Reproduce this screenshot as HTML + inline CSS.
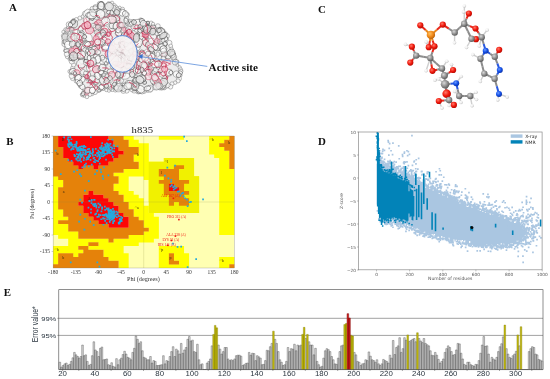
<!DOCTYPE html>
<html lang="en"><head><meta charset="utf-8"><title>Figure</title>
<style>html,body{margin:0;padding:0;background:#fff}svg{display:block}</style></head><body>
<svg width="550" height="379" viewBox="0 0 550 379">
<defs><radialGradient id="gO" cx="0.38" cy="0.35" r="0.7"><stop offset="0" stop-color="#ff7a6a"/><stop offset="0.55" stop-color="#f0180c"/><stop offset="1" stop-color="#b00800"/></radialGradient><radialGradient id="gP" cx="0.38" cy="0.35" r="0.7"><stop offset="0" stop-color="#ffc060"/><stop offset="0.55" stop-color="#f08818"/><stop offset="1" stop-color="#b05c08"/></radialGradient><radialGradient id="gC" cx="0.38" cy="0.35" r="0.7"><stop offset="0" stop-color="#d8d8d8"/><stop offset="0.55" stop-color="#8e8e8e"/><stop offset="1" stop-color="#555"/></radialGradient><radialGradient id="gN" cx="0.38" cy="0.35" r="0.7"><stop offset="0" stop-color="#6a9aff"/><stop offset="0.55" stop-color="#1450e8"/><stop offset="1" stop-color="#0a2ea0"/></radialGradient><radialGradient id="gH" cx="0.38" cy="0.35" r="0.7"><stop offset="0" stop-color="#ffffff"/><stop offset="0.55" stop-color="#ececec"/><stop offset="1" stop-color="#b8b8b8"/></radialGradient></defs>
<rect width="550" height="379" fill="#fff"/>
<g id="panelA">
<polygon points="95.3,6.7 99.1,3.6 105.5,4.7 111.9,3.7 117.0,6.9 122.1,9.5 126.4,14.7 127.8,21.3 133.4,22.0 141.1,20.3 147.5,22.2 153.9,24.7 160.4,28.5 165.6,33.5 166.8,39.9 170.7,46.3 173.4,52.7 174.7,59.1 179.7,66.8 180.8,74.6 177.2,81.0 169.7,86.1 161.9,87.3 154.1,87.2 147.6,91.0 138.6,91.4 131.0,89.4 123.3,90.7 118.3,88.0 111.9,90.7 103.1,89.5 95.3,92.2 87.5,96.2 82.4,95.0 83.8,88.5 78.7,83.4 73.2,78.3 70.2,70.6 73.9,64.2 67.9,56.5 65.3,47.6 63.9,38.6 63.6,32.2 67.5,27.1 70.9,21.9 76.0,19.4 82.5,16.9 86.3,11.8" fill="#ededed" stroke="#8a8a8a" stroke-width="0.7" stroke-linejoin="round"/>
<circle cx="95.5" cy="7.1" r="2.5" fill="#f7f7f7" stroke="#7a7a7a" stroke-width="0.5"/>
<circle cx="99.8" cy="4.0" r="2.6" fill="#f7f7f7" stroke="#7a7a7a" stroke-width="0.5"/>
<circle cx="101.6" cy="4.1" r="2.6" fill="#f7f7f7" stroke="#7a7a7a" stroke-width="0.5"/>
<circle cx="105.8" cy="5.3" r="1.6" fill="#f7f7f7" stroke="#7a7a7a" stroke-width="0.5"/>
<circle cx="108.7" cy="3.8" r="2.2" fill="#f7f7f7" stroke="#7a7a7a" stroke-width="0.5"/>
<circle cx="112.0" cy="2.9" r="1.8" fill="#f7f7f7" stroke="#7a7a7a" stroke-width="0.5"/>
<circle cx="114.1" cy="5.9" r="2.4" fill="#f7f7f7" stroke="#7a7a7a" stroke-width="0.5"/>
<circle cx="116.5" cy="7.3" r="1.7" fill="#f7f7f7" stroke="#7a7a7a" stroke-width="0.5"/>
<circle cx="119.7" cy="7.6" r="1.5" fill="#f7f7f7" stroke="#7a7a7a" stroke-width="0.5"/>
<circle cx="122.7" cy="9.0" r="1.8" fill="#f7f7f7" stroke="#7a7a7a" stroke-width="0.5"/>
<circle cx="125.0" cy="12.7" r="1.8" fill="#f7f7f7" stroke="#7a7a7a" stroke-width="0.5"/>
<circle cx="127.1" cy="14.8" r="2.3" fill="#f7f7f7" stroke="#7a7a7a" stroke-width="0.5"/>
<circle cx="126.6" cy="18.7" r="2.3" fill="#f7f7f7" stroke="#7a7a7a" stroke-width="0.5"/>
<circle cx="128.6" cy="21.9" r="1.9" fill="#f7f7f7" stroke="#7a7a7a" stroke-width="0.5"/>
<circle cx="130.4" cy="21.1" r="1.7" fill="#f7f7f7" stroke="#7a7a7a" stroke-width="0.5"/>
<circle cx="132.7" cy="21.7" r="2.2" fill="#f7f7f7" stroke="#7a7a7a" stroke-width="0.5"/>
<circle cx="135.1" cy="21.7" r="1.9" fill="#f7f7f7" stroke="#7a7a7a" stroke-width="0.5"/>
<circle cx="138.2" cy="21.4" r="2.1" fill="#f7f7f7" stroke="#7a7a7a" stroke-width="0.5"/>
<circle cx="140.8" cy="20.2" r="2.3" fill="#f7f7f7" stroke="#7a7a7a" stroke-width="0.5"/>
<circle cx="143.6" cy="22.0" r="1.5" fill="#f7f7f7" stroke="#7a7a7a" stroke-width="0.5"/>
<circle cx="147.9" cy="22.8" r="1.5" fill="#f7f7f7" stroke="#7a7a7a" stroke-width="0.5"/>
<circle cx="151.1" cy="23.2" r="2.2" fill="#f7f7f7" stroke="#7a7a7a" stroke-width="0.5"/>
<circle cx="153.1" cy="24.0" r="1.7" fill="#f7f7f7" stroke="#7a7a7a" stroke-width="0.5"/>
<circle cx="157.9" cy="26.1" r="2.4" fill="#f7f7f7" stroke="#7a7a7a" stroke-width="0.5"/>
<circle cx="161.1" cy="29.2" r="1.9" fill="#f7f7f7" stroke="#7a7a7a" stroke-width="0.5"/>
<circle cx="162.7" cy="31.0" r="2.4" fill="#f7f7f7" stroke="#7a7a7a" stroke-width="0.5"/>
<circle cx="164.9" cy="33.9" r="2.5" fill="#f7f7f7" stroke="#7a7a7a" stroke-width="0.5"/>
<circle cx="166.8" cy="36.0" r="2.6" fill="#f7f7f7" stroke="#7a7a7a" stroke-width="0.5"/>
<circle cx="166.2" cy="39.7" r="2.2" fill="#f7f7f7" stroke="#7a7a7a" stroke-width="0.5"/>
<circle cx="169.4" cy="42.9" r="2.6" fill="#f7f7f7" stroke="#7a7a7a" stroke-width="0.5"/>
<circle cx="170.8" cy="46.0" r="1.9" fill="#f7f7f7" stroke="#7a7a7a" stroke-width="0.5"/>
<circle cx="171.5" cy="48.8" r="1.7" fill="#f7f7f7" stroke="#7a7a7a" stroke-width="0.5"/>
<circle cx="173.7" cy="53.5" r="1.7" fill="#f7f7f7" stroke="#7a7a7a" stroke-width="0.5"/>
<circle cx="173.3" cy="56.7" r="2.1" fill="#f7f7f7" stroke="#7a7a7a" stroke-width="0.5"/>
<circle cx="174.5" cy="58.7" r="2.2" fill="#f7f7f7" stroke="#7a7a7a" stroke-width="0.5"/>
<circle cx="176.9" cy="61.6" r="2.0" fill="#f7f7f7" stroke="#7a7a7a" stroke-width="0.5"/>
<circle cx="177.3" cy="64.9" r="1.5" fill="#f7f7f7" stroke="#7a7a7a" stroke-width="0.5"/>
<circle cx="179.7" cy="67.4" r="1.7" fill="#f7f7f7" stroke="#7a7a7a" stroke-width="0.5"/>
<circle cx="180.5" cy="70.1" r="2.3" fill="#f7f7f7" stroke="#7a7a7a" stroke-width="0.5"/>
<circle cx="180.9" cy="71.4" r="2.0" fill="#f7f7f7" stroke="#7a7a7a" stroke-width="0.5"/>
<circle cx="180.3" cy="75.1" r="1.9" fill="#f7f7f7" stroke="#7a7a7a" stroke-width="0.5"/>
<circle cx="179.0" cy="78.6" r="2.5" fill="#f7f7f7" stroke="#7a7a7a" stroke-width="0.5"/>
<circle cx="178.0" cy="80.9" r="2.1" fill="#f7f7f7" stroke="#7a7a7a" stroke-width="0.5"/>
<circle cx="175.1" cy="82.7" r="1.8" fill="#f7f7f7" stroke="#7a7a7a" stroke-width="0.5"/>
<circle cx="172.0" cy="83.8" r="2.0" fill="#f7f7f7" stroke="#7a7a7a" stroke-width="0.5"/>
<circle cx="170.5" cy="86.8" r="2.3" fill="#f7f7f7" stroke="#7a7a7a" stroke-width="0.5"/>
<circle cx="167.1" cy="86.2" r="1.6" fill="#f7f7f7" stroke="#7a7a7a" stroke-width="0.5"/>
<circle cx="164.1" cy="87.4" r="2.5" fill="#f7f7f7" stroke="#7a7a7a" stroke-width="0.5"/>
<circle cx="161.6" cy="87.8" r="2.4" fill="#f7f7f7" stroke="#7a7a7a" stroke-width="0.5"/>
<circle cx="159.6" cy="87.5" r="2.4" fill="#f7f7f7" stroke="#7a7a7a" stroke-width="0.5"/>
<circle cx="156.4" cy="87.6" r="1.8" fill="#f7f7f7" stroke="#7a7a7a" stroke-width="0.5"/>
<circle cx="154.0" cy="87.6" r="2.3" fill="#f7f7f7" stroke="#7a7a7a" stroke-width="0.5"/>
<circle cx="150.5" cy="89.8" r="2.3" fill="#f7f7f7" stroke="#7a7a7a" stroke-width="0.5"/>
<circle cx="147.8" cy="90.2" r="2.2" fill="#f7f7f7" stroke="#7a7a7a" stroke-width="0.5"/>
<circle cx="144.2" cy="91.4" r="2.1" fill="#f7f7f7" stroke="#7a7a7a" stroke-width="0.5"/>
<circle cx="142.1" cy="91.5" r="2.5" fill="#f7f7f7" stroke="#7a7a7a" stroke-width="0.5"/>
<circle cx="138.4" cy="91.6" r="2.4" fill="#f7f7f7" stroke="#7a7a7a" stroke-width="0.5"/>
<circle cx="136.6" cy="90.5" r="2.5" fill="#f7f7f7" stroke="#7a7a7a" stroke-width="0.5"/>
<circle cx="134.1" cy="90.4" r="2.7" fill="#f7f7f7" stroke="#7a7a7a" stroke-width="0.5"/>
<circle cx="131.7" cy="89.5" r="2.1" fill="#f7f7f7" stroke="#7a7a7a" stroke-width="0.5"/>
<circle cx="126.6" cy="90.6" r="2.6" fill="#f7f7f7" stroke="#7a7a7a" stroke-width="0.5"/>
<circle cx="123.3" cy="91.0" r="2.4" fill="#f7f7f7" stroke="#7a7a7a" stroke-width="0.5"/>
<circle cx="121.2" cy="88.8" r="2.4" fill="#f7f7f7" stroke="#7a7a7a" stroke-width="0.5"/>
<circle cx="118.4" cy="88.3" r="2.0" fill="#f7f7f7" stroke="#7a7a7a" stroke-width="0.5"/>
<circle cx="115.3" cy="89.8" r="2.3" fill="#f7f7f7" stroke="#7a7a7a" stroke-width="0.5"/>
<circle cx="112.3" cy="89.9" r="1.7" fill="#f7f7f7" stroke="#7a7a7a" stroke-width="0.5"/>
<circle cx="108.9" cy="90.5" r="1.8" fill="#f7f7f7" stroke="#7a7a7a" stroke-width="0.5"/>
<circle cx="106.3" cy="90.1" r="1.6" fill="#f7f7f7" stroke="#7a7a7a" stroke-width="0.5"/>
<circle cx="103.0" cy="89.0" r="1.6" fill="#f7f7f7" stroke="#7a7a7a" stroke-width="0.5"/>
<circle cx="99.9" cy="90.1" r="1.7" fill="#f7f7f7" stroke="#7a7a7a" stroke-width="0.5"/>
<circle cx="97.4" cy="90.5" r="2.1" fill="#f7f7f7" stroke="#7a7a7a" stroke-width="0.5"/>
<circle cx="95.1" cy="92.4" r="2.2" fill="#f7f7f7" stroke="#7a7a7a" stroke-width="0.5"/>
<circle cx="92.3" cy="94.2" r="1.5" fill="#f7f7f7" stroke="#7a7a7a" stroke-width="0.5"/>
<circle cx="90.0" cy="94.5" r="2.0" fill="#f7f7f7" stroke="#7a7a7a" stroke-width="0.5"/>
<circle cx="86.9" cy="96.8" r="1.9" fill="#f7f7f7" stroke="#7a7a7a" stroke-width="0.5"/>
<circle cx="84.2" cy="95.8" r="1.6" fill="#f7f7f7" stroke="#7a7a7a" stroke-width="0.5"/>
<circle cx="82.5" cy="94.7" r="2.2" fill="#f7f7f7" stroke="#7a7a7a" stroke-width="0.5"/>
<circle cx="83.8" cy="92.2" r="2.0" fill="#f7f7f7" stroke="#7a7a7a" stroke-width="0.5"/>
<circle cx="84.3" cy="88.7" r="1.9" fill="#f7f7f7" stroke="#7a7a7a" stroke-width="0.5"/>
<circle cx="80.6" cy="86.1" r="2.2" fill="#f7f7f7" stroke="#7a7a7a" stroke-width="0.5"/>
<circle cx="79.4" cy="84.1" r="2.2" fill="#f7f7f7" stroke="#7a7a7a" stroke-width="0.5"/>
<circle cx="75.7" cy="81.4" r="1.5" fill="#f7f7f7" stroke="#7a7a7a" stroke-width="0.5"/>
<circle cx="72.6" cy="78.4" r="2.2" fill="#f7f7f7" stroke="#7a7a7a" stroke-width="0.5"/>
<circle cx="71.7" cy="75.9" r="2.6" fill="#f7f7f7" stroke="#7a7a7a" stroke-width="0.5"/>
<circle cx="71.0" cy="73.0" r="1.8" fill="#f7f7f7" stroke="#7a7a7a" stroke-width="0.5"/>
<circle cx="69.9" cy="71.4" r="2.0" fill="#f7f7f7" stroke="#7a7a7a" stroke-width="0.5"/>
<circle cx="72.8" cy="68.0" r="2.2" fill="#f7f7f7" stroke="#7a7a7a" stroke-width="0.5"/>
<circle cx="73.6" cy="64.9" r="2.1" fill="#f7f7f7" stroke="#7a7a7a" stroke-width="0.5"/>
<circle cx="71.8" cy="61.3" r="2.7" fill="#f7f7f7" stroke="#7a7a7a" stroke-width="0.5"/>
<circle cx="69.9" cy="58.7" r="2.1" fill="#f7f7f7" stroke="#7a7a7a" stroke-width="0.5"/>
<circle cx="67.3" cy="56.7" r="2.0" fill="#f7f7f7" stroke="#7a7a7a" stroke-width="0.5"/>
<circle cx="66.7" cy="54.0" r="2.5" fill="#f7f7f7" stroke="#7a7a7a" stroke-width="0.5"/>
<circle cx="65.4" cy="50.6" r="1.8" fill="#f7f7f7" stroke="#7a7a7a" stroke-width="0.5"/>
<circle cx="66.0" cy="48.0" r="1.8" fill="#f7f7f7" stroke="#7a7a7a" stroke-width="0.5"/>
<circle cx="64.5" cy="44.0" r="2.7" fill="#f7f7f7" stroke="#7a7a7a" stroke-width="0.5"/>
<circle cx="64.1" cy="41.8" r="2.1" fill="#f7f7f7" stroke="#7a7a7a" stroke-width="0.5"/>
<circle cx="64.2" cy="38.8" r="2.4" fill="#f7f7f7" stroke="#7a7a7a" stroke-width="0.5"/>
<circle cx="63.2" cy="35.8" r="1.9" fill="#f7f7f7" stroke="#7a7a7a" stroke-width="0.5"/>
<circle cx="63.7" cy="31.9" r="1.9" fill="#f7f7f7" stroke="#7a7a7a" stroke-width="0.5"/>
<circle cx="65.6" cy="29.6" r="1.9" fill="#f7f7f7" stroke="#7a7a7a" stroke-width="0.5"/>
<circle cx="67.9" cy="27.2" r="1.5" fill="#f7f7f7" stroke="#7a7a7a" stroke-width="0.5"/>
<circle cx="68.8" cy="24.4" r="2.6" fill="#f7f7f7" stroke="#7a7a7a" stroke-width="0.5"/>
<circle cx="71.5" cy="22.0" r="1.5" fill="#f7f7f7" stroke="#7a7a7a" stroke-width="0.5"/>
<circle cx="73.9" cy="20.6" r="2.2" fill="#f7f7f7" stroke="#7a7a7a" stroke-width="0.5"/>
<circle cx="76.4" cy="19.6" r="2.1" fill="#f7f7f7" stroke="#7a7a7a" stroke-width="0.5"/>
<circle cx="79.9" cy="18.0" r="2.0" fill="#f7f7f7" stroke="#7a7a7a" stroke-width="0.5"/>
<circle cx="83.1" cy="16.4" r="1.9" fill="#f7f7f7" stroke="#7a7a7a" stroke-width="0.5"/>
<circle cx="84.9" cy="13.7" r="2.5" fill="#f7f7f7" stroke="#7a7a7a" stroke-width="0.5"/>
<circle cx="86.6" cy="11.7" r="1.8" fill="#f7f7f7" stroke="#7a7a7a" stroke-width="0.5"/>
<circle cx="89.8" cy="10.8" r="1.7" fill="#f7f7f7" stroke="#7a7a7a" stroke-width="0.5"/>
<circle cx="92.3" cy="8.5" r="2.1" fill="#f7f7f7" stroke="#7a7a7a" stroke-width="0.5"/>
<ellipse cx="99.7" cy="16.7" rx="3.5" ry="2.4" transform="rotate(41 99.7 16.7)" fill="#ffffff" fill-opacity="0.6" stroke="#444" stroke-width="0.55" stroke-opacity="1.0"/>
<ellipse cx="100.0" cy="43.2" rx="1.8" ry="1.8" transform="rotate(22 100.0 43.2)" fill="#f7f0f0" fill-opacity="0.85" stroke="#d0506c" stroke-width="0.5" stroke-opacity="0.85"/>
<ellipse cx="146.9" cy="44.0" rx="1.8" ry="2.4" transform="rotate(12 146.9 44.0)" fill="#f7f0f0" fill-opacity="0.7" stroke="#c23a5a" stroke-width="0.9" stroke-opacity="0.85"/>
<ellipse cx="151.9" cy="28.9" rx="2.5" ry="2.9" transform="rotate(112 151.9 28.9)" fill="#f6c3cf" fill-opacity="0.85" stroke="#b83050" stroke-width="0.9" stroke-opacity="0.85"/>
<ellipse cx="119.7" cy="35.9" rx="3.8" ry="2.6" transform="rotate(53 119.7 35.9)" fill="#e0e0e0" fill-opacity="0.9" stroke="#444" stroke-width="0.55" stroke-opacity="0.8"/>
<ellipse cx="127.3" cy="23.2" rx="1.6" ry="2.1" transform="rotate(51 127.3 23.2)" fill="#f4f4f4" fill-opacity="0.75" stroke="#444" stroke-width="0.55" stroke-opacity="0.8"/>
<ellipse cx="147.9" cy="64.9" rx="2.0" ry="1.5" transform="rotate(22 147.9 64.9)" fill="#f4f4f4" fill-opacity="0.75" stroke="#444" stroke-width="0.55" stroke-opacity="0.8"/>
<ellipse cx="118.5" cy="33.0" rx="2.7" ry="3.9" transform="rotate(10 118.5 33.0)" fill="#f1a5b7" fill-opacity="0.85" stroke="#d0506c" stroke-width="0.5" stroke-opacity="0.85"/>
<ellipse cx="141.8" cy="80.8" rx="2.1" ry="1.9" transform="rotate(42 141.8 80.8)" fill="#e0e0e0" fill-opacity="0.75" stroke="#444" stroke-width="0.55" stroke-opacity="1.0"/>
<ellipse cx="158.3" cy="38.3" rx="3.1" ry="3.0" transform="rotate(114 158.3 38.3)" fill="#fafafa" fill-opacity="0.6" stroke="#444" stroke-width="0.55" stroke-opacity="1.0"/>
<ellipse cx="132.7" cy="57.0" rx="3.2" ry="2.7" transform="rotate(6 132.7 57.0)" fill="#f6c3cf" fill-opacity="0.85" stroke="#b83050" stroke-width="0.7" stroke-opacity="0.85"/>
<ellipse cx="117.2" cy="87.4" rx="3.0" ry="3.1" transform="rotate(18 117.2 87.4)" fill="#f4f4f4" fill-opacity="0.75" stroke="#444" stroke-width="0.55" stroke-opacity="0.6"/>
<ellipse cx="167.5" cy="85.4" rx="2.8" ry="2.3" transform="rotate(147 167.5 85.4)" fill="#f4f4f4" fill-opacity="0.75" stroke="#444" stroke-width="0.55" stroke-opacity="0.6"/>
<ellipse cx="152.8" cy="32.3" rx="1.4" ry="1.8" transform="rotate(153 152.8 32.3)" fill="#fafafa" fill-opacity="0.75" stroke="#444" stroke-width="0.55" stroke-opacity="0.8"/>
<ellipse cx="143.0" cy="72.0" rx="1.8" ry="1.6" transform="rotate(41 143.0 72.0)" fill="#f1a5b7" fill-opacity="0.85" stroke="#d0506c" stroke-width="0.7" stroke-opacity="0.85"/>
<ellipse cx="97.3" cy="46.9" rx="2.6" ry="2.6" transform="rotate(29 97.3 46.9)" fill="#f4b4c3" fill-opacity="0.85" stroke="#c23a5a" stroke-width="0.9" stroke-opacity="0.85"/>
<ellipse cx="156.2" cy="41.4" rx="1.8" ry="2.2" transform="rotate(93 156.2 41.4)" fill="#ffffff" fill-opacity="0.6" stroke="#444" stroke-width="0.55" stroke-opacity="1.0"/>
<ellipse cx="87.9" cy="79.1" rx="1.9" ry="2.1" transform="rotate(116 87.9 79.1)" fill="#ffffff" fill-opacity="0.75" stroke="#444" stroke-width="0.55" stroke-opacity="0.6"/>
<ellipse cx="163.0" cy="44.8" rx="3.7" ry="3.8" transform="rotate(35 163.0 44.8)" fill="#e9e9e9" fill-opacity="0.9" stroke="#444" stroke-width="0.55" stroke-opacity="0.6"/>
<ellipse cx="87.4" cy="91.0" rx="2.8" ry="4.3" transform="rotate(29 87.4 91.0)" fill="#f4b4c3" fill-opacity="0.7" stroke="#d0506c" stroke-width="0.5" stroke-opacity="0.85"/>
<ellipse cx="126.0" cy="48.7" rx="2.8" ry="3.2" transform="rotate(131 126.0 48.7)" fill="#fafafa" fill-opacity="0.75" stroke="#444" stroke-width="0.55" stroke-opacity="1.0"/>
<ellipse cx="118.9" cy="76.9" rx="2.2" ry="1.9" transform="rotate(97 118.9 76.9)" fill="#ffffff" fill-opacity="0.9" stroke="#444" stroke-width="0.55" stroke-opacity="0.8"/>
<ellipse cx="142.0" cy="28.5" rx="2.5" ry="3.1" transform="rotate(143 142.0 28.5)" fill="#ffffff" fill-opacity="0.75" stroke="#444" stroke-width="0.55" stroke-opacity="0.6"/>
<ellipse cx="155.0" cy="38.5" rx="2.6" ry="3.1" transform="rotate(169 155.0 38.5)" fill="#f6c3cf" fill-opacity="0.85" stroke="#b83050" stroke-width="0.5" stroke-opacity="0.85"/>
<ellipse cx="149.7" cy="69.3" rx="2.6" ry="2.2" transform="rotate(23 149.7 69.3)" fill="#f4b4c3" fill-opacity="0.7" stroke="#c23a5a" stroke-width="0.7" stroke-opacity="0.85"/>
<ellipse cx="143.2" cy="29.4" rx="2.1" ry="1.9" transform="rotate(5 143.2 29.4)" fill="#f4b4c3" fill-opacity="0.7" stroke="#b83050" stroke-width="0.7" stroke-opacity="0.85"/>
<ellipse cx="87.1" cy="43.2" rx="2.3" ry="1.9" transform="rotate(105 87.1 43.2)" fill="#ffffff" fill-opacity="0.9" stroke="#444" stroke-width="0.55" stroke-opacity="0.8"/>
<ellipse cx="134.3" cy="62.5" rx="2.3" ry="1.9" transform="rotate(77 134.3 62.5)" fill="#e9e9e9" fill-opacity="0.75" stroke="#444" stroke-width="0.55" stroke-opacity="0.6"/>
<ellipse cx="78.2" cy="47.4" rx="2.1" ry="2.3" transform="rotate(153 78.2 47.4)" fill="#f4f4f4" fill-opacity="0.6" stroke="#444" stroke-width="0.55" stroke-opacity="0.6"/>
<ellipse cx="146.8" cy="36.0" rx="2.4" ry="3.2" transform="rotate(55 146.8 36.0)" fill="#f4f4f4" fill-opacity="0.75" stroke="#444" stroke-width="0.55" stroke-opacity="0.8"/>
<ellipse cx="159.9" cy="80.2" rx="3.8" ry="2.5" transform="rotate(89 159.9 80.2)" fill="#f4f4f4" fill-opacity="0.75" stroke="#444" stroke-width="0.55" stroke-opacity="0.6"/>
<ellipse cx="106.1" cy="11.0" rx="2.9" ry="2.3" transform="rotate(166 106.1 11.0)" fill="#fafafa" fill-opacity="0.9" stroke="#444" stroke-width="0.55" stroke-opacity="0.8"/>
<ellipse cx="117.2" cy="53.2" rx="1.6" ry="2.1" transform="rotate(19 117.2 53.2)" fill="#e0e0e0" fill-opacity="0.75" stroke="#444" stroke-width="0.55" stroke-opacity="0.6"/>
<ellipse cx="134.9" cy="51.3" rx="2.9" ry="3.1" transform="rotate(81 134.9 51.3)" fill="#e0e0e0" fill-opacity="0.9" stroke="#444" stroke-width="0.55" stroke-opacity="1.0"/>
<ellipse cx="142.4" cy="53.5" rx="3.3" ry="3.7" transform="rotate(122 142.4 53.5)" fill="#fafafa" fill-opacity="0.6" stroke="#444" stroke-width="0.55" stroke-opacity="0.8"/>
<ellipse cx="134.9" cy="84.8" rx="3.7" ry="4.7" transform="rotate(3 134.9 84.8)" fill="#f4f4f4" fill-opacity="0.6" stroke="#444" stroke-width="0.55" stroke-opacity="0.6"/>
<ellipse cx="152.9" cy="66.3" rx="4.6" ry="4.2" transform="rotate(151 152.9 66.3)" fill="#e0e0e0" fill-opacity="0.6" stroke="#444" stroke-width="0.55" stroke-opacity="1.0"/>
<ellipse cx="118.9" cy="10.8" rx="1.8" ry="2.2" transform="rotate(76 118.9 10.8)" fill="#e9e9e9" fill-opacity="0.6" stroke="#444" stroke-width="0.55" stroke-opacity="0.8"/>
<ellipse cx="152.6" cy="52.7" rx="2.3" ry="2.0" transform="rotate(58 152.6 52.7)" fill="#e0e0e0" fill-opacity="0.9" stroke="#444" stroke-width="0.55" stroke-opacity="1.0"/>
<ellipse cx="70.6" cy="30.2" rx="4.0" ry="2.8" transform="rotate(171 70.6 30.2)" fill="#f1a5b7" fill-opacity="0.85" stroke="#c23a5a" stroke-width="0.5" stroke-opacity="0.85"/>
<ellipse cx="162.6" cy="86.3" rx="3.2" ry="3.2" transform="rotate(95 162.6 86.3)" fill="#fafafa" fill-opacity="0.75" stroke="#444" stroke-width="0.55" stroke-opacity="0.8"/>
<ellipse cx="99.7" cy="42.5" rx="1.8" ry="2.1" transform="rotate(101 99.7 42.5)" fill="#fafafa" fill-opacity="0.6" stroke="#444" stroke-width="0.55" stroke-opacity="1.0"/>
<ellipse cx="139.4" cy="68.3" rx="2.7" ry="3.3" transform="rotate(150 139.4 68.3)" fill="#fafafa" fill-opacity="0.75" stroke="#444" stroke-width="0.55" stroke-opacity="0.6"/>
<ellipse cx="139.3" cy="91.0" rx="2.4" ry="2.6" transform="rotate(86 139.3 91.0)" fill="#f4f4f4" fill-opacity="0.6" stroke="#444" stroke-width="0.55" stroke-opacity="1.0"/>
<ellipse cx="72.1" cy="34.2" rx="2.8" ry="2.6" transform="rotate(79 72.1 34.2)" fill="#f4f4f4" fill-opacity="0.9" stroke="#444" stroke-width="0.55" stroke-opacity="1.0"/>
<ellipse cx="84.0" cy="37.9" rx="3.0" ry="3.1" transform="rotate(15 84.0 37.9)" fill="#e0e0e0" fill-opacity="0.75" stroke="#444" stroke-width="0.55" stroke-opacity="0.8"/>
<ellipse cx="101.2" cy="73.3" rx="3.4" ry="3.1" transform="rotate(3 101.2 73.3)" fill="#fafafa" fill-opacity="0.6" stroke="#444" stroke-width="0.55" stroke-opacity="1.0"/>
<ellipse cx="94.6" cy="49.9" rx="3.7" ry="3.4" transform="rotate(53 94.6 49.9)" fill="#ffffff" fill-opacity="0.75" stroke="#444" stroke-width="0.55" stroke-opacity="1.0"/>
<ellipse cx="88.0" cy="66.0" rx="1.6" ry="1.5" transform="rotate(86 88.0 66.0)" fill="#e0e0e0" fill-opacity="0.6" stroke="#444" stroke-width="0.55" stroke-opacity="0.8"/>
<ellipse cx="69.6" cy="36.2" rx="2.7" ry="4.0" transform="rotate(65 69.6 36.2)" fill="#fbe3e8" fill-opacity="0.7" stroke="#d0506c" stroke-width="0.7" stroke-opacity="0.85"/>
<ellipse cx="133.4" cy="82.6" rx="2.1" ry="2.3" transform="rotate(139 133.4 82.6)" fill="#e0e0e0" fill-opacity="0.9" stroke="#444" stroke-width="0.55" stroke-opacity="1.0"/>
<ellipse cx="135.9" cy="58.4" rx="2.1" ry="2.4" transform="rotate(146 135.9 58.4)" fill="#e9e9e9" fill-opacity="0.6" stroke="#444" stroke-width="0.55" stroke-opacity="0.8"/>
<ellipse cx="156.4" cy="42.5" rx="4.8" ry="3.4" transform="rotate(76 156.4 42.5)" fill="#e9e9e9" fill-opacity="0.75" stroke="#444" stroke-width="0.55" stroke-opacity="0.8"/>
<ellipse cx="154.9" cy="74.8" rx="2.0" ry="1.4" transform="rotate(74 154.9 74.8)" fill="#f6c3cf" fill-opacity="0.7" stroke="#d0506c" stroke-width="0.7" stroke-opacity="0.85"/>
<ellipse cx="87.8" cy="90.3" rx="3.0" ry="3.3" transform="rotate(77 87.8 90.3)" fill="#fafafa" fill-opacity="0.6" stroke="#444" stroke-width="0.55" stroke-opacity="0.8"/>
<ellipse cx="77.1" cy="51.8" rx="4.3" ry="3.2" transform="rotate(20 77.1 51.8)" fill="#fafafa" fill-opacity="0.75" stroke="#444" stroke-width="0.55" stroke-opacity="0.8"/>
<ellipse cx="172.2" cy="54.6" rx="3.2" ry="3.3" transform="rotate(25 172.2 54.6)" fill="#ffffff" fill-opacity="0.75" stroke="#444" stroke-width="0.55" stroke-opacity="1.0"/>
<ellipse cx="74.8" cy="48.2" rx="2.5" ry="3.7" transform="rotate(75 74.8 48.2)" fill="#e0e0e0" fill-opacity="0.75" stroke="#444" stroke-width="0.55" stroke-opacity="0.6"/>
<ellipse cx="101.6" cy="4.1" rx="2.3" ry="2.5" transform="rotate(166 101.6 4.1)" fill="#e0e0e0" fill-opacity="0.9" stroke="#444" stroke-width="0.55" stroke-opacity="0.8"/>
<ellipse cx="131.5" cy="59.0" rx="2.4" ry="3.0" transform="rotate(106 131.5 59.0)" fill="#e9e9e9" fill-opacity="0.9" stroke="#444" stroke-width="0.55" stroke-opacity="0.6"/>
<ellipse cx="84.7" cy="61.4" rx="1.9" ry="2.2" transform="rotate(67 84.7 61.4)" fill="#e9e9e9" fill-opacity="0.6" stroke="#444" stroke-width="0.55" stroke-opacity="0.8"/>
<ellipse cx="120.3" cy="56.3" rx="2.1" ry="1.7" transform="rotate(16 120.3 56.3)" fill="#f4f4f4" fill-opacity="0.75" stroke="#444" stroke-width="0.55" stroke-opacity="0.8"/>
<ellipse cx="91.2" cy="28.5" rx="3.9" ry="3.1" transform="rotate(149 91.2 28.5)" fill="#e9e9e9" fill-opacity="0.9" stroke="#444" stroke-width="0.55" stroke-opacity="0.6"/>
<ellipse cx="157.4" cy="69.4" rx="3.6" ry="3.7" transform="rotate(151 157.4 69.4)" fill="#e0e0e0" fill-opacity="0.9" stroke="#444" stroke-width="0.55" stroke-opacity="0.6"/>
<ellipse cx="102.7" cy="13.9" rx="3.0" ry="2.9" transform="rotate(121 102.7 13.9)" fill="#ffffff" fill-opacity="0.75" stroke="#444" stroke-width="0.55" stroke-opacity="1.0"/>
<ellipse cx="72.8" cy="71.2" rx="3.3" ry="2.7" transform="rotate(171 72.8 71.2)" fill="#ffffff" fill-opacity="0.9" stroke="#444" stroke-width="0.55" stroke-opacity="1.0"/>
<ellipse cx="148.2" cy="31.2" rx="2.9" ry="3.4" transform="rotate(172 148.2 31.2)" fill="#fafafa" fill-opacity="0.75" stroke="#444" stroke-width="0.55" stroke-opacity="0.6"/>
<ellipse cx="153.1" cy="26.8" rx="1.8" ry="2.7" transform="rotate(93 153.1 26.8)" fill="#e9e9e9" fill-opacity="0.6" stroke="#444" stroke-width="0.55" stroke-opacity="0.8"/>
<ellipse cx="97.6" cy="60.7" rx="2.3" ry="3.4" transform="rotate(115 97.6 60.7)" fill="#e0e0e0" fill-opacity="0.75" stroke="#444" stroke-width="0.55" stroke-opacity="1.0"/>
<ellipse cx="119.9" cy="68.0" rx="2.8" ry="3.2" transform="rotate(26 119.9 68.0)" fill="#f1a5b7" fill-opacity="0.55" stroke="#d0506c" stroke-width="0.9" stroke-opacity="0.85"/>
<ellipse cx="128.0" cy="65.6" rx="3.0" ry="3.1" transform="rotate(53 128.0 65.6)" fill="#fbe3e8" fill-opacity="0.85" stroke="#b83050" stroke-width="0.7" stroke-opacity="0.85"/>
<ellipse cx="91.3" cy="62.4" rx="3.8" ry="2.6" transform="rotate(139 91.3 62.4)" fill="#ffffff" fill-opacity="0.75" stroke="#444" stroke-width="0.55" stroke-opacity="1.0"/>
<ellipse cx="164.4" cy="57.9" rx="2.2" ry="1.7" transform="rotate(115 164.4 57.9)" fill="#fafafa" fill-opacity="0.75" stroke="#444" stroke-width="0.55" stroke-opacity="0.6"/>
<ellipse cx="97.3" cy="30.1" rx="3.0" ry="2.4" transform="rotate(12 97.3 30.1)" fill="#f6c3cf" fill-opacity="0.85" stroke="#c23a5a" stroke-width="0.9" stroke-opacity="0.85"/>
<ellipse cx="109.2" cy="46.3" rx="1.8" ry="2.2" transform="rotate(97 109.2 46.3)" fill="#e0e0e0" fill-opacity="0.75" stroke="#444" stroke-width="0.55" stroke-opacity="0.8"/>
<ellipse cx="72.5" cy="53.6" rx="2.3" ry="1.9" transform="rotate(79 72.5 53.6)" fill="#e0e0e0" fill-opacity="0.75" stroke="#444" stroke-width="0.55" stroke-opacity="0.8"/>
<ellipse cx="82.2" cy="86.6" rx="2.6" ry="3.0" transform="rotate(154 82.2 86.6)" fill="#fafafa" fill-opacity="0.9" stroke="#444" stroke-width="0.55" stroke-opacity="0.8"/>
<ellipse cx="173.6" cy="57.1" rx="2.5" ry="3.2" transform="rotate(46 173.6 57.1)" fill="#e0e0e0" fill-opacity="0.6" stroke="#444" stroke-width="0.55" stroke-opacity="0.6"/>
<ellipse cx="133.1" cy="45.9" rx="4.4" ry="3.8" transform="rotate(42 133.1 45.9)" fill="#f6c3cf" fill-opacity="0.7" stroke="#d0506c" stroke-width="0.7" stroke-opacity="0.85"/>
<ellipse cx="136.1" cy="84.3" rx="2.3" ry="1.7" transform="rotate(104 136.1 84.3)" fill="#fafafa" fill-opacity="0.6" stroke="#444" stroke-width="0.55" stroke-opacity="1.0"/>
<ellipse cx="126.4" cy="55.3" rx="1.7" ry="2.2" transform="rotate(87 126.4 55.3)" fill="#e0e0e0" fill-opacity="0.75" stroke="#444" stroke-width="0.55" stroke-opacity="1.0"/>
<ellipse cx="94.4" cy="52.3" rx="2.2" ry="2.7" transform="rotate(52 94.4 52.3)" fill="#f6c3cf" fill-opacity="0.55" stroke="#c23a5a" stroke-width="0.7" stroke-opacity="0.85"/>
<ellipse cx="97.4" cy="83.9" rx="3.1" ry="3.7" transform="rotate(122 97.4 83.9)" fill="#e0e0e0" fill-opacity="0.75" stroke="#444" stroke-width="0.55" stroke-opacity="1.0"/>
<ellipse cx="147.7" cy="61.0" rx="2.9" ry="3.5" transform="rotate(0 147.7 61.0)" fill="#e9e9e9" fill-opacity="0.6" stroke="#444" stroke-width="0.55" stroke-opacity="0.8"/>
<ellipse cx="180.4" cy="72.7" rx="1.7" ry="2.1" transform="rotate(120 180.4 72.7)" fill="#ffffff" fill-opacity="0.75" stroke="#444" stroke-width="0.55" stroke-opacity="0.8"/>
<ellipse cx="139.2" cy="24.0" rx="1.8" ry="2.5" transform="rotate(105 139.2 24.0)" fill="#e0e0e0" fill-opacity="0.75" stroke="#444" stroke-width="0.55" stroke-opacity="0.8"/>
<ellipse cx="131.4" cy="23.4" rx="1.9" ry="1.9" transform="rotate(145 131.4 23.4)" fill="#ffffff" fill-opacity="0.9" stroke="#444" stroke-width="0.55" stroke-opacity="0.8"/>
<ellipse cx="115.7" cy="44.1" rx="3.5" ry="3.6" transform="rotate(4 115.7 44.1)" fill="#e0e0e0" fill-opacity="0.75" stroke="#444" stroke-width="0.55" stroke-opacity="1.0"/>
<ellipse cx="163.2" cy="61.0" rx="3.9" ry="3.5" transform="rotate(4 163.2 61.0)" fill="#e0e0e0" fill-opacity="0.6" stroke="#444" stroke-width="0.55" stroke-opacity="0.6"/>
<ellipse cx="125.3" cy="87.2" rx="2.0" ry="1.6" transform="rotate(10 125.3 87.2)" fill="#e9e9e9" fill-opacity="0.6" stroke="#444" stroke-width="0.55" stroke-opacity="0.8"/>
<ellipse cx="106.4" cy="20.0" rx="2.4" ry="1.7" transform="rotate(173 106.4 20.0)" fill="#e0e0e0" fill-opacity="0.9" stroke="#444" stroke-width="0.55" stroke-opacity="0.6"/>
<ellipse cx="144.6" cy="82.5" rx="1.9" ry="2.0" transform="rotate(76 144.6 82.5)" fill="#e0e0e0" fill-opacity="0.9" stroke="#444" stroke-width="0.55" stroke-opacity="1.0"/>
<ellipse cx="113.9" cy="20.3" rx="2.1" ry="2.6" transform="rotate(138 113.9 20.3)" fill="#f7f0f0" fill-opacity="0.85" stroke="#c23a5a" stroke-width="0.7" stroke-opacity="0.85"/>
<ellipse cx="103.7" cy="15.8" rx="1.8" ry="2.0" transform="rotate(77 103.7 15.8)" fill="#f6c3cf" fill-opacity="0.7" stroke="#d0506c" stroke-width="0.9" stroke-opacity="0.85"/>
<ellipse cx="99.1" cy="90.7" rx="1.6" ry="1.4" transform="rotate(11 99.1 90.7)" fill="#e9e9e9" fill-opacity="0.9" stroke="#444" stroke-width="0.55" stroke-opacity="0.8"/>
<ellipse cx="134.6" cy="53.5" rx="2.0" ry="2.0" transform="rotate(148 134.6 53.5)" fill="#fbe3e8" fill-opacity="0.55" stroke="#c23a5a" stroke-width="0.9" stroke-opacity="0.85"/>
<ellipse cx="155.8" cy="48.5" rx="2.0" ry="1.7" transform="rotate(15 155.8 48.5)" fill="#f4f4f4" fill-opacity="0.75" stroke="#444" stroke-width="0.55" stroke-opacity="0.8"/>
<ellipse cx="165.9" cy="76.8" rx="2.6" ry="2.0" transform="rotate(93 165.9 76.8)" fill="#f6c3cf" fill-opacity="0.85" stroke="#c23a5a" stroke-width="0.7" stroke-opacity="0.85"/>
<ellipse cx="96.3" cy="42.7" rx="3.2" ry="3.8" transform="rotate(93 96.3 42.7)" fill="#ffffff" fill-opacity="0.75" stroke="#444" stroke-width="0.55" stroke-opacity="1.0"/>
<ellipse cx="67.2" cy="38.1" rx="2.2" ry="2.8" transform="rotate(76 67.2 38.1)" fill="#f4f4f4" fill-opacity="0.9" stroke="#444" stroke-width="0.55" stroke-opacity="0.8"/>
<ellipse cx="71.1" cy="33.2" rx="3.6" ry="2.8" transform="rotate(174 71.1 33.2)" fill="#ffffff" fill-opacity="0.6" stroke="#444" stroke-width="0.55" stroke-opacity="1.0"/>
<ellipse cx="116.0" cy="87.4" rx="2.9" ry="2.3" transform="rotate(92 116.0 87.4)" fill="#e9e9e9" fill-opacity="0.6" stroke="#444" stroke-width="0.55" stroke-opacity="1.0"/>
<ellipse cx="135.5" cy="40.9" rx="2.2" ry="2.6" transform="rotate(158 135.5 40.9)" fill="#fafafa" fill-opacity="0.9" stroke="#444" stroke-width="0.55" stroke-opacity="0.8"/>
<ellipse cx="96.5" cy="56.5" rx="3.3" ry="2.4" transform="rotate(166 96.5 56.5)" fill="#fafafa" fill-opacity="0.75" stroke="#444" stroke-width="0.55" stroke-opacity="0.8"/>
<ellipse cx="115.5" cy="17.5" rx="2.7" ry="2.5" transform="rotate(154 115.5 17.5)" fill="#e0e0e0" fill-opacity="0.6" stroke="#444" stroke-width="0.55" stroke-opacity="0.8"/>
<ellipse cx="80.4" cy="47.6" rx="2.6" ry="2.0" transform="rotate(159 80.4 47.6)" fill="#fafafa" fill-opacity="0.6" stroke="#444" stroke-width="0.55" stroke-opacity="1.0"/>
<ellipse cx="107.2" cy="84.3" rx="3.3" ry="4.5" transform="rotate(131 107.2 84.3)" fill="#fafafa" fill-opacity="0.6" stroke="#444" stroke-width="0.55" stroke-opacity="0.6"/>
<ellipse cx="144.1" cy="32.3" rx="1.8" ry="2.5" transform="rotate(93 144.1 32.3)" fill="#f1a5b7" fill-opacity="0.55" stroke="#c23a5a" stroke-width="0.5" stroke-opacity="0.85"/>
<ellipse cx="141.0" cy="25.4" rx="2.9" ry="2.8" transform="rotate(162 141.0 25.4)" fill="#fafafa" fill-opacity="0.75" stroke="#444" stroke-width="0.55" stroke-opacity="0.6"/>
<ellipse cx="100.4" cy="35.4" rx="2.8" ry="3.1" transform="rotate(6 100.4 35.4)" fill="#f4f4f4" fill-opacity="0.6" stroke="#444" stroke-width="0.55" stroke-opacity="0.6"/>
<ellipse cx="97.6" cy="37.3" rx="1.9" ry="1.9" transform="rotate(20 97.6 37.3)" fill="#ffffff" fill-opacity="0.6" stroke="#444" stroke-width="0.55" stroke-opacity="0.6"/>
<ellipse cx="137.9" cy="76.1" rx="3.9" ry="4.5" transform="rotate(63 137.9 76.1)" fill="#e9e9e9" fill-opacity="0.75" stroke="#444" stroke-width="0.55" stroke-opacity="0.6"/>
<ellipse cx="96.6" cy="39.6" rx="2.7" ry="2.6" transform="rotate(138 96.6 39.6)" fill="#f4f4f4" fill-opacity="0.9" stroke="#444" stroke-width="0.55" stroke-opacity="0.6"/>
<ellipse cx="152.1" cy="74.6" rx="3.3" ry="4.2" transform="rotate(17 152.1 74.6)" fill="#fafafa" fill-opacity="0.75" stroke="#444" stroke-width="0.55" stroke-opacity="0.6"/>
<ellipse cx="76.6" cy="73.2" rx="3.5" ry="3.3" transform="rotate(111 76.6 73.2)" fill="#f6c3cf" fill-opacity="0.85" stroke="#d0506c" stroke-width="0.7" stroke-opacity="0.85"/>
<ellipse cx="107.5" cy="32.4" rx="3.7" ry="3.6" transform="rotate(53 107.5 32.4)" fill="#f6c3cf" fill-opacity="0.55" stroke="#d0506c" stroke-width="0.9" stroke-opacity="0.85"/>
<ellipse cx="96.1" cy="23.9" rx="2.3" ry="2.2" transform="rotate(51 96.1 23.9)" fill="#f4f4f4" fill-opacity="0.6" stroke="#444" stroke-width="0.55" stroke-opacity="0.6"/>
<ellipse cx="134.4" cy="61.0" rx="3.8" ry="3.1" transform="rotate(79 134.4 61.0)" fill="#fafafa" fill-opacity="0.9" stroke="#444" stroke-width="0.55" stroke-opacity="0.6"/>
<ellipse cx="81.5" cy="46.7" rx="2.4" ry="3.3" transform="rotate(62 81.5 46.7)" fill="#e0e0e0" fill-opacity="0.75" stroke="#444" stroke-width="0.55" stroke-opacity="0.6"/>
<ellipse cx="78.1" cy="77.5" rx="3.0" ry="3.0" transform="rotate(109 78.1 77.5)" fill="#f4f4f4" fill-opacity="0.9" stroke="#444" stroke-width="0.55" stroke-opacity="0.8"/>
<ellipse cx="92.0" cy="17.5" rx="3.1" ry="2.1" transform="rotate(63 92.0 17.5)" fill="#e0e0e0" fill-opacity="0.6" stroke="#444" stroke-width="0.55" stroke-opacity="0.6"/>
<ellipse cx="159.6" cy="38.4" rx="2.8" ry="3.4" transform="rotate(176 159.6 38.4)" fill="#e9e9e9" fill-opacity="0.6" stroke="#444" stroke-width="0.55" stroke-opacity="1.0"/>
<ellipse cx="121.6" cy="65.6" rx="2.7" ry="2.3" transform="rotate(111 121.6 65.6)" fill="#f4f4f4" fill-opacity="0.9" stroke="#444" stroke-width="0.55" stroke-opacity="0.8"/>
<ellipse cx="162.1" cy="84.2" rx="3.9" ry="4.3" transform="rotate(119 162.1 84.2)" fill="#f4f4f4" fill-opacity="0.75" stroke="#444" stroke-width="0.55" stroke-opacity="0.8"/>
<ellipse cx="118.4" cy="83.6" rx="2.4" ry="2.1" transform="rotate(88 118.4 83.6)" fill="#f4f4f4" fill-opacity="0.75" stroke="#444" stroke-width="0.55" stroke-opacity="0.6"/>
<ellipse cx="147.5" cy="23.2" rx="1.7" ry="2.0" transform="rotate(84 147.5 23.2)" fill="#ffffff" fill-opacity="0.6" stroke="#444" stroke-width="0.55" stroke-opacity="1.0"/>
<ellipse cx="153.9" cy="82.8" rx="2.3" ry="2.2" transform="rotate(4 153.9 82.8)" fill="#e9e9e9" fill-opacity="0.9" stroke="#444" stroke-width="0.55" stroke-opacity="1.0"/>
<ellipse cx="123.5" cy="74.6" rx="2.1" ry="2.1" transform="rotate(92 123.5 74.6)" fill="#e0e0e0" fill-opacity="0.6" stroke="#444" stroke-width="0.55" stroke-opacity="0.8"/>
<ellipse cx="155.0" cy="58.4" rx="2.1" ry="1.5" transform="rotate(99 155.0 58.4)" fill="#fbe3e8" fill-opacity="0.55" stroke="#c23a5a" stroke-width="0.9" stroke-opacity="0.85"/>
<ellipse cx="113.9" cy="8.4" rx="3.4" ry="2.5" transform="rotate(75 113.9 8.4)" fill="#e9e9e9" fill-opacity="0.75" stroke="#444" stroke-width="0.55" stroke-opacity="0.6"/>
<ellipse cx="97.6" cy="75.8" rx="3.6" ry="3.4" transform="rotate(53 97.6 75.8)" fill="#e9e9e9" fill-opacity="0.6" stroke="#444" stroke-width="0.55" stroke-opacity="0.8"/>
<ellipse cx="125.0" cy="62.5" rx="1.9" ry="2.1" transform="rotate(18 125.0 62.5)" fill="#f4f4f4" fill-opacity="0.6" stroke="#444" stroke-width="0.55" stroke-opacity="1.0"/>
<ellipse cx="148.3" cy="72.8" rx="2.7" ry="3.2" transform="rotate(84 148.3 72.8)" fill="#f4f4f4" fill-opacity="0.9" stroke="#444" stroke-width="0.55" stroke-opacity="0.8"/>
<ellipse cx="70.4" cy="52.0" rx="2.3" ry="1.5" transform="rotate(105 70.4 52.0)" fill="#e0e0e0" fill-opacity="0.75" stroke="#444" stroke-width="0.55" stroke-opacity="1.0"/>
<ellipse cx="124.0" cy="66.6" rx="3.3" ry="3.0" transform="rotate(27 124.0 66.6)" fill="#f6c3cf" fill-opacity="0.7" stroke="#d0506c" stroke-width="0.7" stroke-opacity="0.85"/>
<ellipse cx="100.5" cy="24.4" rx="2.4" ry="2.1" transform="rotate(153 100.5 24.4)" fill="#ffffff" fill-opacity="0.6" stroke="#444" stroke-width="0.55" stroke-opacity="0.8"/>
<ellipse cx="112.5" cy="66.5" rx="2.2" ry="2.3" transform="rotate(42 112.5 66.5)" fill="#e0e0e0" fill-opacity="0.6" stroke="#444" stroke-width="0.55" stroke-opacity="0.6"/>
<ellipse cx="102.3" cy="67.9" rx="3.4" ry="3.0" transform="rotate(170 102.3 67.9)" fill="#e9e9e9" fill-opacity="0.6" stroke="#444" stroke-width="0.55" stroke-opacity="1.0"/>
<ellipse cx="114.0" cy="17.6" rx="2.1" ry="2.5" transform="rotate(13 114.0 17.6)" fill="#fafafa" fill-opacity="0.9" stroke="#444" stroke-width="0.55" stroke-opacity="1.0"/>
<ellipse cx="88.8" cy="51.5" rx="3.0" ry="2.9" transform="rotate(93 88.8 51.5)" fill="#fafafa" fill-opacity="0.6" stroke="#444" stroke-width="0.55" stroke-opacity="0.8"/>
<ellipse cx="165.1" cy="38.6" rx="2.8" ry="2.5" transform="rotate(151 165.1 38.6)" fill="#f4f4f4" fill-opacity="0.6" stroke="#444" stroke-width="0.55" stroke-opacity="1.0"/>
<ellipse cx="101.1" cy="6.3" rx="4.2" ry="3.4" transform="rotate(95 101.1 6.3)" fill="#ffffff" fill-opacity="0.6" stroke="#444" stroke-width="0.55" stroke-opacity="0.8"/>
<ellipse cx="104.6" cy="39.9" rx="2.8" ry="2.7" transform="rotate(41 104.6 39.9)" fill="#fbe3e8" fill-opacity="0.7" stroke="#b83050" stroke-width="0.7" stroke-opacity="0.85"/>
<ellipse cx="99.3" cy="24.1" rx="4.4" ry="4.2" transform="rotate(59 99.3 24.1)" fill="#f1a5b7" fill-opacity="0.55" stroke="#b83050" stroke-width="0.7" stroke-opacity="0.85"/>
<ellipse cx="96.1" cy="60.3" rx="2.8" ry="3.1" transform="rotate(85 96.1 60.3)" fill="#e9e9e9" fill-opacity="0.9" stroke="#444" stroke-width="0.55" stroke-opacity="0.8"/>
<ellipse cx="136.3" cy="58.6" rx="3.9" ry="3.0" transform="rotate(75 136.3 58.6)" fill="#f6c3cf" fill-opacity="0.85" stroke="#d0506c" stroke-width="0.9" stroke-opacity="0.85"/>
<ellipse cx="99.4" cy="26.5" rx="1.3" ry="1.9" transform="rotate(64 99.4 26.5)" fill="#ffffff" fill-opacity="0.9" stroke="#444" stroke-width="0.55" stroke-opacity="1.0"/>
<ellipse cx="81.1" cy="57.8" rx="2.8" ry="3.8" transform="rotate(110 81.1 57.8)" fill="#f4f4f4" fill-opacity="0.75" stroke="#444" stroke-width="0.55" stroke-opacity="1.0"/>
<ellipse cx="94.2" cy="61.3" rx="3.1" ry="3.0" transform="rotate(59 94.2 61.3)" fill="#e9e9e9" fill-opacity="0.9" stroke="#444" stroke-width="0.55" stroke-opacity="0.8"/>
<ellipse cx="128.8" cy="64.9" rx="1.8" ry="1.9" transform="rotate(105 128.8 64.9)" fill="#e0e0e0" fill-opacity="0.75" stroke="#444" stroke-width="0.55" stroke-opacity="0.6"/>
<ellipse cx="111.1" cy="47.2" rx="2.9" ry="2.6" transform="rotate(22 111.1 47.2)" fill="#e0e0e0" fill-opacity="0.9" stroke="#444" stroke-width="0.55" stroke-opacity="1.0"/>
<ellipse cx="127.0" cy="58.5" rx="2.5" ry="2.5" transform="rotate(132 127.0 58.5)" fill="#f4f4f4" fill-opacity="0.9" stroke="#444" stroke-width="0.55" stroke-opacity="1.0"/>
<ellipse cx="152.2" cy="75.3" rx="2.1" ry="2.9" transform="rotate(39 152.2 75.3)" fill="#ffffff" fill-opacity="0.9" stroke="#444" stroke-width="0.55" stroke-opacity="0.8"/>
<ellipse cx="157.6" cy="58.5" rx="3.4" ry="4.4" transform="rotate(78 157.6 58.5)" fill="#fafafa" fill-opacity="0.6" stroke="#444" stroke-width="0.55" stroke-opacity="0.6"/>
<ellipse cx="75.6" cy="48.5" rx="2.7" ry="2.9" transform="rotate(3 75.6 48.5)" fill="#f1a5b7" fill-opacity="0.55" stroke="#d0506c" stroke-width="0.7" stroke-opacity="0.85"/>
<ellipse cx="144.0" cy="39.1" rx="1.5" ry="1.6" transform="rotate(124 144.0 39.1)" fill="#e9e9e9" fill-opacity="0.6" stroke="#444" stroke-width="0.55" stroke-opacity="0.8"/>
<ellipse cx="99.1" cy="35.7" rx="3.7" ry="3.3" transform="rotate(160 99.1 35.7)" fill="#f7f0f0" fill-opacity="0.55" stroke="#d0506c" stroke-width="0.9" stroke-opacity="0.85"/>
<ellipse cx="82.3" cy="79.5" rx="3.5" ry="2.7" transform="rotate(120 82.3 79.5)" fill="#ffffff" fill-opacity="0.75" stroke="#444" stroke-width="0.55" stroke-opacity="0.8"/>
<ellipse cx="107.1" cy="14.0" rx="2.6" ry="3.8" transform="rotate(26 107.1 14.0)" fill="#f1a5b7" fill-opacity="0.7" stroke="#b83050" stroke-width="0.7" stroke-opacity="0.85"/>
<ellipse cx="88.6" cy="37.4" rx="3.4" ry="4.7" transform="rotate(159 88.6 37.4)" fill="#fafafa" fill-opacity="0.9" stroke="#444" stroke-width="0.55" stroke-opacity="0.6"/>
<ellipse cx="110.1" cy="79.5" rx="3.0" ry="2.4" transform="rotate(23 110.1 79.5)" fill="#ffffff" fill-opacity="0.75" stroke="#444" stroke-width="0.55" stroke-opacity="0.6"/>
<ellipse cx="90.4" cy="49.4" rx="1.9" ry="2.0" transform="rotate(57 90.4 49.4)" fill="#e0e0e0" fill-opacity="0.9" stroke="#444" stroke-width="0.55" stroke-opacity="0.6"/>
<ellipse cx="161.8" cy="47.5" rx="4.4" ry="3.8" transform="rotate(43 161.8 47.5)" fill="#ffffff" fill-opacity="0.6" stroke="#444" stroke-width="0.55" stroke-opacity="1.0"/>
<ellipse cx="105.4" cy="12.9" rx="3.8" ry="3.4" transform="rotate(49 105.4 12.9)" fill="#e0e0e0" fill-opacity="0.9" stroke="#444" stroke-width="0.55" stroke-opacity="0.8"/>
<ellipse cx="82.8" cy="72.1" rx="2.5" ry="2.8" transform="rotate(49 82.8 72.1)" fill="#f4f4f4" fill-opacity="0.6" stroke="#444" stroke-width="0.55" stroke-opacity="0.6"/>
<ellipse cx="106.4" cy="85.9" rx="2.1" ry="2.3" transform="rotate(47 106.4 85.9)" fill="#e0e0e0" fill-opacity="0.9" stroke="#444" stroke-width="0.55" stroke-opacity="1.0"/>
<ellipse cx="104.9" cy="75.2" rx="3.3" ry="3.8" transform="rotate(10 104.9 75.2)" fill="#e0e0e0" fill-opacity="0.75" stroke="#444" stroke-width="0.55" stroke-opacity="1.0"/>
<ellipse cx="73.8" cy="72.9" rx="2.0" ry="2.4" transform="rotate(153 73.8 72.9)" fill="#e9e9e9" fill-opacity="0.75" stroke="#444" stroke-width="0.55" stroke-opacity="0.6"/>
<ellipse cx="163.9" cy="65.7" rx="2.7" ry="3.4" transform="rotate(170 163.9 65.7)" fill="#fbe3e8" fill-opacity="0.7" stroke="#b83050" stroke-width="0.5" stroke-opacity="0.85"/>
<ellipse cx="147.8" cy="72.4" rx="2.8" ry="3.0" transform="rotate(156 147.8 72.4)" fill="#fbe3e8" fill-opacity="0.7" stroke="#b83050" stroke-width="0.9" stroke-opacity="0.85"/>
<ellipse cx="106.9" cy="75.9" rx="2.1" ry="2.2" transform="rotate(105 106.9 75.9)" fill="#f4f4f4" fill-opacity="0.75" stroke="#444" stroke-width="0.55" stroke-opacity="0.8"/>
<ellipse cx="67.2" cy="34.6" rx="3.7" ry="3.2" transform="rotate(18 67.2 34.6)" fill="#f4f4f4" fill-opacity="0.6" stroke="#444" stroke-width="0.55" stroke-opacity="0.8"/>
<ellipse cx="68.0" cy="37.6" rx="2.2" ry="1.9" transform="rotate(109 68.0 37.6)" fill="#e0e0e0" fill-opacity="0.75" stroke="#444" stroke-width="0.55" stroke-opacity="1.0"/>
<ellipse cx="113.8" cy="25.5" rx="4.7" ry="3.2" transform="rotate(175 113.8 25.5)" fill="#f4f4f4" fill-opacity="0.6" stroke="#444" stroke-width="0.55" stroke-opacity="1.0"/>
<ellipse cx="91.5" cy="17.6" rx="2.9" ry="2.4" transform="rotate(24 91.5 17.6)" fill="#ffffff" fill-opacity="0.75" stroke="#444" stroke-width="0.55" stroke-opacity="1.0"/>
<ellipse cx="78.2" cy="39.6" rx="2.0" ry="2.1" transform="rotate(162 78.2 39.6)" fill="#e9e9e9" fill-opacity="0.9" stroke="#444" stroke-width="0.55" stroke-opacity="0.6"/>
<ellipse cx="99.8" cy="17.0" rx="3.7" ry="2.9" transform="rotate(28 99.8 17.0)" fill="#fbe3e8" fill-opacity="0.85" stroke="#d0506c" stroke-width="0.7" stroke-opacity="0.85"/>
<ellipse cx="90.6" cy="62.3" rx="2.5" ry="2.3" transform="rotate(32 90.6 62.3)" fill="#e9e9e9" fill-opacity="0.6" stroke="#444" stroke-width="0.55" stroke-opacity="1.0"/>
<ellipse cx="124.4" cy="85.2" rx="2.4" ry="2.2" transform="rotate(0 124.4 85.2)" fill="#f4f4f4" fill-opacity="0.75" stroke="#444" stroke-width="0.55" stroke-opacity="1.0"/>
<ellipse cx="135.6" cy="76.3" rx="1.8" ry="1.5" transform="rotate(152 135.6 76.3)" fill="#e9e9e9" fill-opacity="0.9" stroke="#444" stroke-width="0.55" stroke-opacity="0.8"/>
<ellipse cx="78.0" cy="53.9" rx="3.0" ry="4.1" transform="rotate(167 78.0 53.9)" fill="#fbe3e8" fill-opacity="0.55" stroke="#b83050" stroke-width="0.7" stroke-opacity="0.85"/>
<ellipse cx="131.8" cy="71.5" rx="1.8" ry="2.6" transform="rotate(16 131.8 71.5)" fill="#fbe3e8" fill-opacity="0.55" stroke="#b83050" stroke-width="0.7" stroke-opacity="0.85"/>
<ellipse cx="87.3" cy="75.3" rx="3.9" ry="3.4" transform="rotate(88 87.3 75.3)" fill="#e9e9e9" fill-opacity="0.75" stroke="#444" stroke-width="0.55" stroke-opacity="0.8"/>
<ellipse cx="92.4" cy="90.3" rx="3.2" ry="3.0" transform="rotate(99 92.4 90.3)" fill="#ffffff" fill-opacity="0.9" stroke="#444" stroke-width="0.55" stroke-opacity="1.0"/>
<ellipse cx="166.3" cy="62.6" rx="3.3" ry="4.3" transform="rotate(71 166.3 62.6)" fill="#fbe3e8" fill-opacity="0.55" stroke="#d0506c" stroke-width="0.5" stroke-opacity="0.85"/>
<ellipse cx="119.9" cy="66.7" rx="3.6" ry="4.0" transform="rotate(98 119.9 66.7)" fill="#e0e0e0" fill-opacity="0.9" stroke="#444" stroke-width="0.55" stroke-opacity="0.8"/>
<ellipse cx="145.9" cy="27.5" rx="3.4" ry="3.1" transform="rotate(121 145.9 27.5)" fill="#e9e9e9" fill-opacity="0.75" stroke="#444" stroke-width="0.55" stroke-opacity="1.0"/>
<ellipse cx="97.4" cy="15.4" rx="3.6" ry="4.4" transform="rotate(61 97.4 15.4)" fill="#f4f4f4" fill-opacity="0.9" stroke="#444" stroke-width="0.55" stroke-opacity="0.6"/>
<ellipse cx="96.5" cy="49.8" rx="1.7" ry="1.9" transform="rotate(22 96.5 49.8)" fill="#f7f0f0" fill-opacity="0.7" stroke="#d0506c" stroke-width="0.7" stroke-opacity="0.85"/>
<ellipse cx="142.4" cy="28.4" rx="3.2" ry="4.0" transform="rotate(76 142.4 28.4)" fill="#ffffff" fill-opacity="0.75" stroke="#444" stroke-width="0.55" stroke-opacity="1.0"/>
<ellipse cx="152.8" cy="34.9" rx="1.9" ry="2.5" transform="rotate(7 152.8 34.9)" fill="#fafafa" fill-opacity="0.6" stroke="#444" stroke-width="0.55" stroke-opacity="0.8"/>
<ellipse cx="100.8" cy="71.7" rx="2.9" ry="2.7" transform="rotate(65 100.8 71.7)" fill="#ffffff" fill-opacity="0.9" stroke="#444" stroke-width="0.55" stroke-opacity="0.8"/>
<ellipse cx="106.0" cy="79.2" rx="1.9" ry="2.1" transform="rotate(102 106.0 79.2)" fill="#fbe3e8" fill-opacity="0.85" stroke="#c23a5a" stroke-width="0.9" stroke-opacity="0.85"/>
<ellipse cx="96.1" cy="39.0" rx="3.0" ry="3.3" transform="rotate(179 96.1 39.0)" fill="#f4b4c3" fill-opacity="0.85" stroke="#b83050" stroke-width="0.5" stroke-opacity="0.85"/>
<ellipse cx="83.0" cy="44.0" rx="2.5" ry="2.1" transform="rotate(152 83.0 44.0)" fill="#e9e9e9" fill-opacity="0.9" stroke="#444" stroke-width="0.55" stroke-opacity="1.0"/>
<ellipse cx="73.8" cy="23.7" rx="3.8" ry="4.1" transform="rotate(179 73.8 23.7)" fill="#e0e0e0" fill-opacity="0.9" stroke="#444" stroke-width="0.55" stroke-opacity="0.8"/>
<ellipse cx="121.3" cy="88.1" rx="2.8" ry="2.5" transform="rotate(159 121.3 88.1)" fill="#e0e0e0" fill-opacity="0.75" stroke="#444" stroke-width="0.55" stroke-opacity="1.0"/>
<ellipse cx="120.0" cy="45.8" rx="3.3" ry="3.1" transform="rotate(163 120.0 45.8)" fill="#ffffff" fill-opacity="0.6" stroke="#444" stroke-width="0.55" stroke-opacity="1.0"/>
<ellipse cx="119.8" cy="27.6" rx="2.6" ry="1.9" transform="rotate(147 119.8 27.6)" fill="#e9e9e9" fill-opacity="0.6" stroke="#444" stroke-width="0.55" stroke-opacity="0.8"/>
<ellipse cx="102.1" cy="13.7" rx="2.2" ry="2.3" transform="rotate(71 102.1 13.7)" fill="#f4f4f4" fill-opacity="0.9" stroke="#444" stroke-width="0.55" stroke-opacity="1.0"/>
<ellipse cx="115.9" cy="25.9" rx="3.7" ry="2.8" transform="rotate(108 115.9 25.9)" fill="#f4f4f4" fill-opacity="0.6" stroke="#444" stroke-width="0.55" stroke-opacity="1.0"/>
<ellipse cx="138.0" cy="43.0" rx="3.2" ry="3.1" transform="rotate(27 138.0 43.0)" fill="#e0e0e0" fill-opacity="0.6" stroke="#444" stroke-width="0.55" stroke-opacity="0.8"/>
<ellipse cx="145.5" cy="28.4" rx="3.5" ry="3.5" transform="rotate(10 145.5 28.4)" fill="#e0e0e0" fill-opacity="0.75" stroke="#444" stroke-width="0.55" stroke-opacity="0.8"/>
<ellipse cx="99.4" cy="11.0" rx="2.5" ry="2.5" transform="rotate(166 99.4 11.0)" fill="#ffffff" fill-opacity="0.6" stroke="#444" stroke-width="0.55" stroke-opacity="0.8"/>
<ellipse cx="87.9" cy="18.8" rx="2.0" ry="1.9" transform="rotate(175 87.9 18.8)" fill="#fbe3e8" fill-opacity="0.55" stroke="#b83050" stroke-width="0.7" stroke-opacity="0.85"/>
<ellipse cx="101.2" cy="61.7" rx="2.5" ry="3.0" transform="rotate(149 101.2 61.7)" fill="#e9e9e9" fill-opacity="0.9" stroke="#444" stroke-width="0.55" stroke-opacity="0.8"/>
<ellipse cx="97.7" cy="13.3" rx="2.6" ry="2.1" transform="rotate(120 97.7 13.3)" fill="#e0e0e0" fill-opacity="0.9" stroke="#444" stroke-width="0.55" stroke-opacity="0.6"/>
<ellipse cx="118.6" cy="33.2" rx="2.9" ry="3.4" transform="rotate(124 118.6 33.2)" fill="#fafafa" fill-opacity="0.9" stroke="#444" stroke-width="0.55" stroke-opacity="1.0"/>
<ellipse cx="82.3" cy="66.3" rx="2.0" ry="2.2" transform="rotate(87 82.3 66.3)" fill="#fbe3e8" fill-opacity="0.7" stroke="#d0506c" stroke-width="0.9" stroke-opacity="0.85"/>
<ellipse cx="104.4" cy="45.9" rx="3.3" ry="3.1" transform="rotate(105 104.4 45.9)" fill="#e0e0e0" fill-opacity="0.9" stroke="#444" stroke-width="0.55" stroke-opacity="0.8"/>
<ellipse cx="146.9" cy="35.4" rx="2.7" ry="3.1" transform="rotate(89 146.9 35.4)" fill="#f4b4c3" fill-opacity="0.85" stroke="#b83050" stroke-width="0.7" stroke-opacity="0.85"/>
<ellipse cx="154.4" cy="79.9" rx="4.2" ry="4.4" transform="rotate(35 154.4 79.9)" fill="#f4f4f4" fill-opacity="0.9" stroke="#444" stroke-width="0.55" stroke-opacity="0.8"/>
<ellipse cx="81.9" cy="32.4" rx="2.4" ry="1.7" transform="rotate(42 81.9 32.4)" fill="#ffffff" fill-opacity="0.9" stroke="#444" stroke-width="0.55" stroke-opacity="1.0"/>
<ellipse cx="125.5" cy="69.3" rx="3.1" ry="3.2" transform="rotate(153 125.5 69.3)" fill="#ffffff" fill-opacity="0.9" stroke="#444" stroke-width="0.55" stroke-opacity="0.6"/>
<ellipse cx="138.1" cy="70.7" rx="2.8" ry="2.9" transform="rotate(147 138.1 70.7)" fill="#ffffff" fill-opacity="0.75" stroke="#444" stroke-width="0.55" stroke-opacity="1.0"/>
<ellipse cx="124.4" cy="65.5" rx="2.5" ry="3.8" transform="rotate(142 124.4 65.5)" fill="#e0e0e0" fill-opacity="0.75" stroke="#444" stroke-width="0.55" stroke-opacity="0.6"/>
<ellipse cx="117.2" cy="9.7" rx="2.5" ry="2.4" transform="rotate(140 117.2 9.7)" fill="#f4f4f4" fill-opacity="0.6" stroke="#444" stroke-width="0.55" stroke-opacity="0.6"/>
<ellipse cx="105.9" cy="61.2" rx="3.3" ry="2.9" transform="rotate(69 105.9 61.2)" fill="#ffffff" fill-opacity="0.75" stroke="#444" stroke-width="0.55" stroke-opacity="1.0"/>
<ellipse cx="143.9" cy="61.2" rx="1.7" ry="1.5" transform="rotate(90 143.9 61.2)" fill="#e9e9e9" fill-opacity="0.9" stroke="#444" stroke-width="0.55" stroke-opacity="0.8"/>
<ellipse cx="89.6" cy="67.9" rx="3.8" ry="3.3" transform="rotate(87 89.6 67.9)" fill="#f4f4f4" fill-opacity="0.9" stroke="#444" stroke-width="0.55" stroke-opacity="0.6"/>
<ellipse cx="126.6" cy="59.1" rx="2.0" ry="2.1" transform="rotate(112 126.6 59.1)" fill="#f6c3cf" fill-opacity="0.55" stroke="#d0506c" stroke-width="0.7" stroke-opacity="0.85"/>
<ellipse cx="91.2" cy="27.3" rx="1.5" ry="1.6" transform="rotate(81 91.2 27.3)" fill="#e9e9e9" fill-opacity="0.6" stroke="#444" stroke-width="0.55" stroke-opacity="0.6"/>
<ellipse cx="127.7" cy="29.3" rx="3.4" ry="3.8" transform="rotate(5 127.7 29.3)" fill="#e9e9e9" fill-opacity="0.75" stroke="#444" stroke-width="0.55" stroke-opacity="0.6"/>
<ellipse cx="80.8" cy="28.7" rx="2.6" ry="2.6" transform="rotate(98 80.8 28.7)" fill="#f4f4f4" fill-opacity="0.6" stroke="#444" stroke-width="0.55" stroke-opacity="0.8"/>
<ellipse cx="116.7" cy="18.1" rx="3.2" ry="3.1" transform="rotate(139 116.7 18.1)" fill="#ffffff" fill-opacity="0.6" stroke="#444" stroke-width="0.55" stroke-opacity="1.0"/>
<ellipse cx="101.5" cy="87.1" rx="2.7" ry="2.4" transform="rotate(52 101.5 87.1)" fill="#ffffff" fill-opacity="0.9" stroke="#444" stroke-width="0.55" stroke-opacity="1.0"/>
<ellipse cx="66.7" cy="34.7" rx="2.0" ry="2.0" transform="rotate(164 66.7 34.7)" fill="#f4f4f4" fill-opacity="0.6" stroke="#444" stroke-width="0.55" stroke-opacity="0.6"/>
<ellipse cx="96.0" cy="23.7" rx="1.7" ry="2.1" transform="rotate(140 96.0 23.7)" fill="#f1a5b7" fill-opacity="0.85" stroke="#d0506c" stroke-width="0.5" stroke-opacity="0.85"/>
<ellipse cx="168.2" cy="53.2" rx="2.2" ry="1.6" transform="rotate(140 168.2 53.2)" fill="#fafafa" fill-opacity="0.6" stroke="#444" stroke-width="0.55" stroke-opacity="1.0"/>
<ellipse cx="120.4" cy="25.0" rx="2.7" ry="2.4" transform="rotate(98 120.4 25.0)" fill="#e0e0e0" fill-opacity="0.9" stroke="#444" stroke-width="0.55" stroke-opacity="0.8"/>
<ellipse cx="147.1" cy="54.6" rx="2.3" ry="2.4" transform="rotate(108 147.1 54.6)" fill="#e9e9e9" fill-opacity="0.75" stroke="#444" stroke-width="0.55" stroke-opacity="0.6"/>
<ellipse cx="67.0" cy="41.5" rx="4.0" ry="3.1" transform="rotate(171 67.0 41.5)" fill="#e0e0e0" fill-opacity="0.6" stroke="#444" stroke-width="0.55" stroke-opacity="1.0"/>
<ellipse cx="159.3" cy="30.0" rx="2.5" ry="3.6" transform="rotate(92 159.3 30.0)" fill="#e0e0e0" fill-opacity="0.6" stroke="#444" stroke-width="0.55" stroke-opacity="0.8"/>
<ellipse cx="117.1" cy="70.3" rx="4.0" ry="3.8" transform="rotate(44 117.1 70.3)" fill="#fbe3e8" fill-opacity="0.85" stroke="#c23a5a" stroke-width="0.5" stroke-opacity="0.85"/>
<ellipse cx="103.7" cy="47.7" rx="1.7" ry="2.2" transform="rotate(59 103.7 47.7)" fill="#f6c3cf" fill-opacity="0.55" stroke="#b83050" stroke-width="0.9" stroke-opacity="0.85"/>
<ellipse cx="110.7" cy="88.3" rx="2.1" ry="1.9" transform="rotate(146 110.7 88.3)" fill="#e0e0e0" fill-opacity="0.75" stroke="#444" stroke-width="0.55" stroke-opacity="0.6"/>
<ellipse cx="86.2" cy="19.6" rx="4.0" ry="3.0" transform="rotate(98 86.2 19.6)" fill="#fafafa" fill-opacity="0.75" stroke="#444" stroke-width="0.55" stroke-opacity="0.6"/>
<ellipse cx="144.8" cy="24.2" rx="2.0" ry="2.6" transform="rotate(101 144.8 24.2)" fill="#fafafa" fill-opacity="0.6" stroke="#444" stroke-width="0.55" stroke-opacity="0.8"/>
<ellipse cx="148.1" cy="22.5" rx="1.3" ry="1.4" transform="rotate(172 148.1 22.5)" fill="#f4f4f4" fill-opacity="0.6" stroke="#444" stroke-width="0.55" stroke-opacity="0.8"/>
<ellipse cx="136.1" cy="86.3" rx="4.2" ry="3.1" transform="rotate(89 136.1 86.3)" fill="#ffffff" fill-opacity="0.9" stroke="#444" stroke-width="0.55" stroke-opacity="1.0"/>
<ellipse cx="130.6" cy="47.5" rx="2.9" ry="2.7" transform="rotate(128 130.6 47.5)" fill="#e9e9e9" fill-opacity="0.9" stroke="#444" stroke-width="0.55" stroke-opacity="0.8"/>
<ellipse cx="164.3" cy="54.6" rx="2.2" ry="2.5" transform="rotate(87 164.3 54.6)" fill="#f7f0f0" fill-opacity="0.55" stroke="#c23a5a" stroke-width="0.9" stroke-opacity="0.85"/>
<ellipse cx="117.1" cy="73.4" rx="2.0" ry="2.2" transform="rotate(52 117.1 73.4)" fill="#f1a5b7" fill-opacity="0.55" stroke="#d0506c" stroke-width="0.5" stroke-opacity="0.85"/>
<ellipse cx="68.0" cy="30.8" rx="2.6" ry="3.3" transform="rotate(114 68.0 30.8)" fill="#e0e0e0" fill-opacity="0.6" stroke="#444" stroke-width="0.55" stroke-opacity="0.6"/>
<ellipse cx="85.5" cy="73.0" rx="2.0" ry="1.8" transform="rotate(179 85.5 73.0)" fill="#fafafa" fill-opacity="0.9" stroke="#444" stroke-width="0.55" stroke-opacity="0.6"/>
<ellipse cx="96.3" cy="28.1" rx="3.5" ry="3.4" transform="rotate(2 96.3 28.1)" fill="#fafafa" fill-opacity="0.75" stroke="#444" stroke-width="0.55" stroke-opacity="1.0"/>
<ellipse cx="129.2" cy="33.7" rx="2.4" ry="2.9" transform="rotate(37 129.2 33.7)" fill="#e0e0e0" fill-opacity="0.9" stroke="#444" stroke-width="0.55" stroke-opacity="1.0"/>
<ellipse cx="167.9" cy="56.3" rx="3.0" ry="2.6" transform="rotate(25 167.9 56.3)" fill="#f4f4f4" fill-opacity="0.6" stroke="#444" stroke-width="0.55" stroke-opacity="0.8"/>
<ellipse cx="128.4" cy="68.7" rx="1.8" ry="2.2" transform="rotate(102 128.4 68.7)" fill="#e0e0e0" fill-opacity="0.6" stroke="#444" stroke-width="0.55" stroke-opacity="0.8"/>
<ellipse cx="127.6" cy="53.7" rx="2.6" ry="1.9" transform="rotate(17 127.6 53.7)" fill="#ffffff" fill-opacity="0.9" stroke="#444" stroke-width="0.55" stroke-opacity="0.8"/>
<ellipse cx="82.3" cy="46.8" rx="2.3" ry="2.4" transform="rotate(35 82.3 46.8)" fill="#fafafa" fill-opacity="0.9" stroke="#444" stroke-width="0.55" stroke-opacity="0.6"/>
<ellipse cx="85.5" cy="20.7" rx="1.5" ry="2.3" transform="rotate(173 85.5 20.7)" fill="#f7f0f0" fill-opacity="0.55" stroke="#d0506c" stroke-width="0.5" stroke-opacity="0.85"/>
<ellipse cx="138.7" cy="66.6" rx="2.9" ry="2.7" transform="rotate(114 138.7 66.6)" fill="#e0e0e0" fill-opacity="0.9" stroke="#444" stroke-width="0.55" stroke-opacity="1.0"/>
<ellipse cx="120.8" cy="45.7" rx="3.1" ry="2.1" transform="rotate(11 120.8 45.7)" fill="#f4f4f4" fill-opacity="0.6" stroke="#444" stroke-width="0.55" stroke-opacity="1.0"/>
<ellipse cx="72.3" cy="35.1" rx="2.0" ry="1.9" transform="rotate(123 72.3 35.1)" fill="#f4f4f4" fill-opacity="0.9" stroke="#444" stroke-width="0.55" stroke-opacity="0.8"/>
<ellipse cx="90.4" cy="45.5" rx="2.0" ry="2.2" transform="rotate(107 90.4 45.5)" fill="#e9e9e9" fill-opacity="0.75" stroke="#444" stroke-width="0.55" stroke-opacity="0.8"/>
<ellipse cx="115.9" cy="50.8" rx="2.1" ry="1.4" transform="rotate(105 115.9 50.8)" fill="#f4f4f4" fill-opacity="0.75" stroke="#444" stroke-width="0.55" stroke-opacity="0.8"/>
<ellipse cx="149.8" cy="88.6" rx="3.2" ry="3.4" transform="rotate(158 149.8 88.6)" fill="#fafafa" fill-opacity="0.9" stroke="#444" stroke-width="0.55" stroke-opacity="0.6"/>
<ellipse cx="91.2" cy="52.6" rx="3.0" ry="4.1" transform="rotate(60 91.2 52.6)" fill="#e9e9e9" fill-opacity="0.9" stroke="#444" stroke-width="0.55" stroke-opacity="1.0"/>
<ellipse cx="121.2" cy="43.2" rx="3.4" ry="3.0" transform="rotate(53 121.2 43.2)" fill="#fafafa" fill-opacity="0.9" stroke="#444" stroke-width="0.55" stroke-opacity="0.6"/>
<ellipse cx="163.6" cy="65.4" rx="2.3" ry="2.8" transform="rotate(90 163.6 65.4)" fill="#fbe3e8" fill-opacity="0.55" stroke="#d0506c" stroke-width="0.9" stroke-opacity="0.85"/>
<ellipse cx="159.8" cy="70.4" rx="2.2" ry="2.4" transform="rotate(29 159.8 70.4)" fill="#f6c3cf" fill-opacity="0.7" stroke="#c23a5a" stroke-width="0.9" stroke-opacity="0.85"/>
<ellipse cx="135.6" cy="63.6" rx="4.5" ry="4.3" transform="rotate(113 135.6 63.6)" fill="#e0e0e0" fill-opacity="0.6" stroke="#444" stroke-width="0.55" stroke-opacity="0.6"/>
<ellipse cx="77.4" cy="44.8" rx="1.7" ry="2.6" transform="rotate(128 77.4 44.8)" fill="#e0e0e0" fill-opacity="0.75" stroke="#444" stroke-width="0.55" stroke-opacity="1.0"/>
<ellipse cx="119.3" cy="42.5" rx="2.2" ry="1.5" transform="rotate(107 119.3 42.5)" fill="#f6c3cf" fill-opacity="0.7" stroke="#d0506c" stroke-width="0.7" stroke-opacity="0.85"/>
<ellipse cx="142.7" cy="59.8" rx="3.0" ry="4.0" transform="rotate(103 142.7 59.8)" fill="#f4f4f4" fill-opacity="0.6" stroke="#444" stroke-width="0.55" stroke-opacity="1.0"/>
<ellipse cx="134.1" cy="89.0" rx="2.4" ry="1.8" transform="rotate(14 134.1 89.0)" fill="#e0e0e0" fill-opacity="0.9" stroke="#444" stroke-width="0.55" stroke-opacity="1.0"/>
<ellipse cx="129.3" cy="67.4" rx="2.4" ry="1.9" transform="rotate(77 129.3 67.4)" fill="#f1a5b7" fill-opacity="0.7" stroke="#c23a5a" stroke-width="0.9" stroke-opacity="0.85"/>
<ellipse cx="136.4" cy="30.5" rx="1.7" ry="2.0" transform="rotate(96 136.4 30.5)" fill="#f4f4f4" fill-opacity="0.9" stroke="#444" stroke-width="0.55" stroke-opacity="0.6"/>
<ellipse cx="89.1" cy="58.0" rx="2.6" ry="1.9" transform="rotate(84 89.1 58.0)" fill="#fafafa" fill-opacity="0.9" stroke="#444" stroke-width="0.55" stroke-opacity="1.0"/>
<ellipse cx="111.2" cy="51.1" rx="2.7" ry="2.0" transform="rotate(173 111.2 51.1)" fill="#e9e9e9" fill-opacity="0.9" stroke="#444" stroke-width="0.55" stroke-opacity="0.6"/>
<ellipse cx="151.5" cy="56.5" rx="3.6" ry="3.3" transform="rotate(5 151.5 56.5)" fill="#fafafa" fill-opacity="0.9" stroke="#444" stroke-width="0.55" stroke-opacity="1.0"/>
<ellipse cx="164.1" cy="54.4" rx="2.9" ry="3.6" transform="rotate(43 164.1 54.4)" fill="#e9e9e9" fill-opacity="0.6" stroke="#444" stroke-width="0.55" stroke-opacity="0.8"/>
<ellipse cx="163.3" cy="58.3" rx="2.2" ry="2.0" transform="rotate(6 163.3 58.3)" fill="#ffffff" fill-opacity="0.75" stroke="#444" stroke-width="0.55" stroke-opacity="0.6"/>
<ellipse cx="98.6" cy="15.0" rx="1.9" ry="2.6" transform="rotate(76 98.6 15.0)" fill="#e0e0e0" fill-opacity="0.6" stroke="#444" stroke-width="0.55" stroke-opacity="0.8"/>
<ellipse cx="167.8" cy="72.9" rx="3.4" ry="3.9" transform="rotate(60 167.8 72.9)" fill="#fafafa" fill-opacity="0.6" stroke="#444" stroke-width="0.55" stroke-opacity="0.6"/>
<ellipse cx="136.3" cy="80.2" rx="2.7" ry="3.9" transform="rotate(68 136.3 80.2)" fill="#e9e9e9" fill-opacity="0.9" stroke="#444" stroke-width="0.55" stroke-opacity="1.0"/>
<ellipse cx="119.2" cy="47.8" rx="2.5" ry="2.2" transform="rotate(120 119.2 47.8)" fill="#e0e0e0" fill-opacity="0.9" stroke="#444" stroke-width="0.55" stroke-opacity="0.8"/>
<ellipse cx="80.5" cy="36.2" rx="4.0" ry="3.5" transform="rotate(119 80.5 36.2)" fill="#e9e9e9" fill-opacity="0.75" stroke="#444" stroke-width="0.55" stroke-opacity="1.0"/>
<ellipse cx="74.6" cy="53.0" rx="2.7" ry="2.9" transform="rotate(113 74.6 53.0)" fill="#ffffff" fill-opacity="0.9" stroke="#444" stroke-width="0.55" stroke-opacity="0.8"/>
<ellipse cx="138.5" cy="22.6" rx="3.2" ry="4.6" transform="rotate(96 138.5 22.6)" fill="#fafafa" fill-opacity="0.9" stroke="#444" stroke-width="0.55" stroke-opacity="0.6"/>
<ellipse cx="73.3" cy="21.8" rx="2.4" ry="2.3" transform="rotate(112 73.3 21.8)" fill="#e0e0e0" fill-opacity="0.9" stroke="#444" stroke-width="0.55" stroke-opacity="0.8"/>
<ellipse cx="97.9" cy="52.2" rx="2.7" ry="2.6" transform="rotate(3 97.9 52.2)" fill="#fafafa" fill-opacity="0.6" stroke="#444" stroke-width="0.55" stroke-opacity="0.8"/>
<ellipse cx="101.8" cy="42.0" rx="3.2" ry="2.9" transform="rotate(35 101.8 42.0)" fill="#fafafa" fill-opacity="0.9" stroke="#444" stroke-width="0.55" stroke-opacity="1.0"/>
<ellipse cx="90.5" cy="63.4" rx="3.1" ry="3.1" transform="rotate(180 90.5 63.4)" fill="#f6c3cf" fill-opacity="0.7" stroke="#d0506c" stroke-width="0.5" stroke-opacity="0.85"/>
<ellipse cx="139.8" cy="30.9" rx="2.4" ry="1.6" transform="rotate(46 139.8 30.9)" fill="#f4f4f4" fill-opacity="0.9" stroke="#444" stroke-width="0.55" stroke-opacity="1.0"/>
<ellipse cx="104.7" cy="30.5" rx="4.7" ry="4.3" transform="rotate(97 104.7 30.5)" fill="#f4f4f4" fill-opacity="0.9" stroke="#444" stroke-width="0.55" stroke-opacity="0.6"/>
<ellipse cx="71.1" cy="39.4" rx="2.7" ry="2.5" transform="rotate(61 71.1 39.4)" fill="#e9e9e9" fill-opacity="0.6" stroke="#444" stroke-width="0.55" stroke-opacity="0.6"/>
<ellipse cx="90.8" cy="81.0" rx="2.4" ry="2.4" transform="rotate(42 90.8 81.0)" fill="#fafafa" fill-opacity="0.75" stroke="#444" stroke-width="0.55" stroke-opacity="1.0"/>
<ellipse cx="87.6" cy="77.0" rx="1.6" ry="2.1" transform="rotate(159 87.6 77.0)" fill="#fafafa" fill-opacity="0.9" stroke="#444" stroke-width="0.55" stroke-opacity="0.6"/>
<ellipse cx="163.5" cy="82.2" rx="4.4" ry="3.8" transform="rotate(151 163.5 82.2)" fill="#e0e0e0" fill-opacity="0.75" stroke="#444" stroke-width="0.55" stroke-opacity="0.8"/>
<ellipse cx="150.7" cy="50.1" rx="3.2" ry="3.1" transform="rotate(92 150.7 50.1)" fill="#e0e0e0" fill-opacity="0.75" stroke="#444" stroke-width="0.55" stroke-opacity="0.6"/>
<ellipse cx="122.4" cy="63.1" rx="2.9" ry="3.9" transform="rotate(162 122.4 63.1)" fill="#ffffff" fill-opacity="0.6" stroke="#444" stroke-width="0.55" stroke-opacity="0.6"/>
<ellipse cx="140.8" cy="89.2" rx="4.0" ry="3.6" transform="rotate(38 140.8 89.2)" fill="#fafafa" fill-opacity="0.9" stroke="#444" stroke-width="0.55" stroke-opacity="0.8"/>
<ellipse cx="126.1" cy="20.7" rx="2.8" ry="2.1" transform="rotate(71 126.1 20.7)" fill="#ffffff" fill-opacity="0.6" stroke="#444" stroke-width="0.55" stroke-opacity="1.0"/>
<ellipse cx="70.8" cy="34.0" rx="2.7" ry="3.0" transform="rotate(119 70.8 34.0)" fill="#fafafa" fill-opacity="0.75" stroke="#444" stroke-width="0.55" stroke-opacity="0.6"/>
<ellipse cx="160.2" cy="41.6" rx="2.6" ry="2.7" transform="rotate(15 160.2 41.6)" fill="#e9e9e9" fill-opacity="0.6" stroke="#444" stroke-width="0.55" stroke-opacity="1.0"/>
<ellipse cx="169.3" cy="72.5" rx="3.3" ry="3.3" transform="rotate(14 169.3 72.5)" fill="#f4f4f4" fill-opacity="0.9" stroke="#444" stroke-width="0.55" stroke-opacity="0.6"/>
<ellipse cx="111.5" cy="18.8" rx="4.1" ry="4.1" transform="rotate(32 111.5 18.8)" fill="#f4b4c3" fill-opacity="0.7" stroke="#d0506c" stroke-width="0.5" stroke-opacity="0.85"/>
<ellipse cx="72.2" cy="51.3" rx="3.0" ry="3.2" transform="rotate(117 72.2 51.3)" fill="#f4b4c3" fill-opacity="0.85" stroke="#d0506c" stroke-width="0.5" stroke-opacity="0.85"/>
<ellipse cx="87.4" cy="13.4" rx="4.5" ry="3.5" transform="rotate(128 87.4 13.4)" fill="#ffffff" fill-opacity="0.9" stroke="#444" stroke-width="0.55" stroke-opacity="0.6"/>
<ellipse cx="66.5" cy="50.5" rx="2.6" ry="1.7" transform="rotate(164 66.5 50.5)" fill="#fafafa" fill-opacity="0.6" stroke="#444" stroke-width="0.55" stroke-opacity="0.8"/>
<ellipse cx="86.9" cy="76.7" rx="1.9" ry="2.0" transform="rotate(113 86.9 76.7)" fill="#f6c3cf" fill-opacity="0.85" stroke="#c23a5a" stroke-width="0.9" stroke-opacity="0.85"/>
<ellipse cx="146.2" cy="42.9" rx="3.4" ry="3.2" transform="rotate(70 146.2 42.9)" fill="#f7f0f0" fill-opacity="0.7" stroke="#d0506c" stroke-width="0.9" stroke-opacity="0.85"/>
<ellipse cx="81.8" cy="60.6" rx="3.0" ry="3.1" transform="rotate(144 81.8 60.6)" fill="#ffffff" fill-opacity="0.75" stroke="#444" stroke-width="0.55" stroke-opacity="1.0"/>
<ellipse cx="142.0" cy="20.8" rx="2.6" ry="2.3" transform="rotate(15 142.0 20.8)" fill="#e9e9e9" fill-opacity="0.6" stroke="#444" stroke-width="0.55" stroke-opacity="1.0"/>
<ellipse cx="122.5" cy="61.4" rx="1.9" ry="2.0" transform="rotate(62 122.5 61.4)" fill="#ffffff" fill-opacity="0.75" stroke="#444" stroke-width="0.55" stroke-opacity="1.0"/>
<ellipse cx="157.7" cy="82.2" rx="3.4" ry="4.4" transform="rotate(163 157.7 82.2)" fill="#f1a5b7" fill-opacity="0.7" stroke="#d0506c" stroke-width="0.9" stroke-opacity="0.85"/>
<ellipse cx="136.8" cy="38.1" rx="1.8" ry="2.4" transform="rotate(39 136.8 38.1)" fill="#f4f4f4" fill-opacity="0.6" stroke="#444" stroke-width="0.55" stroke-opacity="0.6"/>
<ellipse cx="71.8" cy="30.1" rx="2.7" ry="2.4" transform="rotate(93 71.8 30.1)" fill="#e0e0e0" fill-opacity="0.6" stroke="#444" stroke-width="0.55" stroke-opacity="0.6"/>
<ellipse cx="175.3" cy="62.2" rx="2.8" ry="3.1" transform="rotate(74 175.3 62.2)" fill="#e9e9e9" fill-opacity="0.6" stroke="#444" stroke-width="0.55" stroke-opacity="0.6"/>
<ellipse cx="97.5" cy="32.0" rx="3.4" ry="2.5" transform="rotate(167 97.5 32.0)" fill="#e0e0e0" fill-opacity="0.9" stroke="#444" stroke-width="0.55" stroke-opacity="0.6"/>
<ellipse cx="118.8" cy="42.6" rx="4.0" ry="4.6" transform="rotate(124 118.8 42.6)" fill="#ffffff" fill-opacity="0.9" stroke="#444" stroke-width="0.55" stroke-opacity="0.6"/>
<ellipse cx="145.0" cy="27.9" rx="2.3" ry="2.2" transform="rotate(84 145.0 27.9)" fill="#fafafa" fill-opacity="0.9" stroke="#444" stroke-width="0.55" stroke-opacity="1.0"/>
<ellipse cx="128.5" cy="85.9" rx="2.0" ry="2.5" transform="rotate(150 128.5 85.9)" fill="#ffffff" fill-opacity="0.75" stroke="#444" stroke-width="0.55" stroke-opacity="0.8"/>
<ellipse cx="136.5" cy="26.9" rx="1.7" ry="2.4" transform="rotate(49 136.5 26.9)" fill="#fbe3e8" fill-opacity="0.85" stroke="#c23a5a" stroke-width="0.7" stroke-opacity="0.85"/>
<ellipse cx="100.0" cy="63.4" rx="3.6" ry="3.1" transform="rotate(165 100.0 63.4)" fill="#ffffff" fill-opacity="0.9" stroke="#444" stroke-width="0.55" stroke-opacity="0.6"/>
<ellipse cx="110.8" cy="46.4" rx="2.5" ry="2.9" transform="rotate(168 110.8 46.4)" fill="#f1a5b7" fill-opacity="0.85" stroke="#c23a5a" stroke-width="0.7" stroke-opacity="0.85"/>
<ellipse cx="81.2" cy="63.6" rx="4.3" ry="4.6" transform="rotate(96 81.2 63.6)" fill="#f4f4f4" fill-opacity="0.9" stroke="#444" stroke-width="0.55" stroke-opacity="0.8"/>
<ellipse cx="143.6" cy="65.5" rx="3.7" ry="3.8" transform="rotate(128 143.6 65.5)" fill="#f7f0f0" fill-opacity="0.7" stroke="#c23a5a" stroke-width="0.9" stroke-opacity="0.85"/>
<ellipse cx="137.6" cy="35.1" rx="2.7" ry="1.9" transform="rotate(64 137.6 35.1)" fill="#e9e9e9" fill-opacity="0.6" stroke="#444" stroke-width="0.55" stroke-opacity="0.6"/>
<ellipse cx="156.8" cy="62.2" rx="2.6" ry="3.6" transform="rotate(15 156.8 62.2)" fill="#f4f4f4" fill-opacity="0.75" stroke="#444" stroke-width="0.55" stroke-opacity="0.8"/>
<ellipse cx="87.9" cy="14.6" rx="2.0" ry="2.7" transform="rotate(58 87.9 14.6)" fill="#f4f4f4" fill-opacity="0.9" stroke="#444" stroke-width="0.55" stroke-opacity="0.8"/>
<ellipse cx="75.4" cy="31.4" rx="2.4" ry="2.5" transform="rotate(79 75.4 31.4)" fill="#ffffff" fill-opacity="0.75" stroke="#444" stroke-width="0.55" stroke-opacity="0.6"/>
<ellipse cx="97.9" cy="59.4" rx="3.7" ry="3.0" transform="rotate(100 97.9 59.4)" fill="#ffffff" fill-opacity="0.9" stroke="#444" stroke-width="0.55" stroke-opacity="1.0"/>
<ellipse cx="137.3" cy="47.9" rx="2.6" ry="2.9" transform="rotate(127 137.3 47.9)" fill="#ffffff" fill-opacity="0.75" stroke="#444" stroke-width="0.55" stroke-opacity="0.6"/>
<ellipse cx="98.3" cy="15.7" rx="1.8" ry="1.5" transform="rotate(156 98.3 15.7)" fill="#e9e9e9" fill-opacity="0.75" stroke="#444" stroke-width="0.55" stroke-opacity="0.8"/>
<ellipse cx="78.1" cy="44.6" rx="1.9" ry="2.6" transform="rotate(160 78.1 44.6)" fill="#e9e9e9" fill-opacity="0.9" stroke="#444" stroke-width="0.55" stroke-opacity="0.8"/>
<ellipse cx="163.6" cy="72.1" rx="3.8" ry="2.9" transform="rotate(96 163.6 72.1)" fill="#fbe3e8" fill-opacity="0.7" stroke="#d0506c" stroke-width="0.9" stroke-opacity="0.85"/>
<ellipse cx="122.7" cy="29.8" rx="3.5" ry="3.1" transform="rotate(88 122.7 29.8)" fill="#ffffff" fill-opacity="0.75" stroke="#444" stroke-width="0.55" stroke-opacity="0.6"/>
<ellipse cx="155.0" cy="78.7" rx="3.4" ry="3.3" transform="rotate(138 155.0 78.7)" fill="#e0e0e0" fill-opacity="0.9" stroke="#444" stroke-width="0.55" stroke-opacity="0.6"/>
<ellipse cx="135.9" cy="80.6" rx="2.4" ry="3.0" transform="rotate(146 135.9 80.6)" fill="#e0e0e0" fill-opacity="0.9" stroke="#444" stroke-width="0.55" stroke-opacity="0.8"/>
<ellipse cx="101.3" cy="42.8" rx="1.7" ry="2.1" transform="rotate(15 101.3 42.8)" fill="#f4f4f4" fill-opacity="0.9" stroke="#444" stroke-width="0.55" stroke-opacity="0.6"/>
<ellipse cx="165.2" cy="43.9" rx="2.2" ry="2.1" transform="rotate(120 165.2 43.9)" fill="#fafafa" fill-opacity="0.6" stroke="#444" stroke-width="0.55" stroke-opacity="1.0"/>
<ellipse cx="86.4" cy="44.6" rx="3.3" ry="3.7" transform="rotate(40 86.4 44.6)" fill="#fafafa" fill-opacity="0.6" stroke="#444" stroke-width="0.55" stroke-opacity="0.8"/>
<ellipse cx="78.3" cy="77.9" rx="3.7" ry="3.0" transform="rotate(138 78.3 77.9)" fill="#ffffff" fill-opacity="0.6" stroke="#444" stroke-width="0.55" stroke-opacity="1.0"/>
<ellipse cx="111.6" cy="12.5" rx="2.0" ry="2.7" transform="rotate(146 111.6 12.5)" fill="#e9e9e9" fill-opacity="0.9" stroke="#444" stroke-width="0.55" stroke-opacity="1.0"/>
<ellipse cx="106.8" cy="80.9" rx="2.4" ry="2.9" transform="rotate(34 106.8 80.9)" fill="#e0e0e0" fill-opacity="0.75" stroke="#444" stroke-width="0.55" stroke-opacity="0.8"/>
<ellipse cx="87.1" cy="50.6" rx="1.6" ry="1.5" transform="rotate(65 87.1 50.6)" fill="#ffffff" fill-opacity="0.75" stroke="#444" stroke-width="0.55" stroke-opacity="0.8"/>
<ellipse cx="127.5" cy="82.0" rx="1.7" ry="1.8" transform="rotate(25 127.5 82.0)" fill="#ffffff" fill-opacity="0.75" stroke="#444" stroke-width="0.55" stroke-opacity="0.6"/>
<ellipse cx="145.6" cy="33.9" rx="3.2" ry="3.2" transform="rotate(114 145.6 33.9)" fill="#f1a5b7" fill-opacity="0.7" stroke="#d0506c" stroke-width="0.9" stroke-opacity="0.85"/>
<ellipse cx="116.1" cy="46.4" rx="2.6" ry="3.7" transform="rotate(34 116.1 46.4)" fill="#fafafa" fill-opacity="0.75" stroke="#444" stroke-width="0.55" stroke-opacity="1.0"/>
<ellipse cx="159.5" cy="86.1" rx="3.0" ry="3.6" transform="rotate(88 159.5 86.1)" fill="#e0e0e0" fill-opacity="0.75" stroke="#444" stroke-width="0.55" stroke-opacity="0.8"/>
<ellipse cx="148.4" cy="76.8" rx="3.0" ry="3.4" transform="rotate(103 148.4 76.8)" fill="#fbe3e8" fill-opacity="0.7" stroke="#c23a5a" stroke-width="0.5" stroke-opacity="0.85"/>
<ellipse cx="122.5" cy="12.8" rx="3.6" ry="2.9" transform="rotate(127 122.5 12.8)" fill="#ffffff" fill-opacity="0.9" stroke="#444" stroke-width="0.55" stroke-opacity="0.8"/>
<ellipse cx="89.5" cy="29.8" rx="4.1" ry="4.2" transform="rotate(109 89.5 29.8)" fill="#f6c3cf" fill-opacity="0.85" stroke="#d0506c" stroke-width="0.7" stroke-opacity="0.85"/>
<ellipse cx="150.6" cy="45.5" rx="3.7" ry="3.2" transform="rotate(106 150.6 45.5)" fill="#fbe3e8" fill-opacity="0.85" stroke="#b83050" stroke-width="0.9" stroke-opacity="0.85"/>
<ellipse cx="158.5" cy="62.5" rx="1.9" ry="1.9" transform="rotate(56 158.5 62.5)" fill="#e9e9e9" fill-opacity="0.6" stroke="#444" stroke-width="0.55" stroke-opacity="1.0"/>
<ellipse cx="129.3" cy="29.9" rx="3.5" ry="3.6" transform="rotate(108 129.3 29.9)" fill="#ffffff" fill-opacity="0.6" stroke="#444" stroke-width="0.55" stroke-opacity="0.6"/>
<ellipse cx="109.6" cy="5.7" rx="2.6" ry="2.1" transform="rotate(67 109.6 5.7)" fill="#e0e0e0" fill-opacity="0.6" stroke="#444" stroke-width="0.55" stroke-opacity="0.8"/>
<ellipse cx="132.2" cy="74.5" rx="2.7" ry="2.9" transform="rotate(147 132.2 74.5)" fill="#e9e9e9" fill-opacity="0.75" stroke="#444" stroke-width="0.55" stroke-opacity="1.0"/>
<ellipse cx="67.9" cy="44.9" rx="3.2" ry="3.7" transform="rotate(166 67.9 44.9)" fill="#ffffff" fill-opacity="0.9" stroke="#444" stroke-width="0.55" stroke-opacity="0.8"/>
<ellipse cx="171.1" cy="52.6" rx="3.3" ry="3.9" transform="rotate(68 171.1 52.6)" fill="#e0e0e0" fill-opacity="0.75" stroke="#444" stroke-width="0.55" stroke-opacity="0.8"/>
<ellipse cx="147.1" cy="52.6" rx="3.3" ry="3.3" transform="rotate(36 147.1 52.6)" fill="#ffffff" fill-opacity="0.9" stroke="#444" stroke-width="0.55" stroke-opacity="0.6"/>
<ellipse cx="157.2" cy="49.0" rx="2.5" ry="1.8" transform="rotate(1 157.2 49.0)" fill="#e0e0e0" fill-opacity="0.9" stroke="#444" stroke-width="0.55" stroke-opacity="0.8"/>
<ellipse cx="71.3" cy="58.0" rx="2.7" ry="2.3" transform="rotate(98 71.3 58.0)" fill="#e0e0e0" fill-opacity="0.6" stroke="#444" stroke-width="0.55" stroke-opacity="1.0"/>
<ellipse cx="74.9" cy="73.4" rx="1.6" ry="1.6" transform="rotate(69 74.9 73.4)" fill="#fafafa" fill-opacity="0.75" stroke="#444" stroke-width="0.55" stroke-opacity="1.0"/>
<ellipse cx="127.3" cy="35.4" rx="2.9" ry="3.6" transform="rotate(127 127.3 35.4)" fill="#f6c3cf" fill-opacity="0.7" stroke="#b83050" stroke-width="0.7" stroke-opacity="0.85"/>
<ellipse cx="84.6" cy="36.7" rx="2.1" ry="2.0" transform="rotate(56 84.6 36.7)" fill="#e9e9e9" fill-opacity="0.9" stroke="#444" stroke-width="0.55" stroke-opacity="1.0"/>
<ellipse cx="96.6" cy="69.3" rx="4.1" ry="3.5" transform="rotate(157 96.6 69.3)" fill="#f4b4c3" fill-opacity="0.55" stroke="#c23a5a" stroke-width="0.9" stroke-opacity="0.85"/>
<ellipse cx="129.5" cy="84.9" rx="4.2" ry="4.4" transform="rotate(9 129.5 84.9)" fill="#ffffff" fill-opacity="0.6" stroke="#444" stroke-width="0.55" stroke-opacity="0.8"/>
<ellipse cx="104.5" cy="30.9" rx="3.2" ry="2.8" transform="rotate(6 104.5 30.9)" fill="#f1a5b7" fill-opacity="0.55" stroke="#d0506c" stroke-width="0.9" stroke-opacity="0.85"/>
<ellipse cx="125.9" cy="51.5" rx="3.5" ry="2.8" transform="rotate(99 125.9 51.5)" fill="#e9e9e9" fill-opacity="0.75" stroke="#444" stroke-width="0.55" stroke-opacity="0.6"/>
<ellipse cx="92.2" cy="78.9" rx="2.3" ry="2.9" transform="rotate(154 92.2 78.9)" fill="#e9e9e9" fill-opacity="0.9" stroke="#444" stroke-width="0.55" stroke-opacity="1.0"/>
<ellipse cx="99.6" cy="29.3" rx="1.6" ry="1.9" transform="rotate(164 99.6 29.3)" fill="#f4f4f4" fill-opacity="0.6" stroke="#444" stroke-width="0.55" stroke-opacity="0.8"/>
<ellipse cx="147.3" cy="29.3" rx="3.3" ry="4.3" transform="rotate(30 147.3 29.3)" fill="#e0e0e0" fill-opacity="0.6" stroke="#444" stroke-width="0.55" stroke-opacity="1.0"/>
<ellipse cx="137.8" cy="34.8" rx="1.7" ry="1.6" transform="rotate(109 137.8 34.8)" fill="#ffffff" fill-opacity="0.6" stroke="#444" stroke-width="0.55" stroke-opacity="1.0"/>
<ellipse cx="97.9" cy="26.6" rx="2.1" ry="2.0" transform="rotate(41 97.9 26.6)" fill="#f6c3cf" fill-opacity="0.55" stroke="#c23a5a" stroke-width="0.5" stroke-opacity="0.85"/>
<ellipse cx="95.7" cy="80.3" rx="3.6" ry="4.2" transform="rotate(148 95.7 80.3)" fill="#f4f4f4" fill-opacity="0.9" stroke="#444" stroke-width="0.55" stroke-opacity="1.0"/>
<ellipse cx="125.4" cy="76.2" rx="4.5" ry="3.0" transform="rotate(167 125.4 76.2)" fill="#ffffff" fill-opacity="0.6" stroke="#444" stroke-width="0.55" stroke-opacity="0.6"/>
<ellipse cx="127.4" cy="59.0" rx="2.0" ry="2.1" transform="rotate(58 127.4 59.0)" fill="#f4f4f4" fill-opacity="0.9" stroke="#444" stroke-width="0.55" stroke-opacity="0.8"/>
<ellipse cx="70.5" cy="24.7" rx="2.2" ry="2.2" transform="rotate(77 70.5 24.7)" fill="#ffffff" fill-opacity="0.75" stroke="#444" stroke-width="0.55" stroke-opacity="1.0"/>
<ellipse cx="138.3" cy="82.0" rx="2.6" ry="1.8" transform="rotate(79 138.3 82.0)" fill="#e0e0e0" fill-opacity="0.6" stroke="#444" stroke-width="0.55" stroke-opacity="0.8"/>
<ellipse cx="150.9" cy="71.3" rx="2.3" ry="2.3" transform="rotate(60 150.9 71.3)" fill="#f4b4c3" fill-opacity="0.7" stroke="#d0506c" stroke-width="0.5" stroke-opacity="0.85"/>
<ellipse cx="153.7" cy="46.9" rx="2.7" ry="2.2" transform="rotate(94 153.7 46.9)" fill="#f6c3cf" fill-opacity="0.7" stroke="#d0506c" stroke-width="0.9" stroke-opacity="0.85"/>
<ellipse cx="75.7" cy="55.6" rx="2.4" ry="2.2" transform="rotate(82 75.7 55.6)" fill="#e9e9e9" fill-opacity="0.6" stroke="#444" stroke-width="0.55" stroke-opacity="1.0"/>
<ellipse cx="153.6" cy="73.4" rx="2.7" ry="2.5" transform="rotate(165 153.6 73.4)" fill="#fafafa" fill-opacity="0.9" stroke="#444" stroke-width="0.55" stroke-opacity="0.8"/>
<ellipse cx="73.2" cy="22.3" rx="2.1" ry="1.9" transform="rotate(103 73.2 22.3)" fill="#e0e0e0" fill-opacity="0.75" stroke="#444" stroke-width="0.55" stroke-opacity="0.6"/>
<ellipse cx="89.7" cy="65.2" rx="1.7" ry="2.5" transform="rotate(12 89.7 65.2)" fill="#ffffff" fill-opacity="0.9" stroke="#444" stroke-width="0.55" stroke-opacity="0.8"/>
<ellipse cx="142.2" cy="53.4" rx="2.3" ry="2.5" transform="rotate(118 142.2 53.4)" fill="#fbe3e8" fill-opacity="0.55" stroke="#c23a5a" stroke-width="0.9" stroke-opacity="0.85"/>
<ellipse cx="120.4" cy="74.5" rx="3.2" ry="3.3" transform="rotate(114 120.4 74.5)" fill="#e0e0e0" fill-opacity="0.75" stroke="#444" stroke-width="0.55" stroke-opacity="0.8"/>
<ellipse cx="152.4" cy="37.0" rx="3.6" ry="4.1" transform="rotate(106 152.4 37.0)" fill="#fafafa" fill-opacity="0.9" stroke="#444" stroke-width="0.55" stroke-opacity="0.6"/>
<ellipse cx="123.5" cy="30.0" rx="3.0" ry="2.7" transform="rotate(2 123.5 30.0)" fill="#f4f4f4" fill-opacity="0.75" stroke="#444" stroke-width="0.55" stroke-opacity="0.8"/>
<ellipse cx="129.1" cy="46.6" rx="3.3" ry="4.5" transform="rotate(51 129.1 46.6)" fill="#ffffff" fill-opacity="0.75" stroke="#444" stroke-width="0.55" stroke-opacity="0.8"/>
<ellipse cx="98.2" cy="27.4" rx="2.6" ry="2.9" transform="rotate(98 98.2 27.4)" fill="#e0e0e0" fill-opacity="0.6" stroke="#444" stroke-width="0.55" stroke-opacity="0.6"/>
<ellipse cx="72.3" cy="43.7" rx="3.4" ry="2.9" transform="rotate(114 72.3 43.7)" fill="#e9e9e9" fill-opacity="0.75" stroke="#444" stroke-width="0.55" stroke-opacity="0.8"/>
<ellipse cx="116.9" cy="12.3" rx="2.6" ry="3.0" transform="rotate(134 116.9 12.3)" fill="#e0e0e0" fill-opacity="0.9" stroke="#444" stroke-width="0.55" stroke-opacity="1.0"/>
<ellipse cx="83.1" cy="93.7" rx="2.3" ry="1.8" transform="rotate(123 83.1 93.7)" fill="#e9e9e9" fill-opacity="0.6" stroke="#444" stroke-width="0.55" stroke-opacity="1.0"/>
<ellipse cx="65.1" cy="36.9" rx="3.1" ry="3.2" transform="rotate(162 65.1 36.9)" fill="#e0e0e0" fill-opacity="0.9" stroke="#444" stroke-width="0.55" stroke-opacity="0.6"/>
<ellipse cx="103.5" cy="62.6" rx="2.4" ry="3.8" transform="rotate(97 103.5 62.6)" fill="#fafafa" fill-opacity="0.75" stroke="#444" stroke-width="0.55" stroke-opacity="0.6"/>
<ellipse cx="85.9" cy="62.8" rx="2.6" ry="2.4" transform="rotate(75 85.9 62.8)" fill="#f4f4f4" fill-opacity="0.6" stroke="#444" stroke-width="0.55" stroke-opacity="0.6"/>
<ellipse cx="160.0" cy="69.2" rx="3.8" ry="3.6" transform="rotate(143 160.0 69.2)" fill="#f4f4f4" fill-opacity="0.6" stroke="#444" stroke-width="0.55" stroke-opacity="1.0"/>
<ellipse cx="149.3" cy="44.9" rx="3.7" ry="3.7" transform="rotate(128 149.3 44.9)" fill="#e9e9e9" fill-opacity="0.75" stroke="#444" stroke-width="0.55" stroke-opacity="1.0"/>
<ellipse cx="118.7" cy="81.1" rx="2.3" ry="2.6" transform="rotate(176 118.7 81.1)" fill="#fafafa" fill-opacity="0.6" stroke="#444" stroke-width="0.55" stroke-opacity="1.0"/>
<ellipse cx="95.2" cy="7.8" rx="2.0" ry="2.3" transform="rotate(91 95.2 7.8)" fill="#f4f4f4" fill-opacity="0.9" stroke="#444" stroke-width="0.55" stroke-opacity="0.8"/>
<ellipse cx="76.5" cy="51.0" rx="2.7" ry="2.6" transform="rotate(144 76.5 51.0)" fill="#f7f0f0" fill-opacity="0.7" stroke="#b83050" stroke-width="0.9" stroke-opacity="0.85"/>
<ellipse cx="163.9" cy="36.3" rx="2.3" ry="2.3" transform="rotate(45 163.9 36.3)" fill="#f4f4f4" fill-opacity="0.75" stroke="#444" stroke-width="0.55" stroke-opacity="0.8"/>
<ellipse cx="93.3" cy="25.6" rx="2.4" ry="2.4" transform="rotate(170 93.3 25.6)" fill="#fafafa" fill-opacity="0.6" stroke="#444" stroke-width="0.55" stroke-opacity="0.6"/>
<ellipse cx="108.5" cy="12.1" rx="1.6" ry="2.1" transform="rotate(43 108.5 12.1)" fill="#ffffff" fill-opacity="0.9" stroke="#444" stroke-width="0.55" stroke-opacity="1.0"/>
<ellipse cx="163.5" cy="48.9" rx="3.4" ry="3.2" transform="rotate(175 163.5 48.9)" fill="#ffffff" fill-opacity="0.6" stroke="#444" stroke-width="0.55" stroke-opacity="1.0"/>
<ellipse cx="99.8" cy="69.0" rx="1.6" ry="1.9" transform="rotate(125 99.8 69.0)" fill="#f4f4f4" fill-opacity="0.9" stroke="#444" stroke-width="0.55" stroke-opacity="0.8"/>
<ellipse cx="158.0" cy="68.0" rx="1.8" ry="1.6" transform="rotate(172 158.0 68.0)" fill="#e9e9e9" fill-opacity="0.9" stroke="#444" stroke-width="0.55" stroke-opacity="0.8"/>
<ellipse cx="157.2" cy="86.3" rx="4.2" ry="3.5" transform="rotate(147 157.2 86.3)" fill="#e9e9e9" fill-opacity="0.75" stroke="#444" stroke-width="0.55" stroke-opacity="0.6"/>
<ellipse cx="154.9" cy="64.4" rx="3.9" ry="3.4" transform="rotate(175 154.9 64.4)" fill="#fafafa" fill-opacity="0.9" stroke="#444" stroke-width="0.55" stroke-opacity="0.8"/>
<ellipse cx="118.7" cy="29.6" rx="3.5" ry="2.5" transform="rotate(128 118.7 29.6)" fill="#ffffff" fill-opacity="0.75" stroke="#444" stroke-width="0.55" stroke-opacity="1.0"/>
<ellipse cx="107.5" cy="45.7" rx="2.9" ry="2.8" transform="rotate(118 107.5 45.7)" fill="#ffffff" fill-opacity="0.9" stroke="#444" stroke-width="0.55" stroke-opacity="0.8"/>
<ellipse cx="170.9" cy="72.6" rx="2.0" ry="2.1" transform="rotate(31 170.9 72.6)" fill="#fafafa" fill-opacity="0.6" stroke="#444" stroke-width="0.55" stroke-opacity="1.0"/>
<ellipse cx="157.2" cy="40.8" rx="2.4" ry="2.7" transform="rotate(132 157.2 40.8)" fill="#f4b4c3" fill-opacity="0.55" stroke="#d0506c" stroke-width="0.5" stroke-opacity="0.85"/>
<ellipse cx="97.7" cy="42.0" rx="3.2" ry="3.0" transform="rotate(1 97.7 42.0)" fill="#f7f0f0" fill-opacity="0.85" stroke="#b83050" stroke-width="0.9" stroke-opacity="0.85"/>
<ellipse cx="154.4" cy="71.9" rx="2.5" ry="2.7" transform="rotate(21 154.4 71.9)" fill="#e0e0e0" fill-opacity="0.9" stroke="#444" stroke-width="0.55" stroke-opacity="0.8"/>
<ellipse cx="110.4" cy="71.2" rx="3.2" ry="2.3" transform="rotate(175 110.4 71.2)" fill="#f4f4f4" fill-opacity="0.6" stroke="#444" stroke-width="0.55" stroke-opacity="0.8"/>
<ellipse cx="72.8" cy="59.3" rx="2.1" ry="1.5" transform="rotate(79 72.8 59.3)" fill="#e0e0e0" fill-opacity="0.6" stroke="#444" stroke-width="0.55" stroke-opacity="0.8"/>
<ellipse cx="109.8" cy="44.3" rx="1.7" ry="2.3" transform="rotate(58 109.8 44.3)" fill="#f4b4c3" fill-opacity="0.55" stroke="#b83050" stroke-width="0.9" stroke-opacity="0.85"/>
<ellipse cx="146.0" cy="60.3" rx="1.7" ry="1.7" transform="rotate(32 146.0 60.3)" fill="#e9e9e9" fill-opacity="0.75" stroke="#444" stroke-width="0.55" stroke-opacity="1.0"/>
<ellipse cx="120.2" cy="25.2" rx="2.9" ry="3.4" transform="rotate(65 120.2 25.2)" fill="#f1a5b7" fill-opacity="0.55" stroke="#b83050" stroke-width="0.7" stroke-opacity="0.85"/>
<ellipse cx="142.0" cy="69.8" rx="2.0" ry="2.7" transform="rotate(168 142.0 69.8)" fill="#e9e9e9" fill-opacity="0.75" stroke="#444" stroke-width="0.55" stroke-opacity="1.0"/>
<ellipse cx="131.4" cy="66.8" rx="3.0" ry="3.1" transform="rotate(12 131.4 66.8)" fill="#e0e0e0" fill-opacity="0.9" stroke="#444" stroke-width="0.55" stroke-opacity="1.0"/>
<ellipse cx="103.8" cy="59.7" rx="2.7" ry="2.5" transform="rotate(167 103.8 59.7)" fill="#ffffff" fill-opacity="0.9" stroke="#444" stroke-width="0.55" stroke-opacity="0.6"/>
<ellipse cx="126.4" cy="37.6" rx="1.8" ry="2.4" transform="rotate(72 126.4 37.6)" fill="#f4f4f4" fill-opacity="0.6" stroke="#444" stroke-width="0.55" stroke-opacity="0.8"/>
<ellipse cx="134.5" cy="59.3" rx="3.0" ry="2.6" transform="rotate(49 134.5 59.3)" fill="#f4f4f4" fill-opacity="0.6" stroke="#444" stroke-width="0.55" stroke-opacity="0.6"/>
<ellipse cx="85.9" cy="60.9" rx="2.1" ry="1.5" transform="rotate(170 85.9 60.9)" fill="#fafafa" fill-opacity="0.75" stroke="#444" stroke-width="0.55" stroke-opacity="1.0"/>
<ellipse cx="116.9" cy="64.5" rx="1.6" ry="2.0" transform="rotate(171 116.9 64.5)" fill="#f6c3cf" fill-opacity="0.7" stroke="#b83050" stroke-width="0.7" stroke-opacity="0.85"/>
<ellipse cx="112.0" cy="19.7" rx="3.6" ry="4.3" transform="rotate(97 112.0 19.7)" fill="#fafafa" fill-opacity="0.6" stroke="#444" stroke-width="0.55" stroke-opacity="1.0"/>
<ellipse cx="121.9" cy="25.1" rx="3.0" ry="2.6" transform="rotate(171 121.9 25.1)" fill="#fafafa" fill-opacity="0.6" stroke="#444" stroke-width="0.55" stroke-opacity="0.6"/>
<ellipse cx="92.6" cy="13.7" rx="2.4" ry="1.9" transform="rotate(24 92.6 13.7)" fill="#e0e0e0" fill-opacity="0.9" stroke="#444" stroke-width="0.55" stroke-opacity="0.8"/>
<ellipse cx="157.8" cy="54.4" rx="1.8" ry="2.6" transform="rotate(6 157.8 54.4)" fill="#fafafa" fill-opacity="0.75" stroke="#444" stroke-width="0.55" stroke-opacity="0.6"/>
<ellipse cx="124.0" cy="88.4" rx="2.8" ry="3.2" transform="rotate(50 124.0 88.4)" fill="#fafafa" fill-opacity="0.75" stroke="#444" stroke-width="0.55" stroke-opacity="0.8"/>
<ellipse cx="111.8" cy="74.9" rx="3.6" ry="3.2" transform="rotate(84 111.8 74.9)" fill="#f6c3cf" fill-opacity="0.55" stroke="#d0506c" stroke-width="0.7" stroke-opacity="0.85"/>
<ellipse cx="74.6" cy="37.4" rx="2.0" ry="2.4" transform="rotate(44 74.6 37.4)" fill="#e9e9e9" fill-opacity="0.6" stroke="#444" stroke-width="0.55" stroke-opacity="0.6"/>
<ellipse cx="131.1" cy="58.4" rx="1.9" ry="3.0" transform="rotate(10 131.1 58.4)" fill="#e9e9e9" fill-opacity="0.75" stroke="#444" stroke-width="0.55" stroke-opacity="0.8"/>
<ellipse cx="71.0" cy="37.8" rx="3.9" ry="3.9" transform="rotate(118 71.0 37.8)" fill="#e9e9e9" fill-opacity="0.6" stroke="#444" stroke-width="0.55" stroke-opacity="0.6"/>
<ellipse cx="122.4" cy="46.2" rx="3.6" ry="3.6" transform="rotate(12 122.4 46.2)" fill="#fbe3e8" fill-opacity="0.7" stroke="#d0506c" stroke-width="0.9" stroke-opacity="0.85"/>
<ellipse cx="127.4" cy="30.0" rx="2.3" ry="2.1" transform="rotate(161 127.4 30.0)" fill="#e9e9e9" fill-opacity="0.9" stroke="#444" stroke-width="0.55" stroke-opacity="0.6"/>
<ellipse cx="158.2" cy="64.2" rx="3.6" ry="3.2" transform="rotate(12 158.2 64.2)" fill="#f7f0f0" fill-opacity="0.55" stroke="#c23a5a" stroke-width="0.9" stroke-opacity="0.85"/>
<ellipse cx="134.0" cy="22.2" rx="2.5" ry="2.4" transform="rotate(31 134.0 22.2)" fill="#e0e0e0" fill-opacity="0.75" stroke="#444" stroke-width="0.55" stroke-opacity="1.0"/>
<ellipse cx="109.2" cy="6.6" rx="4.2" ry="4.1" transform="rotate(156 109.2 6.6)" fill="#e9e9e9" fill-opacity="0.9" stroke="#444" stroke-width="0.55" stroke-opacity="0.8"/>
<ellipse cx="127.8" cy="86.1" rx="3.9" ry="3.5" transform="rotate(2 127.8 86.1)" fill="#f4f4f4" fill-opacity="0.6" stroke="#444" stroke-width="0.55" stroke-opacity="0.8"/>
<ellipse cx="142.0" cy="54.3" rx="2.0" ry="1.9" transform="rotate(140 142.0 54.3)" fill="#fafafa" fill-opacity="0.6" stroke="#444" stroke-width="0.55" stroke-opacity="1.0"/>
<ellipse cx="119.2" cy="83.3" rx="2.1" ry="2.3" transform="rotate(158 119.2 83.3)" fill="#fafafa" fill-opacity="0.75" stroke="#444" stroke-width="0.55" stroke-opacity="0.6"/>
<ellipse cx="147.5" cy="60.4" rx="2.4" ry="2.7" transform="rotate(123 147.5 60.4)" fill="#fafafa" fill-opacity="0.9" stroke="#444" stroke-width="0.55" stroke-opacity="0.6"/>
<ellipse cx="164.6" cy="77.1" rx="2.0" ry="1.4" transform="rotate(163 164.6 77.1)" fill="#ffffff" fill-opacity="0.6" stroke="#444" stroke-width="0.55" stroke-opacity="0.8"/>
<ellipse cx="147.3" cy="88.4" rx="3.5" ry="2.4" transform="rotate(162 147.3 88.4)" fill="#fafafa" fill-opacity="0.6" stroke="#444" stroke-width="0.55" stroke-opacity="1.0"/>
<ellipse cx="73.8" cy="56.1" rx="4.2" ry="4.3" transform="rotate(125 73.8 56.1)" fill="#e0e0e0" fill-opacity="0.75" stroke="#444" stroke-width="0.55" stroke-opacity="1.0"/>
<ellipse cx="127.1" cy="64.9" rx="3.9" ry="2.8" transform="rotate(3 127.1 64.9)" fill="#f4b4c3" fill-opacity="0.55" stroke="#d0506c" stroke-width="0.9" stroke-opacity="0.85"/>
<ellipse cx="102.4" cy="57.7" rx="2.5" ry="2.4" transform="rotate(101 102.4 57.7)" fill="#f4f4f4" fill-opacity="0.6" stroke="#444" stroke-width="0.55" stroke-opacity="0.8"/>
<ellipse cx="120.5" cy="64.2" rx="3.4" ry="3.5" transform="rotate(20 120.5 64.2)" fill="#f4b4c3" fill-opacity="0.85" stroke="#b83050" stroke-width="0.7" stroke-opacity="0.85"/>
<ellipse cx="96.1" cy="87.6" rx="1.5" ry="2.1" transform="rotate(11 96.1 87.6)" fill="#fbe3e8" fill-opacity="0.55" stroke="#b83050" stroke-width="0.7" stroke-opacity="0.85"/>
<ellipse cx="121.1" cy="58.5" rx="4.1" ry="3.0" transform="rotate(81 121.1 58.5)" fill="#f4f4f4" fill-opacity="0.9" stroke="#444" stroke-width="0.55" stroke-opacity="1.0"/>
<ellipse cx="140.3" cy="26.6" rx="2.5" ry="2.2" transform="rotate(168 140.3 26.6)" fill="#e0e0e0" fill-opacity="0.75" stroke="#444" stroke-width="0.55" stroke-opacity="1.0"/>
<ellipse cx="161.2" cy="31.7" rx="3.5" ry="3.9" transform="rotate(152 161.2 31.7)" fill="#ffffff" fill-opacity="0.6" stroke="#444" stroke-width="0.55" stroke-opacity="1.0"/>
<ellipse cx="125.4" cy="13.9" rx="3.2" ry="2.9" transform="rotate(61 125.4 13.9)" fill="#f4f4f4" fill-opacity="0.6" stroke="#444" stroke-width="0.55" stroke-opacity="0.8"/>
<ellipse cx="93.2" cy="61.7" rx="4.0" ry="3.0" transform="rotate(100 93.2 61.7)" fill="#f4f4f4" fill-opacity="0.75" stroke="#444" stroke-width="0.55" stroke-opacity="0.8"/>
<ellipse cx="151.5" cy="40.9" rx="3.1" ry="2.9" transform="rotate(175 151.5 40.9)" fill="#fafafa" fill-opacity="0.9" stroke="#444" stroke-width="0.55" stroke-opacity="0.6"/>
<ellipse cx="110.1" cy="78.1" rx="2.2" ry="2.4" transform="rotate(152 110.1 78.1)" fill="#e9e9e9" fill-opacity="0.75" stroke="#444" stroke-width="0.55" stroke-opacity="0.8"/>
<ellipse cx="97.5" cy="75.9" rx="2.5" ry="3.8" transform="rotate(158 97.5 75.9)" fill="#ffffff" fill-opacity="0.75" stroke="#444" stroke-width="0.55" stroke-opacity="0.8"/>
<ellipse cx="118.3" cy="87.7" rx="4.1" ry="4.2" transform="rotate(4 118.3 87.7)" fill="#f4f4f4" fill-opacity="0.6" stroke="#444" stroke-width="0.55" stroke-opacity="0.6"/>
<ellipse cx="84.8" cy="26.0" rx="3.2" ry="3.2" transform="rotate(79 84.8 26.0)" fill="#f6c3cf" fill-opacity="0.85" stroke="#c23a5a" stroke-width="0.9" stroke-opacity="0.85"/>
<ellipse cx="138.5" cy="42.8" rx="4.4" ry="3.8" transform="rotate(110 138.5 42.8)" fill="#ffffff" fill-opacity="0.75" stroke="#444" stroke-width="0.55" stroke-opacity="1.0"/>
<ellipse cx="144.4" cy="73.2" rx="2.2" ry="2.3" transform="rotate(34 144.4 73.2)" fill="#ffffff" fill-opacity="0.9" stroke="#444" stroke-width="0.55" stroke-opacity="1.0"/>
<ellipse cx="154.8" cy="46.9" rx="2.6" ry="3.6" transform="rotate(131 154.8 46.9)" fill="#ffffff" fill-opacity="0.9" stroke="#444" stroke-width="0.55" stroke-opacity="1.0"/>
<ellipse cx="133.3" cy="28.1" rx="2.5" ry="1.9" transform="rotate(53 133.3 28.1)" fill="#f4f4f4" fill-opacity="0.9" stroke="#444" stroke-width="0.55" stroke-opacity="0.6"/>
<ellipse cx="117.6" cy="41.8" rx="3.6" ry="2.8" transform="rotate(161 117.6 41.8)" fill="#fafafa" fill-opacity="0.6" stroke="#444" stroke-width="0.55" stroke-opacity="0.8"/>
<ellipse cx="135.3" cy="85.9" rx="3.6" ry="4.0" transform="rotate(176 135.3 85.9)" fill="#e0e0e0" fill-opacity="0.75" stroke="#444" stroke-width="0.55" stroke-opacity="0.8"/>
<ellipse cx="155.8" cy="70.0" rx="2.6" ry="2.0" transform="rotate(33 155.8 70.0)" fill="#f4f4f4" fill-opacity="0.9" stroke="#444" stroke-width="0.55" stroke-opacity="0.6"/>
<ellipse cx="108.3" cy="53.8" rx="3.5" ry="3.3" transform="rotate(91 108.3 53.8)" fill="#f1a5b7" fill-opacity="0.7" stroke="#d0506c" stroke-width="0.9" stroke-opacity="0.85"/>
<ellipse cx="176.3" cy="74.1" rx="3.1" ry="3.2" transform="rotate(9 176.3 74.1)" fill="#ffffff" fill-opacity="0.6" stroke="#444" stroke-width="0.55" stroke-opacity="0.6"/>
<ellipse cx="114.4" cy="84.3" rx="2.0" ry="2.1" transform="rotate(43 114.4 84.3)" fill="#e9e9e9" fill-opacity="0.6" stroke="#444" stroke-width="0.55" stroke-opacity="1.0"/>
<ellipse cx="163.5" cy="50.7" rx="3.1" ry="2.5" transform="rotate(148 163.5 50.7)" fill="#ffffff" fill-opacity="0.6" stroke="#444" stroke-width="0.55" stroke-opacity="0.6"/>
<ellipse cx="92.1" cy="78.4" rx="3.0" ry="2.6" transform="rotate(0 92.1 78.4)" fill="#f4f4f4" fill-opacity="0.9" stroke="#444" stroke-width="0.55" stroke-opacity="0.6"/>
<ellipse cx="124.2" cy="29.4" rx="1.4" ry="2.1" transform="rotate(16 124.2 29.4)" fill="#f4b4c3" fill-opacity="0.7" stroke="#c23a5a" stroke-width="0.5" stroke-opacity="0.85"/>
<ellipse cx="91.3" cy="43.3" rx="2.0" ry="2.5" transform="rotate(69 91.3 43.3)" fill="#f1a5b7" fill-opacity="0.7" stroke="#d0506c" stroke-width="0.9" stroke-opacity="0.85"/>
<ellipse cx="101.0" cy="5.7" rx="3.1" ry="3.9" transform="rotate(175 101.0 5.7)" fill="#f4f4f4" fill-opacity="0.6" stroke="#444" stroke-width="0.55" stroke-opacity="1.0"/>
<ellipse cx="155.0" cy="77.3" rx="3.4" ry="3.5" transform="rotate(148 155.0 77.3)" fill="#fbe3e8" fill-opacity="0.7" stroke="#c23a5a" stroke-width="0.7" stroke-opacity="0.85"/>
<ellipse cx="105.6" cy="47.5" rx="2.4" ry="3.2" transform="rotate(83 105.6 47.5)" fill="#ffffff" fill-opacity="0.9" stroke="#444" stroke-width="0.55" stroke-opacity="0.6"/>
<ellipse cx="106.2" cy="63.6" rx="1.5" ry="1.9" transform="rotate(115 106.2 63.6)" fill="#fafafa" fill-opacity="0.6" stroke="#444" stroke-width="0.55" stroke-opacity="0.8"/>
<ellipse cx="142.3" cy="78.4" rx="3.8" ry="3.3" transform="rotate(25 142.3 78.4)" fill="#e0e0e0" fill-opacity="0.6" stroke="#444" stroke-width="0.55" stroke-opacity="1.0"/>
<ellipse cx="103.2" cy="33.1" rx="2.7" ry="3.6" transform="rotate(151 103.2 33.1)" fill="#e0e0e0" fill-opacity="0.9" stroke="#444" stroke-width="0.55" stroke-opacity="1.0"/>
<ellipse cx="178.7" cy="75.2" rx="2.5" ry="2.3" transform="rotate(120 178.7 75.2)" fill="#f4f4f4" fill-opacity="0.75" stroke="#444" stroke-width="0.55" stroke-opacity="1.0"/>
<ellipse cx="131.2" cy="50.8" rx="2.5" ry="2.2" transform="rotate(95 131.2 50.8)" fill="#e9e9e9" fill-opacity="0.6" stroke="#444" stroke-width="0.55" stroke-opacity="0.6"/>
<ellipse cx="131.2" cy="35.6" rx="4.3" ry="3.5" transform="rotate(48 131.2 35.6)" fill="#f1a5b7" fill-opacity="0.85" stroke="#c23a5a" stroke-width="0.7" stroke-opacity="0.85"/>
<ellipse cx="122.3" cy="50.6" rx="1.6" ry="1.6" transform="rotate(29 122.3 50.6)" fill="#fbe3e8" fill-opacity="0.85" stroke="#c23a5a" stroke-width="0.9" stroke-opacity="0.85"/>
<ellipse cx="122.4" cy="42.0" rx="2.2" ry="2.7" transform="rotate(119 122.4 42.0)" fill="#f7f0f0" fill-opacity="0.7" stroke="#b83050" stroke-width="0.7" stroke-opacity="0.85"/>
<ellipse cx="117.9" cy="74.5" rx="3.0" ry="2.5" transform="rotate(98 117.9 74.5)" fill="#ffffff" fill-opacity="0.6" stroke="#444" stroke-width="0.55" stroke-opacity="1.0"/>
<ellipse cx="108.5" cy="34.2" rx="1.6" ry="2.2" transform="rotate(153 108.5 34.2)" fill="#f6c3cf" fill-opacity="0.7" stroke="#c23a5a" stroke-width="0.9" stroke-opacity="0.85"/>
<ellipse cx="100.7" cy="14.0" rx="4.3" ry="4.2" transform="rotate(66 100.7 14.0)" fill="#fafafa" fill-opacity="0.9" stroke="#444" stroke-width="0.55" stroke-opacity="0.8"/>
<ellipse cx="126.3" cy="44.5" rx="2.2" ry="1.8" transform="rotate(116 126.3 44.5)" fill="#e0e0e0" fill-opacity="0.9" stroke="#444" stroke-width="0.55" stroke-opacity="0.6"/>
<ellipse cx="105.7" cy="21.3" rx="4.3" ry="3.8" transform="rotate(149 105.7 21.3)" fill="#fafafa" fill-opacity="0.75" stroke="#444" stroke-width="0.55" stroke-opacity="0.6"/>
<ellipse cx="112.4" cy="48.7" rx="3.2" ry="3.5" transform="rotate(8 112.4 48.7)" fill="#f4b4c3" fill-opacity="0.7" stroke="#c23a5a" stroke-width="0.7" stroke-opacity="0.85"/>
<ellipse cx="135.0" cy="85.2" rx="2.0" ry="2.0" transform="rotate(84 135.0 85.2)" fill="#e0e0e0" fill-opacity="0.6" stroke="#444" stroke-width="0.55" stroke-opacity="0.8"/>
<ellipse cx="91.7" cy="15.4" rx="4.8" ry="3.3" transform="rotate(176 91.7 15.4)" fill="#fafafa" fill-opacity="0.75" stroke="#444" stroke-width="0.55" stroke-opacity="1.0"/>
<ellipse cx="77.3" cy="81.7" rx="2.2" ry="1.8" transform="rotate(71 77.3 81.7)" fill="#ffffff" fill-opacity="0.9" stroke="#444" stroke-width="0.55" stroke-opacity="0.6"/>
<ellipse cx="115.5" cy="63.1" rx="2.9" ry="1.9" transform="rotate(168 115.5 63.1)" fill="#f6c3cf" fill-opacity="0.7" stroke="#d0506c" stroke-width="0.7" stroke-opacity="0.85"/>
<ellipse cx="144.8" cy="57.2" rx="3.7" ry="4.1" transform="rotate(114 144.8 57.2)" fill="#f7f0f0" fill-opacity="0.7" stroke="#d0506c" stroke-width="0.5" stroke-opacity="0.85"/>
<ellipse cx="79.8" cy="83.1" rx="2.9" ry="2.9" transform="rotate(151 79.8 83.1)" fill="#fafafa" fill-opacity="0.6" stroke="#444" stroke-width="0.55" stroke-opacity="1.0"/>
<ellipse cx="128.9" cy="31.8" rx="2.8" ry="2.4" transform="rotate(166 128.9 31.8)" fill="#f6c3cf" fill-opacity="0.7" stroke="#b83050" stroke-width="0.9" stroke-opacity="0.85"/>
<ellipse cx="164.7" cy="69.2" rx="2.9" ry="3.0" transform="rotate(67 164.7 69.2)" fill="#f6c3cf" fill-opacity="0.85" stroke="#d0506c" stroke-width="0.9" stroke-opacity="0.85"/>
<ellipse cx="159.1" cy="30.4" rx="2.3" ry="2.2" transform="rotate(152 159.1 30.4)" fill="#e0e0e0" fill-opacity="0.9" stroke="#444" stroke-width="0.55" stroke-opacity="1.0"/>
<ellipse cx="92.8" cy="13.0" rx="3.0" ry="4.0" transform="rotate(151 92.8 13.0)" fill="#f4f4f4" fill-opacity="0.6" stroke="#444" stroke-width="0.55" stroke-opacity="0.6"/>
<ellipse cx="163.0" cy="40.5" rx="1.8" ry="1.8" transform="rotate(143 163.0 40.5)" fill="#f4f4f4" fill-opacity="0.9" stroke="#444" stroke-width="0.55" stroke-opacity="0.6"/>
<ellipse cx="150.6" cy="48.2" rx="3.2" ry="3.6" transform="rotate(175 150.6 48.2)" fill="#f7f0f0" fill-opacity="0.7" stroke="#d0506c" stroke-width="0.9" stroke-opacity="0.85"/>
<ellipse cx="87.6" cy="44.4" rx="2.5" ry="3.2" transform="rotate(54 87.6 44.4)" fill="#ffffff" fill-opacity="0.75" stroke="#444" stroke-width="0.55" stroke-opacity="1.0"/>
<ellipse cx="136.4" cy="38.0" rx="3.0" ry="4.3" transform="rotate(6 136.4 38.0)" fill="#e0e0e0" fill-opacity="0.9" stroke="#444" stroke-width="0.55" stroke-opacity="1.0"/>
<ellipse cx="108.0" cy="41.4" rx="2.6" ry="2.5" transform="rotate(163 108.0 41.4)" fill="#f6c3cf" fill-opacity="0.7" stroke="#c23a5a" stroke-width="0.7" stroke-opacity="0.85"/>
<ellipse cx="139.2" cy="63.5" rx="3.0" ry="2.1" transform="rotate(32 139.2 63.5)" fill="#fafafa" fill-opacity="0.6" stroke="#444" stroke-width="0.55" stroke-opacity="0.6"/>
<ellipse cx="143.3" cy="23.4" rx="2.9" ry="3.2" transform="rotate(73 143.3 23.4)" fill="#fafafa" fill-opacity="0.75" stroke="#444" stroke-width="0.55" stroke-opacity="0.8"/>
<ellipse cx="152.8" cy="31.6" rx="2.9" ry="3.5" transform="rotate(19 152.8 31.6)" fill="#e0e0e0" fill-opacity="0.9" stroke="#444" stroke-width="0.55" stroke-opacity="1.0"/>
<ellipse cx="75.2" cy="37.1" rx="3.8" ry="4.3" transform="rotate(110 75.2 37.1)" fill="#f7f0f0" fill-opacity="0.55" stroke="#c23a5a" stroke-width="0.9" stroke-opacity="0.85"/>
<ellipse cx="113.9" cy="54.0" rx="2.3" ry="1.8" transform="rotate(98 113.9 54.0)" fill="#ffffff" fill-opacity="0.9" stroke="#444" stroke-width="0.55" stroke-opacity="0.8"/>
<ellipse cx="139.9" cy="79.7" rx="3.6" ry="4.1" transform="rotate(126 139.9 79.7)" fill="#e9e9e9" fill-opacity="0.9" stroke="#444" stroke-width="0.55" stroke-opacity="1.0"/>
<ellipse cx="103.0" cy="34.6" rx="2.3" ry="2.0" transform="rotate(127 103.0 34.6)" fill="#e9e9e9" fill-opacity="0.75" stroke="#444" stroke-width="0.55" stroke-opacity="0.6"/>
<ellipse cx="104.0" cy="74.9" rx="2.1" ry="1.5" transform="rotate(154 104.0 74.9)" fill="#e0e0e0" fill-opacity="0.75" stroke="#444" stroke-width="0.55" stroke-opacity="0.6"/>
<ellipse cx="151.3" cy="49.4" rx="3.2" ry="2.2" transform="rotate(41 151.3 49.4)" fill="#e9e9e9" fill-opacity="0.9" stroke="#444" stroke-width="0.55" stroke-opacity="1.0"/>
<ellipse cx="163.4" cy="35.5" rx="4.1" ry="2.6" transform="rotate(148 163.4 35.5)" fill="#e0e0e0" fill-opacity="0.9" stroke="#444" stroke-width="0.55" stroke-opacity="1.0"/>
<ellipse cx="148.0" cy="53.7" rx="2.5" ry="2.6" transform="rotate(81 148.0 53.7)" fill="#f4f4f4" fill-opacity="0.6" stroke="#444" stroke-width="0.55" stroke-opacity="0.8"/>
<ellipse cx="81.3" cy="54.9" rx="3.7" ry="4.4" transform="rotate(61 81.3 54.9)" fill="#f4f4f4" fill-opacity="0.6" stroke="#444" stroke-width="0.55" stroke-opacity="1.0"/>
<ellipse cx="87.5" cy="25.1" rx="3.2" ry="3.5" transform="rotate(155 87.5 25.1)" fill="#f4b4c3" fill-opacity="0.85" stroke="#b83050" stroke-width="0.9" stroke-opacity="0.85"/>
<ellipse cx="102.6" cy="67.4" rx="3.5" ry="3.3" transform="rotate(25 102.6 67.4)" fill="#f4f4f4" fill-opacity="0.9" stroke="#444" stroke-width="0.55" stroke-opacity="1.0"/>
<ellipse cx="121.3" cy="80.9" rx="2.4" ry="2.1" transform="rotate(125 121.3 80.9)" fill="#fafafa" fill-opacity="0.6" stroke="#444" stroke-width="0.55" stroke-opacity="0.6"/>
<ellipse cx="128.2" cy="66.6" rx="1.8" ry="2.6" transform="rotate(71 128.2 66.6)" fill="#fafafa" fill-opacity="0.6" stroke="#444" stroke-width="0.55" stroke-opacity="0.6"/>
<ellipse cx="90.6" cy="63.4" rx="3.2" ry="3.1" transform="rotate(151 90.6 63.4)" fill="#f6c3cf" fill-opacity="0.7" stroke="#c23a5a" stroke-width="0.9" stroke-opacity="0.85"/>
<path d="M90.0 64.6Q86.0 61.6 87.1 63.3M152.8 63.6Q148.6 65.3 148.6 61.8M115.3 30.4Q114.6 31.4 109.2 32.1M167.1 79.8Q168.8 77.7 165.9 75.6M122.5 77.5Q123.4 72.3 125.2 70.2M82.8 43.1Q79.6 43.3 80.1 39.4M130.3 44.2Q133.2 40.1 131.1 37.3M141.5 32.9Q145.1 36.3 147.4 34.7M94.7 35.5Q95.6 32.9 100.8 31.9M81.0 70.2Q77.0 67.6 78.4 65.0M89.3 51.3Q91.9 53.7 89.8 54.7M161.6 62.2Q164.4 60.4 170.3 64.1M108.5 68.2Q108.5 67.9 102.7 67.9M110.2 84.2Q113.2 85.3 111.3 88.2M116.1 65.7Q121.7 65.4 121.7 62.7M137.4 61.5Q135.7 68.1 137.3 69.7M149.9 35.4Q153.1 40.6 154.3 41.7M81.8 50.9Q79.6 48.2 82.1 45.7M113.8 80.8Q115.5 78.8 119.9 80.4M80.4 25.5Q79.4 29.9 74.0 30.1M89.6 79.0Q91.8 82.6 97.6 82.9M135.1 46.8Q137.8 43.6 138.1 43.6M154.8 61.6Q152.6 59.2 150.9 55.0M154.5 73.7Q156.4 73.4 157.4 76.3M102.1 50.9Q104.8 51.9 109.4 49.9M109.2 53.2Q110.7 51.8 117.5 56.4M89.1 69.0Q87.8 67.3 89.0 65.4M78.0 34.0Q82.6 35.0 82.1 41.6M142.0 36.2Q143.7 36.0 148.0 41.6M89.2 79.6Q91.9 85.4 93.8 87.3M159.7 75.0Q161.1 70.7 158.0 71.4M86.0 62.8Q89.1 64.9 88.3 66.1M117.3 45.0Q111.8 43.8 112.0 38.1M112.6 37.5Q109.3 32.4 110.8 33.0M84.1 45.4Q86.5 46.7 89.5 46.3M86.9 82.8Q89.9 83.5 95.4 81.7M126.4 30.2Q126.4 31.8 130.7 37.9M109.2 82.9Q102.3 86.3 101.2 84.8M119.7 21.3Q120.6 16.8 116.1 15.4M147.4 32.5Q148.8 28.5 145.8 23.7M99.6 17.4Q99.7 14.9 95.4 15.7M102.0 39.1Q101.9 33.9 106.3 34.5M83.7 57.0Q82.2 53.8 78.9 52.9M165.8 67.7Q164.9 68.9 166.0 64.5M153.4 64.5Q152.8 65.5 147.1 67.1M123.8 34.8Q125.2 31.0 127.6 30.5M153.9 41.6Q152.4 43.9 155.1 44.7M140.9 27.2Q136.6 29.7 133.1 28.3M165.1 70.9Q163.3 72.0 167.1 77.3M107.5 22.5Q103.8 22.7 103.9 26.8M129.4 82.2Q132.5 82.3 136.1 87.3M95.4 78.7Q94.9 83.9 90.1 84.9M136.9 73.4Q140.3 66.6 138.2 65.3M109.4 63.4Q109.5 62.4 114.2 57.3M90.2 70.4Q87.4 71.8 87.1 77.9" stroke="#c9405f" stroke-width="1.0" fill="none" stroke-linecap="round" opacity="0.85"/>
<ellipse cx="122.4" cy="53.9" rx="14.8" ry="18.3" fill="#f6f3f3" fill-opacity="0.93" stroke="#4a7fd6" stroke-width="0.9"/>
<path d="M118.6 55.0q-3.0 0.0 3.5 4.2M123.1 53.3q-2.8 -0.7 -4.2 -1.5M121.0 48.4q-1.6 -2.3 -0.4 -2.6M112.8 53.4q-0.7 1.5 -4.3 -2.7M124.8 56.1q-0.5 -2.5 -2.2 -4.4M122.2 56.6q-1.8 2.3 -1.0 5.1M122.8 53.4q-2.9 -0.5 -2.9 2.7M123.4 53.1q0.5 2.4 -2.0 -1.4M122.4 54.0q-2.9 -2.5 3.6 2.1M112.8 54.1q0.8 -2.4 -3.1 1.7M120.8 52.8q-2.7 0.3 -4.5 -3.7M121.2 52.7q3.0 -2.3 -0.7 5.9M119.7 42.2q-2.7 -0.8 0.4 4.4M119.6 47.2q-0.9 2.2 0.4 -2.3M118.3 51.0q0.4 -2.9 -4.9 3.4M123.4 49.9q-0.3 -1.1 -2.6 1.2M128.0 58.2q-2.8 1.7 4.1 3.1M124.2 47.9q1.4 -0.4 -0.8 -2.9M123.6 66.2q2.2 -0.8 -2.8 2.0M121.5 52.0q-2.7 2.9 1.7 -2.5M127.0 64.6q-2.9 -2.6 4.4 -0.4M123.4 58.7q-0.9 -2.2 -4.5 -3.8M121.1 53.2q1.2 -2.6 3.6 2.2M115.4 56.6q2.3 -2.0 0.3 -3.5M120.7 44.3q-2.4 -2.7 2.9 -2.7M120.6 53.5q1.7 -1.7 -1.6 -1.7" stroke="#b9a9ad" stroke-width="0.4" fill="none" opacity="0.7"/>
<path d="M207.3 66.4L142 56.8" stroke="#5b8edb" stroke-width="0.8" fill="none"/>
<path d="M137.9 56.3L142.9 53.9L142.3 59.1z" fill="#3b73cf"/>
<text x="208.6" y="70.9" font-family="Liberation Serif, serif" font-weight="bold" font-size="11.2" fill="#111" textLength="49.4" lengthAdjust="spacingAndGlyphs">Active site</text>
</g>
<g id="panelC">
<path d="M420.3 25.3L425.6 30.1" stroke="#e8281c" stroke-width="2"/>
<path d="M425.6 30.1L430.9 34.9" stroke="#e8881c" stroke-width="2"/>
<path d="M430.9 34.9L436.9 29.8" stroke="#e8881c" stroke-width="2"/>
<path d="M436.9 29.8L442.8 24.6" stroke="#e8281c" stroke-width="2"/>
<path d="M430.9 34.9L429.9 41.0" stroke="#e8881c" stroke-width="2"/>
<path d="M429.9 41.0L428.8 47.2" stroke="#e8281c" stroke-width="2"/>
<path d="M430.9 34.9L432.7 40.6" stroke="#e8881c" stroke-width="2"/>
<path d="M432.7 40.6L434.5 46.3" stroke="#e8281c" stroke-width="2"/>
<path d="M442.8 24.6L448.8 28.6" stroke="#e8281c" stroke-width="2"/>
<path d="M448.8 28.6L454.7 32.5" stroke="#8c8c8c" stroke-width="2"/>
<path d="M454.7 32.5L459.4 28.1" stroke="#8c8c8c" stroke-width="2"/>
<path d="M459.4 28.1L464.2 23.8" stroke="#8c8c8c" stroke-width="2"/>
<path d="M464.2 23.8L466.5 18.6" stroke="#8c8c8c" stroke-width="2"/>
<path d="M466.5 18.6L468.9 13.5" stroke="#e8281c" stroke-width="2"/>
<path d="M464.2 23.8L469.9 26.1" stroke="#8c8c8c" stroke-width="2"/>
<path d="M469.9 26.1L475.5 28.5" stroke="#e8281c" stroke-width="2"/>
<path d="M464.2 23.8L467.9 31.3" stroke="#8c8c8c" stroke-width="2"/>
<path d="M467.9 31.3L471.5 38.8" stroke="#8c8c8c" stroke-width="2"/>
<path d="M475.5 28.5L478.6 32.9" stroke="#e8281c" stroke-width="2"/>
<path d="M478.6 32.9L481.7 37.2" stroke="#8c8c8c" stroke-width="2"/>
<path d="M471.5 38.8L476.6 38.0" stroke="#8c8c8c" stroke-width="2"/>
<path d="M476.6 38.0L481.7 37.2" stroke="#8c8c8c" stroke-width="2"/>
<path d="M471.5 38.8L473.8 39.0" stroke="#8c8c8c" stroke-width="2"/>
<path d="M473.8 39.0L476.0 39.2" stroke="#e8281c" stroke-width="2"/>
<path d="M481.7 37.2L483.7 44.0" stroke="#8c8c8c" stroke-width="2"/>
<path d="M483.7 44.0L485.7 50.7" stroke="#2858e0" stroke-width="2"/>
<path d="M485.7 50.7L490.2 53.8" stroke="#2858e0" stroke-width="2"/>
<path d="M490.2 53.8L494.8 56.8" stroke="#8c8c8c" stroke-width="2"/>
<path d="M494.8 56.8L497.0 53.3" stroke="#8c8c8c" stroke-width="2"/>
<path d="M497.0 53.3L499.2 49.8" stroke="#e8281c" stroke-width="2"/>
<path d="M485.7 50.7L483.1 54.7" stroke="#2858e0" stroke-width="2"/>
<path d="M483.1 54.7L480.5 58.7" stroke="#8c8c8c" stroke-width="2"/>
<path d="M480.5 58.7L482.4 66.2" stroke="#8c8c8c" stroke-width="2"/>
<path d="M482.4 66.2L484.3 73.6" stroke="#8c8c8c" stroke-width="2"/>
<path d="M484.3 73.6L489.5 76.2" stroke="#8c8c8c" stroke-width="2"/>
<path d="M489.5 76.2L494.6 78.8" stroke="#8c8c8c" stroke-width="2"/>
<path d="M494.6 78.8L497.2 74.4" stroke="#8c8c8c" stroke-width="2"/>
<path d="M497.2 74.4L499.8 70.1" stroke="#2858e0" stroke-width="2"/>
<path d="M499.8 70.1L497.3 63.4" stroke="#2858e0" stroke-width="2"/>
<path d="M497.3 63.4L494.8 56.8" stroke="#8c8c8c" stroke-width="2"/>
<path d="M494.6 78.8L496.8 86.3" stroke="#8c8c8c" stroke-width="2"/>
<path d="M496.8 86.3L499.0 93.9" stroke="#2858e0" stroke-width="2"/>
<path d="M411.9 46.7L414.0 51.2" stroke="#e8281c" stroke-width="2"/>
<path d="M414.0 51.2L416.2 55.6" stroke="#8c8c8c" stroke-width="2"/>
<path d="M416.2 55.6L413.2 59.1" stroke="#8c8c8c" stroke-width="2"/>
<path d="M413.2 59.1L410.3 62.6" stroke="#e8281c" stroke-width="2"/>
<path d="M416.2 55.6L423.2 56.8" stroke="#8c8c8c" stroke-width="2"/>
<path d="M423.2 56.8L430.3 58.0" stroke="#8c8c8c" stroke-width="2"/>
<path d="M430.3 58.0L432.4 52.1" stroke="#8c8c8c" stroke-width="2"/>
<path d="M432.4 52.1L434.5 46.3" stroke="#e8281c" stroke-width="2"/>
<path d="M430.3 58.0L431.4 64.4" stroke="#8c8c8c" stroke-width="2"/>
<path d="M431.4 64.4L432.5 70.8" stroke="#e8281c" stroke-width="2"/>
<path d="M432.5 70.8L437.2 69.7" stroke="#e8281c" stroke-width="2"/>
<path d="M437.2 69.7L442.0 68.5" stroke="#8c8c8c" stroke-width="2"/>
<path d="M430.3 58.0L436.1 63.2" stroke="#8c8c8c" stroke-width="2"/>
<path d="M436.1 63.2L442.0 68.5" stroke="#8c8c8c" stroke-width="2"/>
<path d="M442.0 68.5L443.2 72.0" stroke="#8c8c8c" stroke-width="2"/>
<path d="M443.2 72.0L444.4 75.6" stroke="#8c8c8c" stroke-width="2"/>
<path d="M444.4 75.6L448.8 72.8" stroke="#8c8c8c" stroke-width="2"/>
<path d="M448.8 72.8L453.1 70.0" stroke="#e8281c" stroke-width="2"/>
<path d="M444.4 75.6L444.8 79.9" stroke="#8c8c8c" stroke-width="2"/>
<path d="M444.8 79.9L445.1 84.3" stroke="#8c8c8c" stroke-width="2"/>
<path d="M445.1 84.3L450.6 83.8" stroke="#8c8c8c" stroke-width="2"/>
<path d="M450.6 83.8L456.2 83.2" stroke="#2858e0" stroke-width="2"/>
<path d="M445.1 84.3L445.9 89.0" stroke="#8c8c8c" stroke-width="2"/>
<path d="M445.9 89.0L446.7 93.8" stroke="#e8281c" stroke-width="2"/>
<path d="M445.1 84.3L447.1 92.2" stroke="#8c8c8c" stroke-width="2"/>
<path d="M447.1 92.2L449.1 100.0" stroke="#8c8c8c" stroke-width="2"/>
<path d="M449.1 100.0L444.0 100.5" stroke="#8c8c8c" stroke-width="2"/>
<path d="M444.0 100.5L438.8 101.0" stroke="#e8281c" stroke-width="2"/>
<path d="M449.1 100.0L451.5 102.5" stroke="#8c8c8c" stroke-width="2"/>
<path d="M451.5 102.5L453.9 104.9" stroke="#e8281c" stroke-width="2"/>
<path d="M456.2 83.2L457.7 89.6" stroke="#2858e0" stroke-width="2"/>
<path d="M457.7 89.6L459.2 96.0" stroke="#8c8c8c" stroke-width="2"/>
<path d="M459.2 96.0L464.8 96.0" stroke="#8c8c8c" stroke-width="2"/>
<path d="M464.8 96.0L470.3 96.0" stroke="#8c8c8c" stroke-width="2"/>
<path d="M446.7 93.8L447.9 96.9" stroke="#e8281c" stroke-width="2"/>
<path d="M447.9 96.9L449.1 100.0" stroke="#8c8c8c" stroke-width="2"/>
<path d="M464.4 6.0L464.2 23.8" stroke="#cfcfcf" stroke-width="1.4"/>
<path d="M463.5 11.9L468.9 13.5" stroke="#cfcfcf" stroke-width="1.4"/>
<path d="M454.5 42.8L454.7 32.5" stroke="#cfcfcf" stroke-width="1.4"/>
<path d="M466.5 47.5L471.5 38.8" stroke="#cfcfcf" stroke-width="1.4"/>
<path d="M487.2 30.0L481.7 37.2" stroke="#cfcfcf" stroke-width="1.4"/>
<path d="M479.3 46.0L481.7 37.2" stroke="#cfcfcf" stroke-width="1.4"/>
<path d="M472.8 54.6L480.5 58.7" stroke="#cfcfcf" stroke-width="1.4"/>
<path d="M480.3 81.5L484.3 73.6" stroke="#cfcfcf" stroke-width="1.4"/>
<path d="M507.3 97.0L499.0 93.9" stroke="#cfcfcf" stroke-width="1.4"/>
<path d="M497.8 99.9L499.0 93.9" stroke="#cfcfcf" stroke-width="1.4"/>
<path d="M405.5 44.4L411.9 46.7" stroke="#cfcfcf" stroke-width="1.4"/>
<path d="M446.7 61.3L442.0 68.5" stroke="#cfcfcf" stroke-width="1.4"/>
<path d="M451.5 64.5L453.1 70.0" stroke="#cfcfcf" stroke-width="1.4"/>
<path d="M426.1 70.8L430.3 58.0" stroke="#cfcfcf" stroke-width="1.4"/>
<path d="M434.9 80.3L444.4 75.6" stroke="#cfcfcf" stroke-width="1.4"/>
<path d="M461.2 76.5L456.2 83.2" stroke="#cfcfcf" stroke-width="1.4"/>
<path d="M454.7 91.4L459.2 96.0" stroke="#cfcfcf" stroke-width="1.4"/>
<path d="M476.0 92.2L470.3 96.0" stroke="#cfcfcf" stroke-width="1.4"/>
<path d="M472.1 105.7L470.3 96.0" stroke="#cfcfcf" stroke-width="1.4"/>
<path d="M476.5 99.5L470.3 96.0" stroke="#cfcfcf" stroke-width="1.4"/>
<path d="M461.0 102.5L459.2 96.0" stroke="#cfcfcf" stroke-width="1.4"/>
<path d="M442.0 108.0L438.8 101.0" stroke="#cfcfcf" stroke-width="1.4"/>
<path d="M449.1 105.5L449.1 100.0" stroke="#cfcfcf" stroke-width="1.4"/>
<path d="M426.2 41.9L428.8 47.2" stroke="#cfcfcf" stroke-width="1.4"/>
<path d="M438.5 79.0L445.1 84.3" stroke="#cfcfcf" stroke-width="1.4"/>
<circle cx="464.4" cy="6.0" r="1.8" fill="url(#gH)"/>
<circle cx="463.5" cy="11.9" r="1.8" fill="url(#gH)"/>
<circle cx="454.5" cy="42.8" r="1.8" fill="url(#gH)"/>
<circle cx="466.5" cy="47.5" r="1.8" fill="url(#gH)"/>
<circle cx="487.2" cy="30.0" r="1.8" fill="url(#gH)"/>
<circle cx="479.3" cy="46.0" r="1.8" fill="url(#gH)"/>
<circle cx="472.8" cy="54.6" r="1.8" fill="url(#gH)"/>
<circle cx="480.3" cy="81.5" r="1.8" fill="url(#gH)"/>
<circle cx="507.3" cy="97.0" r="1.8" fill="url(#gH)"/>
<circle cx="497.8" cy="99.9" r="1.8" fill="url(#gH)"/>
<circle cx="405.5" cy="44.4" r="1.8" fill="url(#gH)"/>
<circle cx="446.7" cy="61.3" r="1.8" fill="url(#gH)"/>
<circle cx="451.5" cy="64.5" r="1.8" fill="url(#gH)"/>
<circle cx="426.1" cy="70.8" r="1.8" fill="url(#gH)"/>
<circle cx="434.9" cy="80.3" r="1.8" fill="url(#gH)"/>
<circle cx="461.2" cy="76.5" r="1.8" fill="url(#gH)"/>
<circle cx="454.7" cy="91.4" r="1.8" fill="url(#gH)"/>
<circle cx="476.0" cy="92.2" r="1.8" fill="url(#gH)"/>
<circle cx="472.1" cy="105.7" r="1.8" fill="url(#gH)"/>
<circle cx="476.5" cy="99.5" r="1.8" fill="url(#gH)"/>
<circle cx="461.0" cy="102.5" r="1.8" fill="url(#gH)"/>
<circle cx="442.0" cy="108.0" r="1.8" fill="url(#gH)"/>
<circle cx="449.1" cy="105.5" r="1.8" fill="url(#gH)"/>
<circle cx="426.2" cy="41.9" r="1.8" fill="url(#gH)"/>
<circle cx="438.5" cy="79.0" r="1.8" fill="url(#gH)"/>
<circle cx="420.3" cy="25.3" r="3.1" fill="url(#gO)"/>
<circle cx="430.9" cy="34.9" r="4.2" fill="url(#gP)"/>
<circle cx="442.8" cy="24.6" r="3.1" fill="url(#gO)"/>
<circle cx="428.8" cy="47.2" r="3.1" fill="url(#gO)"/>
<circle cx="434.5" cy="46.3" r="3.1" fill="url(#gO)"/>
<circle cx="454.7" cy="32.5" r="3.2" fill="url(#gC)"/>
<circle cx="464.2" cy="23.8" r="3.2" fill="url(#gC)"/>
<circle cx="468.9" cy="13.5" r="3.1" fill="url(#gO)"/>
<circle cx="475.5" cy="28.5" r="3.1" fill="url(#gO)"/>
<circle cx="476.0" cy="39.2" r="3.1" fill="url(#gO)"/>
<circle cx="471.5" cy="38.8" r="3.2" fill="url(#gC)"/>
<circle cx="481.7" cy="37.2" r="3.2" fill="url(#gC)"/>
<circle cx="485.7" cy="50.7" r="3.0" fill="url(#gN)"/>
<circle cx="499.2" cy="49.8" r="3.1" fill="url(#gO)"/>
<circle cx="494.8" cy="56.8" r="3.2" fill="url(#gC)"/>
<circle cx="480.5" cy="58.7" r="3.2" fill="url(#gC)"/>
<circle cx="499.8" cy="70.1" r="3.0" fill="url(#gN)"/>
<circle cx="484.3" cy="73.6" r="3.2" fill="url(#gC)"/>
<circle cx="494.6" cy="78.8" r="3.2" fill="url(#gC)"/>
<circle cx="499.0" cy="93.9" r="3.0" fill="url(#gN)"/>
<circle cx="411.9" cy="46.7" r="3.1" fill="url(#gO)"/>
<circle cx="416.2" cy="55.6" r="3.2" fill="url(#gC)"/>
<circle cx="410.3" cy="62.6" r="3.1" fill="url(#gO)"/>
<circle cx="430.3" cy="58.0" r="3.2" fill="url(#gC)"/>
<circle cx="432.5" cy="70.8" r="3.1" fill="url(#gO)"/>
<circle cx="442.0" cy="68.5" r="3.2" fill="url(#gC)"/>
<circle cx="444.4" cy="75.6" r="3.5" fill="url(#gC)"/>
<circle cx="453.1" cy="70.0" r="3.1" fill="url(#gO)"/>
<circle cx="445.1" cy="84.3" r="4.3" fill="url(#gC)"/>
<circle cx="456.2" cy="83.2" r="3.0" fill="url(#gN)"/>
<circle cx="446.7" cy="93.8" r="4.3" fill="url(#gO)"/>
<circle cx="438.8" cy="101.0" r="3.1" fill="url(#gO)"/>
<circle cx="453.9" cy="104.9" r="3.1" fill="url(#gO)"/>
<circle cx="459.2" cy="96.0" r="3.2" fill="url(#gC)"/>
<circle cx="470.3" cy="96.0" r="3.2" fill="url(#gC)"/>
<circle cx="449.1" cy="100.0" r="3.2" fill="url(#gC)"/>
</g>
<g id="panelB">
<rect x="53.10" y="136.00" width="181.20" height="132.00" fill="#ffffb2"/>
<path fill="#ffff00" d="M123.57 136.00h10.15v3.75h-10.15zM158.80 136.00h25.25v3.75h-25.25zM209.13 136.00h20.21v3.75h-20.21zM128.60 139.67h10.15v3.75h-10.15zM209.13 139.67h15.18v3.75h-15.18zM128.60 143.33h20.21v3.75h-20.21zM209.13 143.33h10.15v3.75h-10.15zM138.67 147.00h10.15v3.75h-10.15zM209.13 147.00h15.18v3.75h-15.18zM138.67 150.67h10.15v3.75h-10.15zM209.13 150.67h20.21v3.75h-20.21zM133.63 154.33h15.18v3.75h-15.18zM214.17 154.33h15.18v3.75h-15.18zM133.63 158.00h15.18v3.75h-15.18zM163.83 158.00h30.28v3.75h-30.28zM219.20 158.00h10.15v3.75h-10.15zM138.67 161.67h55.45v3.75h-55.45zM219.20 161.67h10.15v3.75h-10.15zM138.67 165.33h35.31v3.75h-35.31zM183.97 165.33h10.15v3.75h-10.15zM219.20 165.33h10.15v3.75h-10.15zM123.57 169.00h35.31v3.75h-35.31zM178.93 169.00h15.18v3.75h-15.18zM219.20 169.00h15.18v3.75h-15.18zM113.50 172.67h45.38v3.75h-45.38zM178.93 172.67h15.18v3.75h-15.18zM219.20 172.67h15.18v3.75h-15.18zM53.10 176.33h5.11v3.75h-5.11zM118.53 176.33h10.15v3.75h-10.15zM143.70 176.33h20.21v3.75h-20.21zM178.93 176.33h20.21v3.75h-20.21zM219.20 176.33h15.18v3.75h-15.18zM53.10 180.00h10.15v3.75h-10.15zM118.53 180.00h10.15v3.75h-10.15zM148.73 180.00h10.15v3.75h-10.15zM189.00 180.00h10.15v3.75h-10.15zM219.20 180.00h15.18v3.75h-15.18zM53.10 183.67h10.15v3.75h-10.15zM113.50 183.67h15.18v3.75h-15.18zM148.73 183.67h15.18v3.75h-15.18zM183.97 183.67h15.18v3.75h-15.18zM219.20 183.67h15.18v3.75h-15.18zM53.10 187.33h5.11v3.75h-5.11zM113.50 187.33h15.18v3.75h-15.18zM148.73 187.33h15.18v3.75h-15.18zM183.97 187.33h15.18v3.75h-15.18zM219.20 187.33h15.18v3.75h-15.18zM53.10 191.00h5.11v3.75h-5.11zM118.53 191.00h15.18v3.75h-15.18zM148.73 191.00h15.18v3.75h-15.18zM189.00 191.00h10.15v3.75h-10.15zM219.20 191.00h15.18v3.75h-15.18zM53.10 194.67h5.11v3.75h-5.11zM123.57 194.67h15.18v3.75h-15.18zM148.73 194.67h20.21v3.75h-20.21zM183.97 194.67h15.18v3.75h-15.18zM219.20 194.67h15.18v3.75h-15.18zM53.10 198.33h5.11v3.75h-5.11zM123.57 198.33h20.21v3.75h-20.21zM148.73 198.33h20.21v3.75h-20.21zM189.00 198.33h10.15v3.75h-10.15zM219.20 198.33h15.18v3.75h-15.18zM53.10 202.00h5.11v3.75h-5.11zM128.60 202.00h15.18v3.75h-15.18zM153.77 202.00h15.18v3.75h-15.18zM173.90 202.00h5.11v3.75h-5.11zM189.00 202.00h10.15v3.75h-10.15zM219.20 202.00h15.18v3.75h-15.18zM53.10 205.67h5.11v3.75h-5.11zM128.60 205.67h20.21v3.75h-20.21zM153.77 205.67h45.38v3.75h-45.38zM219.20 205.67h15.18v3.75h-15.18zM53.10 209.33h10.15v3.75h-10.15zM133.63 209.33h15.18v3.75h-15.18zM153.77 209.33h45.38v3.75h-45.38zM219.20 209.33h15.18v3.75h-15.18zM53.10 213.00h10.15v3.75h-10.15zM133.63 213.00h20.21v3.75h-20.21zM219.20 213.00h15.18v3.75h-15.18zM53.10 216.67h15.18v3.75h-15.18zM138.67 216.67h20.21v3.75h-20.21zM219.20 216.67h15.18v3.75h-15.18zM53.10 220.33h5.11v3.75h-5.11zM143.70 220.33h15.18v3.75h-15.18zM219.20 220.33h15.18v3.75h-15.18zM53.10 224.00h15.18v3.75h-15.18zM143.70 224.00h15.18v3.75h-15.18zM219.20 224.00h15.18v3.75h-15.18zM53.10 227.67h15.18v3.75h-15.18zM148.73 227.67h10.15v3.75h-10.15zM219.20 227.67h15.18v3.75h-15.18zM53.10 231.33h25.25v3.75h-25.25zM143.70 231.33h15.18v3.75h-15.18zM219.20 231.33h15.18v3.75h-15.18zM58.13 235.00h20.21v3.75h-20.21zM128.60 235.00h30.28v3.75h-30.28zM68.20 238.67h40.35v3.75h-40.35zM113.50 238.67h40.35v3.75h-40.35zM68.20 242.33h20.21v3.75h-20.21zM98.40 242.33h40.35v3.75h-40.35zM53.10 246.00h25.25v3.75h-25.25zM88.33 246.00h35.31v3.75h-35.31zM158.80 246.00h25.25v3.75h-25.25zM53.10 249.67h30.28v3.75h-30.28zM103.43 249.67h20.21v3.75h-20.21zM158.80 249.67h25.25v3.75h-25.25zM53.10 253.33h5.11v3.75h-5.11zM73.23 253.33h5.11v3.75h-5.11zM103.43 253.33h25.25v3.75h-25.25zM158.80 253.33h10.15v3.75h-10.15zM173.90 253.33h15.18v3.75h-15.18zM53.10 257.00h5.11v3.75h-5.11zM108.47 257.00h20.21v3.75h-20.21zM158.80 257.00h10.15v3.75h-10.15zM173.90 257.00h15.18v3.75h-15.18zM219.20 257.00h15.18v3.75h-15.18zM53.10 260.67h5.11v3.75h-5.11zM118.53 260.67h10.15v3.75h-10.15zM158.80 260.67h10.15v3.75h-10.15zM178.93 260.67h10.15v3.75h-10.15zM219.20 260.67h15.18v3.75h-15.18zM118.53 264.33h10.15v3.75h-10.15zM158.80 264.33h30.28v3.75h-30.28zM219.20 264.33h10.15v3.75h-10.15z"/>
<path fill="#f1f100" d="M148.73 161.67H194.03V176.33H199.07V213.00H148.73zM163.83 158.00H194.03V161.77H163.83z"/>
<path fill="#e5820a" d="M53.10 136.00h5.11v3.75h-5.11zM108.47 136.00h15.18v3.75h-15.18zM229.27 136.00h5.11v3.75h-5.11zM53.10 139.67h5.11v3.75h-5.11zM113.50 139.67h15.18v3.75h-15.18zM224.23 139.67h10.15v3.75h-10.15zM53.10 143.33h5.11v3.75h-5.11zM113.50 143.33h15.18v3.75h-15.18zM219.20 143.33h15.18v3.75h-15.18zM53.10 147.00h10.15v3.75h-10.15zM118.53 147.00h20.21v3.75h-20.21zM224.23 147.00h10.15v3.75h-10.15zM53.10 150.67h10.15v3.75h-10.15zM123.57 150.67h15.18v3.75h-15.18zM229.27 150.67h5.11v3.75h-5.11zM53.10 154.33h10.15v3.75h-10.15zM118.53 154.33h15.18v3.75h-15.18zM229.27 154.33h5.11v3.75h-5.11zM53.10 158.00h15.18v3.75h-15.18zM113.50 158.00h20.21v3.75h-20.21zM229.27 158.00h5.11v3.75h-5.11zM53.10 161.67h20.21v3.75h-20.21zM108.47 161.67h30.28v3.75h-30.28zM229.27 161.67h5.11v3.75h-5.11zM53.10 165.33h25.25v3.75h-25.25zM83.30 165.33h10.15v3.75h-10.15zM98.40 165.33h40.35v3.75h-40.35zM173.90 165.33h10.15v3.75h-10.15zM229.27 165.33h5.11v3.75h-5.11zM53.10 169.00h70.55v3.75h-70.55zM158.80 169.00h20.21v3.75h-20.21zM53.10 172.67h60.48v3.75h-60.48zM158.80 172.67h20.21v3.75h-20.21zM58.13 176.33h60.48v3.75h-60.48zM163.83 176.33h15.18v3.75h-15.18zM63.17 180.00h55.45v3.75h-55.45zM158.80 180.00h30.28v3.75h-30.28zM63.17 183.67h50.41v3.75h-50.41zM163.83 183.67h5.11v3.75h-5.11zM173.90 183.67h10.15v3.75h-10.15zM58.13 187.33h55.45v3.75h-55.45zM163.83 187.33h5.11v3.75h-5.11zM178.93 187.33h5.11v3.75h-5.11zM58.13 191.00h30.28v3.75h-30.28zM93.37 191.00h25.25v3.75h-25.25zM163.83 191.00h25.25v3.75h-25.25zM58.13 194.67h25.25v3.75h-25.25zM103.43 194.67h20.21v3.75h-20.21zM168.87 194.67h15.18v3.75h-15.18zM58.13 198.33h25.25v3.75h-25.25zM108.47 198.33h15.18v3.75h-15.18zM168.87 198.33h20.21v3.75h-20.21zM58.13 202.00h20.21v3.75h-20.21zM113.50 202.00h15.18v3.75h-15.18zM168.87 202.00h5.11v3.75h-5.11zM178.93 202.00h10.15v3.75h-10.15zM58.13 205.67h25.25v3.75h-25.25zM118.53 205.67h10.15v3.75h-10.15zM63.17 209.33h20.21v3.75h-20.21zM118.53 209.33h15.18v3.75h-15.18zM63.17 213.00h25.25v3.75h-25.25zM123.57 213.00h10.15v3.75h-10.15zM68.20 216.67h25.25v3.75h-25.25zM128.60 216.67h10.15v3.75h-10.15zM58.13 220.33h40.35v3.75h-40.35zM128.60 220.33h15.18v3.75h-15.18zM68.20 224.00h40.35v3.75h-40.35zM128.60 224.00h15.18v3.75h-15.18zM68.20 227.67h80.61v3.75h-80.61zM78.27 231.33h65.51v3.75h-65.51zM78.27 235.00h50.41v3.75h-50.41zM108.47 238.67h5.11v3.75h-5.11zM88.33 242.33h10.15v3.75h-10.15zM78.27 246.00h10.15v3.75h-10.15zM83.30 249.67h20.21v3.75h-20.21zM58.13 253.33h15.18v3.75h-15.18zM78.27 253.33h25.25v3.75h-25.25zM168.87 253.33h5.11v3.75h-5.11zM58.13 257.00h50.41v3.75h-50.41zM168.87 257.00h5.11v3.75h-5.11zM58.13 260.67h60.48v3.75h-60.48zM168.87 260.67h10.15v3.75h-10.15zM53.10 264.33h65.51v3.75h-65.51zM229.27 264.33h5.11v3.75h-5.11z"/>
<path fill="#fd0606" d="M58.13 136.00h50.41v3.75h-50.41zM58.13 139.67h55.45v3.75h-55.45zM58.13 143.33h55.45v3.75h-55.45zM63.17 147.00h55.45v3.75h-55.45zM63.17 150.67h60.48v3.75h-60.48zM63.17 154.33h55.45v3.75h-55.45zM68.20 158.00h45.38v3.75h-45.38zM73.23 161.67h35.31v3.75h-35.31zM78.27 165.33h5.11v3.75h-5.11zM93.37 165.33h5.11v3.75h-5.11zM168.87 183.67h5.11v3.75h-5.11zM168.87 187.33h10.15v3.75h-10.15zM88.33 191.00h5.11v3.75h-5.11zM83.30 194.67h20.21v3.75h-20.21zM83.30 198.33h25.25v3.75h-25.25zM78.27 202.00h35.31v3.75h-35.31zM83.30 205.67h35.31v3.75h-35.31zM83.30 209.33h35.31v3.75h-35.31zM88.33 213.00h35.31v3.75h-35.31zM93.37 216.67h35.31v3.75h-35.31zM98.40 220.33h30.28v3.75h-30.28zM108.47 224.00h20.21v3.75h-20.21z"/>
<path d="M143.70 136.00V268.00M53.10 202.00H234.30" stroke="#8a8a40" stroke-width="0.35" opacity="0.55" fill="none"/>
<rect x="53.10" y="136.00" width="181.20" height="132.00" fill="none" stroke="#777" stroke-width="0.3"/>
<path fill="#22aadf" d="M74.8 143.6h1.7v1.7h-1.7zM68.2 139.3h1.7v1.7h-1.7zM80.4 149.6h1.7v1.7h-1.7zM79.6 147.8h1.7v1.7h-1.7zM67.3 143.3h1.7v1.7h-1.7zM68.7 142.5h1.7v1.7h-1.7zM77.5 146.7h1.7v1.7h-1.7zM72.2 146.1h1.7v1.7h-1.7zM82.8 146.5h1.7v1.7h-1.7zM76.7 148.3h1.7v1.7h-1.7zM91.9 149.2h1.7v1.7h-1.7zM73.9 143.9h1.7v1.7h-1.7zM70.1 141.8h1.7v1.7h-1.7zM87.7 150.9h1.7v1.7h-1.7zM71.1 147.8h1.7v1.7h-1.7zM76.1 148.8h1.7v1.7h-1.7zM80.7 148.1h1.7v1.7h-1.7zM71.7 144.1h1.7v1.7h-1.7zM84.2 153.1h1.7v1.7h-1.7zM81.7 148.4h1.7v1.7h-1.7zM78.2 149.4h1.7v1.7h-1.7zM84.6 146.1h1.7v1.7h-1.7zM72.7 148.2h1.7v1.7h-1.7zM89.2 155.0h1.7v1.7h-1.7zM85.4 153.4h1.7v1.7h-1.7zM69.4 136.2h1.7v1.7h-1.7zM77.3 147.3h1.7v1.7h-1.7zM79.1 150.0h1.7v1.7h-1.7zM67.4 144.7h1.7v1.7h-1.7zM81.3 153.7h1.7v1.7h-1.7zM89.3 155.2h1.7v1.7h-1.7zM81.9 145.5h1.7v1.7h-1.7zM81.5 154.9h1.7v1.7h-1.7zM91.1 152.8h1.7v1.7h-1.7zM78.8 148.6h1.7v1.7h-1.7zM84.7 152.0h1.7v1.7h-1.7zM83.3 144.9h1.7v1.7h-1.7zM73.8 145.8h1.7v1.7h-1.7zM76.4 147.2h1.7v1.7h-1.7zM78.4 148.5h1.7v1.7h-1.7zM70.7 143.2h1.7v1.7h-1.7zM86.5 151.3h1.7v1.7h-1.7zM69.7 143.4h1.7v1.7h-1.7zM89.2 150.5h1.7v1.7h-1.7zM68.5 146.3h1.7v1.7h-1.7zM89.5 152.4h1.7v1.7h-1.7zM87.8 151.1h1.7v1.7h-1.7zM77.2 149.1h1.7v1.7h-1.7zM75.7 141.0h1.7v1.7h-1.7zM70.3 148.7h1.7v1.7h-1.7zM71.0 143.9h1.7v1.7h-1.7zM79.0 146.1h1.7v1.7h-1.7zM81.8 149.6h1.7v1.7h-1.7zM77.3 147.1h1.7v1.7h-1.7zM76.0 153.3h1.7v1.7h-1.7zM84.4 153.9h1.7v1.7h-1.7zM79.8 151.9h1.7v1.7h-1.7zM67.8 145.4h1.7v1.7h-1.7zM89.9 152.6h1.7v1.7h-1.7zM87.2 158.3h1.7v1.7h-1.7zM76.6 148.1h1.7v1.7h-1.7zM82.9 149.4h1.7v1.7h-1.7zM68.0 140.8h1.7v1.7h-1.7zM70.6 143.1h1.7v1.7h-1.7zM75.2 146.2h1.7v1.7h-1.7zM70.3 143.7h1.7v1.7h-1.7zM69.0 143.5h1.7v1.7h-1.7zM89.2 152.9h1.7v1.7h-1.7zM82.4 148.6h1.7v1.7h-1.7zM75.4 144.6h1.7v1.7h-1.7zM75.9 142.5h1.7v1.7h-1.7zM92.3 151.0h1.7v1.7h-1.7zM78.5 149.2h1.7v1.7h-1.7zM69.0 143.0h1.7v1.7h-1.7zM75.3 146.8h1.7v1.7h-1.7zM70.6 138.4h1.7v1.7h-1.7zM66.9 138.6h1.7v1.7h-1.7zM70.2 144.8h1.7v1.7h-1.7zM80.6 145.5h1.7v1.7h-1.7zM92.0 154.2h1.7v1.7h-1.7zM96.4 155.5h1.7v1.7h-1.7zM83.2 157.3h1.7v1.7h-1.7zM77.8 154.0h1.7v1.7h-1.7zM94.2 159.1h1.7v1.7h-1.7zM82.2 153.5h1.7v1.7h-1.7zM99.7 148.0h1.7v1.7h-1.7zM96.1 152.2h1.7v1.7h-1.7zM93.1 160.9h1.7v1.7h-1.7zM79.4 158.0h1.7v1.7h-1.7zM74.2 155.0h1.7v1.7h-1.7zM74.1 155.1h1.7v1.7h-1.7zM91.9 151.8h1.7v1.7h-1.7zM98.9 162.7h1.7v1.7h-1.7zM99.7 151.8h1.7v1.7h-1.7zM98.9 156.3h1.7v1.7h-1.7zM79.4 152.6h1.7v1.7h-1.7zM78.6 153.1h1.7v1.7h-1.7zM97.4 149.7h1.7v1.7h-1.7zM95.8 159.9h1.7v1.7h-1.7zM94.7 153.9h1.7v1.7h-1.7zM75.7 158.9h1.7v1.7h-1.7zM94.3 161.4h1.7v1.7h-1.7zM93.4 156.9h1.7v1.7h-1.7zM94.4 154.3h1.7v1.7h-1.7zM82.3 151.5h1.7v1.7h-1.7zM83.9 163.9h1.7v1.7h-1.7zM84.1 149.0h1.7v1.7h-1.7zM77.9 156.5h1.7v1.7h-1.7zM76.8 150.0h1.7v1.7h-1.7zM94.9 148.1h1.7v1.7h-1.7zM77.3 149.8h1.7v1.7h-1.7zM90.9 163.7h1.7v1.7h-1.7zM82.7 156.4h1.7v1.7h-1.7zM73.8 155.2h1.7v1.7h-1.7zM99.3 157.2h1.7v1.7h-1.7zM98.3 158.2h1.7v1.7h-1.7zM85.0 149.8h1.7v1.7h-1.7zM79.0 159.5h1.7v1.7h-1.7zM80.1 155.3h1.7v1.7h-1.7zM89.0 152.0h1.7v1.7h-1.7zM80.3 156.3h1.7v1.7h-1.7zM97.7 153.6h1.7v1.7h-1.7zM82.8 159.3h1.7v1.7h-1.7zM97.5 153.3h1.7v1.7h-1.7zM84.6 150.8h1.7v1.7h-1.7zM87.6 156.7h1.7v1.7h-1.7zM87.4 150.7h1.7v1.7h-1.7zM78.3 154.1h1.7v1.7h-1.7zM73.5 153.9h1.7v1.7h-1.7zM86.0 156.7h1.7v1.7h-1.7zM92.7 157.6h1.7v1.7h-1.7zM87.2 155.7h1.7v1.7h-1.7zM88.2 154.2h1.7v1.7h-1.7zM88.3 156.3h1.7v1.7h-1.7zM80.0 155.6h1.7v1.7h-1.7zM86.9 148.4h1.7v1.7h-1.7zM88.4 154.1h1.7v1.7h-1.7zM85.2 162.7h1.7v1.7h-1.7zM89.7 159.0h1.7v1.7h-1.7zM91.9 154.7h1.7v1.7h-1.7zM85.5 158.7h1.7v1.7h-1.7zM98.5 155.5h1.7v1.7h-1.7zM92.0 148.3h1.7v1.7h-1.7zM80.3 160.7h1.7v1.7h-1.7zM88.3 148.0h1.7v1.7h-1.7zM77.0 157.0h1.7v1.7h-1.7zM76.6 155.9h1.7v1.7h-1.7zM79.8 154.1h1.7v1.7h-1.7zM75.3 157.7h1.7v1.7h-1.7zM97.3 160.2h1.7v1.7h-1.7zM77.5 155.7h1.7v1.7h-1.7zM77.2 159.8h1.7v1.7h-1.7zM96.9 152.1h1.7v1.7h-1.7zM98.8 155.1h1.7v1.7h-1.7zM84.0 165.7h1.7v1.7h-1.7zM107.2 148.3h1.7v1.7h-1.7zM103.8 153.9h1.7v1.7h-1.7zM108.4 150.9h1.7v1.7h-1.7zM108.6 152.1h1.7v1.7h-1.7zM112.7 144.4h1.7v1.7h-1.7zM106.8 150.2h1.7v1.7h-1.7zM106.4 152.2h1.7v1.7h-1.7zM111.6 150.9h1.7v1.7h-1.7zM106.0 142.4h1.7v1.7h-1.7zM105.4 147.6h1.7v1.7h-1.7zM105.7 149.6h1.7v1.7h-1.7zM107.4 148.9h1.7v1.7h-1.7zM102.6 146.5h1.7v1.7h-1.7zM109.6 143.1h1.7v1.7h-1.7zM101.7 149.6h1.7v1.7h-1.7zM108.7 144.9h1.7v1.7h-1.7zM103.2 150.0h1.7v1.7h-1.7zM104.2 143.7h1.7v1.7h-1.7zM108.6 150.8h1.7v1.7h-1.7zM106.9 144.2h1.7v1.7h-1.7zM103.7 148.9h1.7v1.7h-1.7zM104.3 148.5h1.7v1.7h-1.7zM104.8 146.6h1.7v1.7h-1.7zM102.3 152.2h1.7v1.7h-1.7zM111.0 146.6h1.7v1.7h-1.7zM104.5 146.1h1.7v1.7h-1.7zM110.1 149.3h1.7v1.7h-1.7zM108.3 148.8h1.7v1.7h-1.7zM107.3 148.4h1.7v1.7h-1.7zM109.8 151.8h1.7v1.7h-1.7zM113.3 150.6h1.7v1.7h-1.7zM111.3 147.8h1.7v1.7h-1.7zM109.9 146.4h1.7v1.7h-1.7zM106.5 142.9h1.7v1.7h-1.7zM106.8 151.9h1.7v1.7h-1.7zM105.2 158.8h1.7v1.7h-1.7zM107.8 143.6h1.7v1.7h-1.7zM111.3 153.7h1.7v1.7h-1.7zM108.3 147.4h1.7v1.7h-1.7zM102.2 155.6h1.7v1.7h-1.7zM105.8 145.8h1.7v1.7h-1.7zM105.6 146.3h1.7v1.7h-1.7zM99.9 152.1h1.7v1.7h-1.7zM102.6 150.2h1.7v1.7h-1.7zM107.3 148.4h1.7v1.7h-1.7zM107.4 149.6h1.7v1.7h-1.7zM102.6 148.6h1.7v1.7h-1.7zM107.7 145.0h1.7v1.7h-1.7zM98.4 151.0h1.7v1.7h-1.7zM102.9 149.3h1.7v1.7h-1.7zM109.9 151.7h1.7v1.7h-1.7zM106.8 152.4h1.7v1.7h-1.7zM107.3 138.9h1.7v1.7h-1.7zM103.2 152.3h1.7v1.7h-1.7zM105.1 146.1h1.7v1.7h-1.7zM105.3 149.6h1.7v1.7h-1.7zM106.3 152.8h1.7v1.7h-1.7zM109.6 152.2h1.7v1.7h-1.7zM106.1 149.9h1.7v1.7h-1.7zM106.1 149.6h1.7v1.7h-1.7zM108.1 150.4h1.7v1.7h-1.7zM106.9 146.0h1.7v1.7h-1.7zM106.7 148.9h1.7v1.7h-1.7zM112.1 156.1h1.7v1.7h-1.7zM104.7 153.0h1.7v1.7h-1.7zM100.1 146.5h1.7v1.7h-1.7zM103.0 154.8h1.7v1.7h-1.7zM116.7 145.6h1.7v1.7h-1.7zM112.0 150.2h1.7v1.7h-1.7zM105.0 145.1h1.7v1.7h-1.7zM97.9 154.0h1.7v1.7h-1.7zM100.8 148.6h1.7v1.7h-1.7zM103.8 154.2h1.7v1.7h-1.7zM105.3 145.7h1.7v1.7h-1.7zM99.1 147.0h1.7v1.7h-1.7zM100.8 144.7h1.7v1.7h-1.7zM101.8 150.5h1.7v1.7h-1.7zM103.0 147.3h1.7v1.7h-1.7zM106.6 150.7h1.7v1.7h-1.7zM107.7 146.8h1.7v1.7h-1.7zM101.1 153.4h1.7v1.7h-1.7zM101.5 151.4h1.7v1.7h-1.7zM101.3 142.2h1.7v1.7h-1.7zM106.3 149.5h1.7v1.7h-1.7zM100.8 155.2h1.7v1.7h-1.7zM104.6 143.4h1.7v1.7h-1.7zM109.1 149.5h1.7v1.7h-1.7zM107.9 150.1h1.7v1.7h-1.7zM113.4 147.6h1.7v1.7h-1.7zM113.2 144.8h1.7v1.7h-1.7zM105.3 152.9h1.7v1.7h-1.7zM109.6 152.2h1.7v1.7h-1.7zM99.0 153.7h1.7v1.7h-1.7zM101.7 147.4h1.7v1.7h-1.7zM107.3 149.6h1.7v1.7h-1.7zM63.3 136.6h1.7v1.7h-1.7zM67.4 136.6h1.7v1.7h-1.7zM90.0 136.2h1.7v1.7h-1.7zM111.6 138.8h1.7v1.7h-1.7zM59.9 173.2h1.7v1.7h-1.7zM73.2 170.7h1.7v1.7h-1.7zM76.4 169.4h1.7v1.7h-1.7zM79.0 173.2h1.7v1.7h-1.7zM80.2 175.2h1.7v1.7h-1.7zM87.9 165.6h1.7v1.7h-1.7zM94.2 173.2h1.7v1.7h-1.7zM96.2 170.1h1.7v1.7h-1.7zM100.0 168.8h1.7v1.7h-1.7zM100.2 171.3h1.7v1.7h-1.7zM101.9 175.2h1.7v1.7h-1.7zM102.3 177.7h1.7v1.7h-1.7zM107.6 174.5h1.7v1.7h-1.7zM87.9 180.2h1.7v1.7h-1.7zM103.2 166.5h1.7v1.7h-1.7zM81.5 166.5h1.7v1.7h-1.7zM67.5 159.2h1.7v1.7h-1.7zM70.7 160.1h1.7v1.7h-1.7zM114.2 215.3h1.7v1.7h-1.7zM113.0 212.9h1.7v1.7h-1.7zM109.7 214.5h1.7v1.7h-1.7zM113.7 215.5h1.7v1.7h-1.7zM105.7 214.9h1.7v1.7h-1.7zM112.9 217.2h1.7v1.7h-1.7zM110.3 209.4h1.7v1.7h-1.7zM113.6 211.4h1.7v1.7h-1.7zM116.9 213.5h1.7v1.7h-1.7zM109.4 219.2h1.7v1.7h-1.7zM110.9 210.8h1.7v1.7h-1.7zM109.0 214.2h1.7v1.7h-1.7zM111.5 212.1h1.7v1.7h-1.7zM109.0 215.4h1.7v1.7h-1.7zM108.9 221.1h1.7v1.7h-1.7zM108.6 210.3h1.7v1.7h-1.7zM113.4 220.1h1.7v1.7h-1.7zM109.3 214.6h1.7v1.7h-1.7zM107.7 211.3h1.7v1.7h-1.7zM107.7 213.7h1.7v1.7h-1.7zM109.7 217.2h1.7v1.7h-1.7zM109.8 214.5h1.7v1.7h-1.7zM111.1 215.4h1.7v1.7h-1.7zM111.6 213.9h1.7v1.7h-1.7zM109.5 214.0h1.7v1.7h-1.7zM104.3 209.1h1.7v1.7h-1.7zM114.0 215.4h1.7v1.7h-1.7zM103.8 214.7h1.7v1.7h-1.7zM112.2 222.4h1.7v1.7h-1.7zM116.0 216.3h1.7v1.7h-1.7zM108.2 216.1h1.7v1.7h-1.7zM110.6 212.7h1.7v1.7h-1.7zM110.0 212.8h1.7v1.7h-1.7zM107.7 211.9h1.7v1.7h-1.7zM108.8 214.3h1.7v1.7h-1.7zM112.9 212.9h1.7v1.7h-1.7zM112.1 208.1h1.7v1.7h-1.7zM108.1 212.4h1.7v1.7h-1.7zM106.0 208.0h1.7v1.7h-1.7zM106.2 218.4h1.7v1.7h-1.7zM108.3 209.4h1.7v1.7h-1.7zM111.0 218.7h1.7v1.7h-1.7zM111.0 215.5h1.7v1.7h-1.7zM107.8 207.6h1.7v1.7h-1.7zM111.5 211.7h1.7v1.7h-1.7zM111.9 215.4h1.7v1.7h-1.7zM111.6 214.5h1.7v1.7h-1.7zM102.1 214.3h1.7v1.7h-1.7zM113.7 215.2h1.7v1.7h-1.7zM113.0 215.4h1.7v1.7h-1.7zM110.7 212.9h1.7v1.7h-1.7zM111.2 211.1h1.7v1.7h-1.7zM107.8 212.8h1.7v1.7h-1.7zM115.5 210.8h1.7v1.7h-1.7zM109.6 212.8h1.7v1.7h-1.7zM111.0 211.7h1.7v1.7h-1.7zM111.0 212.2h1.7v1.7h-1.7zM110.7 214.2h1.7v1.7h-1.7zM113.2 210.3h1.7v1.7h-1.7zM106.6 216.6h1.7v1.7h-1.7zM111.1 216.8h1.7v1.7h-1.7zM109.2 214.5h1.7v1.7h-1.7zM110.5 215.3h1.7v1.7h-1.7zM116.8 211.5h1.7v1.7h-1.7zM112.0 218.0h1.7v1.7h-1.7zM105.6 213.5h1.7v1.7h-1.7zM111.8 214.0h1.7v1.7h-1.7zM112.4 220.8h1.7v1.7h-1.7zM111.9 210.5h1.7v1.7h-1.7zM105.1 213.2h1.7v1.7h-1.7zM109.7 215.6h1.7v1.7h-1.7zM103.9 217.8h1.7v1.7h-1.7zM110.2 211.1h1.7v1.7h-1.7zM109.6 209.1h1.7v1.7h-1.7zM107.3 209.2h1.7v1.7h-1.7zM103.8 214.0h1.7v1.7h-1.7zM111.0 212.0h1.7v1.7h-1.7zM112.4 216.9h1.7v1.7h-1.7zM103.6 214.7h1.7v1.7h-1.7zM105.7 213.7h1.7v1.7h-1.7zM106.6 214.8h1.7v1.7h-1.7zM109.4 213.6h1.7v1.7h-1.7zM107.7 210.3h1.7v1.7h-1.7zM107.7 214.5h1.7v1.7h-1.7zM111.0 214.0h1.7v1.7h-1.7zM113.6 214.4h1.7v1.7h-1.7zM108.3 210.8h1.7v1.7h-1.7zM111.1 216.5h1.7v1.7h-1.7zM108.3 213.3h1.7v1.7h-1.7zM113.3 211.5h1.7v1.7h-1.7zM103.2 217.9h1.7v1.7h-1.7zM111.3 216.0h1.7v1.7h-1.7zM110.2 213.1h1.7v1.7h-1.7zM95.5 206.8h1.7v1.7h-1.7zM119.1 218.1h1.7v1.7h-1.7zM101.3 206.4h1.7v1.7h-1.7zM93.5 203.4h1.7v1.7h-1.7zM112.5 210.9h1.7v1.7h-1.7zM93.7 199.0h1.7v1.7h-1.7zM97.5 202.8h1.7v1.7h-1.7zM113.3 216.3h1.7v1.7h-1.7zM101.2 206.8h1.7v1.7h-1.7zM119.9 220.1h1.7v1.7h-1.7zM100.3 218.4h1.7v1.7h-1.7zM120.8 220.2h1.7v1.7h-1.7zM87.6 206.8h1.7v1.7h-1.7zM99.8 214.3h1.7v1.7h-1.7zM90.8 199.1h1.7v1.7h-1.7zM103.2 214.3h1.7v1.7h-1.7zM118.9 218.9h1.7v1.7h-1.7zM88.7 200.3h1.7v1.7h-1.7zM95.5 204.7h1.7v1.7h-1.7zM118.1 215.2h1.7v1.7h-1.7zM108.2 217.2h1.7v1.7h-1.7zM111.7 215.8h1.7v1.7h-1.7zM95.3 212.8h1.7v1.7h-1.7zM92.9 203.3h1.7v1.7h-1.7zM98.0 215.7h1.7v1.7h-1.7zM99.2 203.8h1.7v1.7h-1.7zM113.0 217.5h1.7v1.7h-1.7zM105.9 215.5h1.7v1.7h-1.7zM121.3 217.1h1.7v1.7h-1.7zM104.0 205.7h1.7v1.7h-1.7zM102.2 217.9h1.7v1.7h-1.7zM101.2 208.0h1.7v1.7h-1.7zM90.7 202.3h1.7v1.7h-1.7zM96.8 209.3h1.7v1.7h-1.7zM99.6 204.9h1.7v1.7h-1.7zM98.0 213.7h1.7v1.7h-1.7zM94.6 203.1h1.7v1.7h-1.7zM90.1 211.7h1.7v1.7h-1.7zM118.7 222.8h1.7v1.7h-1.7zM93.2 198.9h1.7v1.7h-1.7zM102.3 217.2h1.7v1.7h-1.7zM90.2 208.6h1.7v1.7h-1.7zM108.3 218.3h1.7v1.7h-1.7zM98.0 206.5h1.7v1.7h-1.7zM93.6 203.5h1.7v1.7h-1.7zM105.8 222.3h1.7v1.7h-1.7zM105.9 207.5h1.7v1.7h-1.7zM111.0 213.4h1.7v1.7h-1.7zM96.5 216.0h1.7v1.7h-1.7zM120.1 215.9h1.7v1.7h-1.7zM106.4 214.7h1.7v1.7h-1.7zM93.4 205.2h1.7v1.7h-1.7zM115.4 213.5h1.7v1.7h-1.7zM105.9 207.4h1.7v1.7h-1.7zM118.5 221.6h1.7v1.7h-1.7zM108.4 214.4h1.7v1.7h-1.7zM104.3 220.1h1.7v1.7h-1.7zM96.5 210.5h1.7v1.7h-1.7zM119.1 221.1h1.7v1.7h-1.7zM120.5 218.8h1.7v1.7h-1.7zM90.9 199.7h1.7v1.7h-1.7zM88.4 200.1h1.7v1.7h-1.7zM92.1 203.7h1.7v1.7h-1.7zM94.3 213.5h1.7v1.7h-1.7zM100.6 210.6h1.7v1.7h-1.7zM95.2 205.3h1.7v1.7h-1.7zM118.1 222.8h1.7v1.7h-1.7zM79.5 198.8h1.7v1.7h-1.7zM81.2 201.7h1.7v1.7h-1.7zM79.5 213.8h1.7v1.7h-1.7zM84.1 217.9h1.7v1.7h-1.7zM78.3 220.8h1.7v1.7h-1.7zM89.3 220.8h1.7v1.7h-1.7zM92.8 224.3h1.7v1.7h-1.7zM84.1 189.7h1.7v1.7h-1.7zM117.8 222.0h1.7v1.7h-1.7zM174.2 164.7h1.7v1.7h-1.7zM164.1 174.7h1.7v1.7h-1.7zM167.6 177.6h1.7v1.7h-1.7zM170.5 178.9h1.7v1.7h-1.7zM170.3 180.9h1.7v1.7h-1.7zM169.6 185.5h1.7v1.7h-1.7zM172.3 186.2h1.7v1.7h-1.7zM174.2 187.5h1.7v1.7h-1.7zM175.6 186.9h1.7v1.7h-1.7zM172.9 188.8h1.7v1.7h-1.7zM176.9 190.8h1.7v1.7h-1.7zM178.2 190.5h1.7v1.7h-1.7zM180.8 192.8h1.7v1.7h-1.7zM182.2 192.1h1.7v1.7h-1.7zM182.8 195.4h1.7v1.7h-1.7zM186.1 198.7h1.7v1.7h-1.7zM188.7 201.4h1.7v1.7h-1.7zM190.1 201.1h1.7v1.7h-1.7zM186.8 205.3h1.7v1.7h-1.7zM184.1 197.4h1.7v1.7h-1.7zM179.5 194.8h1.7v1.7h-1.7zM170.9 184.2h1.7v1.7h-1.7zM173.6 185.3h1.7v1.7h-1.7zM183.3 135.8h1.7v1.7h-1.7zM186.0 140.3h1.7v1.7h-1.7zM166.5 166.7h1.7v1.7h-1.7zM202.2 198.5h1.7v1.7h-1.7zM195.3 258.3h1.7v1.7h-1.7zM176.7 246.1h1.7v1.7h-1.7zM180.3 245.8h1.7v1.7h-1.7zM186.8 266.3h1.7v1.7h-1.7zM172.1 242.7h1.7v1.7h-1.7zM54.8 149.8h1.7v1.7h-1.7zM83.5 228.7h1.7v1.7h-1.7zM102.6 223.9h1.7v1.7h-1.7zM69.9 261.6h1.7v1.7h-1.7zM96.5 261.6h1.7v1.7h-1.7zM98.6 265.7h1.7v1.7h-1.7z"/>
<rect x="178.1" y="218.8" width="1.6" height="1.6" fill="#f01010"/>
<rect x="174.6" y="235.3" width="1.6" height="1.6" fill="#f01010"/>
<rect x="170.6" y="239.7" width="1.6" height="1.6" fill="#f01010"/>
<rect x="167.1" y="244.5" width="1.6" height="1.6" fill="#f01010"/>
<rect x="172.6" y="197.5" width="1.6" height="1.6" fill="#f01010"/>
<text x="142.3" y="133.2" font-family="Liberation Serif, serif" font-size="8.7" text-anchor="middle" fill="#1a1a1a" textLength="21.4" lengthAdjust="spacingAndGlyphs">h835</text>
<text x="49.9" y="137.8" font-family="Liberation Serif, serif" font-size="5.5" text-anchor="end" fill="#333">180</text>
<path d="M51.6 136.0H53.1" stroke="#666" stroke-width="0.3"/>
<text x="49.9" y="154.3" font-family="Liberation Serif, serif" font-size="5.5" text-anchor="end" fill="#333">135</text>
<path d="M51.6 152.5H53.1" stroke="#666" stroke-width="0.3"/>
<text x="49.9" y="170.8" font-family="Liberation Serif, serif" font-size="5.5" text-anchor="end" fill="#333">90</text>
<path d="M51.6 169.0H53.1" stroke="#666" stroke-width="0.3"/>
<text x="49.9" y="187.3" font-family="Liberation Serif, serif" font-size="5.5" text-anchor="end" fill="#333">45</text>
<path d="M51.6 185.5H53.1" stroke="#666" stroke-width="0.3"/>
<text x="49.9" y="203.8" font-family="Liberation Serif, serif" font-size="5.5" text-anchor="end" fill="#333">0</text>
<path d="M51.6 202.0H53.1" stroke="#666" stroke-width="0.3"/>
<text x="49.9" y="220.3" font-family="Liberation Serif, serif" font-size="5.5" text-anchor="end" fill="#333">-45</text>
<path d="M51.6 218.5H53.1" stroke="#666" stroke-width="0.3"/>
<text x="49.9" y="236.8" font-family="Liberation Serif, serif" font-size="5.5" text-anchor="end" fill="#333">-90</text>
<path d="M51.6 235.0H53.1" stroke="#666" stroke-width="0.3"/>
<text x="49.9" y="253.3" font-family="Liberation Serif, serif" font-size="5.5" text-anchor="end" fill="#333">-135</text>
<path d="M51.6 251.5H53.1" stroke="#666" stroke-width="0.3"/>
<text x="53.1" y="273.9" font-family="Liberation Serif, serif" font-size="5.5" text-anchor="middle" fill="#333">-180</text>
<text x="75.8" y="273.9" font-family="Liberation Serif, serif" font-size="5.5" text-anchor="middle" fill="#333">-135</text>
<text x="98.4" y="273.9" font-family="Liberation Serif, serif" font-size="5.5" text-anchor="middle" fill="#333">-90</text>
<text x="121.0" y="273.9" font-family="Liberation Serif, serif" font-size="5.5" text-anchor="middle" fill="#333">-45</text>
<text x="143.7" y="273.9" font-family="Liberation Serif, serif" font-size="5.5" text-anchor="middle" fill="#333">0</text>
<text x="166.3" y="273.9" font-family="Liberation Serif, serif" font-size="5.5" text-anchor="middle" fill="#333">45</text>
<text x="189.0" y="273.9" font-family="Liberation Serif, serif" font-size="5.5" text-anchor="middle" fill="#333">90</text>
<text x="211.6" y="273.9" font-family="Liberation Serif, serif" font-size="5.5" text-anchor="middle" fill="#333">135</text>
<text x="234.3" y="273.9" font-family="Liberation Serif, serif" font-size="5.5" text-anchor="middle" fill="#333">180</text>
<text x="143.4" y="280.5" font-family="Liberation Serif, serif" font-size="6.2" text-anchor="middle" fill="#333">Phi (degrees)</text>
<text transform="translate(34.4 204) rotate(-90)" font-family="Liberation Serif, serif" font-size="5.8" text-anchor="middle" fill="#333">Psi (degrees)</text>
<text x="63.2" y="140.9" font-family="Liberation Serif, serif" font-size="4" text-anchor="middle" fill="#3a2a10">B</text>
<text x="57.6" y="155.2" font-family="Liberation Serif, serif" font-size="4" text-anchor="middle" fill="#3a2a10">b</text>
<text x="63.7" y="192.6" font-family="Liberation Serif, serif" font-size="4" text-anchor="middle" fill="#3a2a10">a</text>
<text x="89.3" y="199.9" font-family="Liberation Serif, serif" font-size="4" text-anchor="middle" fill="#3a2a10">A</text>
<text x="136.7" y="155.5" font-family="Liberation Serif, serif" font-size="4" text-anchor="middle" fill="#3a2a10">~b</text>
<text x="211.6" y="140.9" font-family="Liberation Serif, serif" font-size="4" text-anchor="middle" fill="#3a2a10">~b</text>
<text x="229.3" y="144.2" font-family="Liberation Serif, serif" font-size="4" text-anchor="middle" fill="#3a2a10">b</text>
<text x="166.3" y="162.9" font-family="Liberation Serif, serif" font-size="4" text-anchor="middle" fill="#3a2a10">~l</text>
<text x="161.3" y="173.9" font-family="Liberation Serif, serif" font-size="4" text-anchor="middle" fill="#3a2a10">l</text>
<text x="136.7" y="209.1" font-family="Liberation Serif, serif" font-size="4" text-anchor="middle" fill="#3a2a10">~a</text>
<text x="161.3" y="251.2" font-family="Liberation Serif, serif" font-size="4" text-anchor="middle" fill="#3a2a10">~p</text>
<text x="170.4" y="258.9" font-family="Liberation Serif, serif" font-size="4" text-anchor="middle" fill="#3a2a10">p</text>
<text x="221.7" y="262.2" font-family="Liberation Serif, serif" font-size="4" text-anchor="middle" fill="#3a2a10">~b</text>
<text x="63.2" y="258.6" font-family="Liberation Serif, serif" font-size="4" text-anchor="middle" fill="#3a2a10">b</text>
<text x="56.6" y="250.9" font-family="Liberation Serif, serif" font-size="4" text-anchor="middle" fill="#3a2a10">~b</text>
<text x="176.6" y="218.4" font-family="Liberation Serif, serif" font-size="3.6" text-anchor="middle" fill="#f01010">PRO 315 (A)</text>
<text x="176.0" y="235.5" font-family="Liberation Serif, serif" font-size="3.6" text-anchor="middle" fill="#f01010">ALA 338 (A)</text>
<text x="170.8" y="240.5" font-family="Liberation Serif, serif" font-size="3.6" text-anchor="middle" fill="#f01010">LYS 31 (A)</text>
<text x="166.7" y="246.4" font-family="Liberation Serif, serif" font-size="3.6" text-anchor="middle" fill="#f01010">HIS 141 (A)</text>
<text x="170.5" y="197.3" font-family="Liberation Serif, serif" font-size="3.6" text-anchor="middle" fill="#f01010">ASP 267 (A)</text>
</g>
<g id="panelD">
<rect x="358.6" y="132.0" width="183.5" height="137.8" fill="#fff"/>
<polygon fill="#aac6e1" points="376.7,163.7 377.9,163.7 377.9,164.6 379.1,164.6 379.1,163.6 380.3,163.6 380.3,163.1 381.5,163.1 381.5,165.7 382.7,165.7 382.7,164.3 384.0,164.3 384.0,165.1 385.2,165.1 385.2,168.4 386.4,168.4 386.4,170.1 387.6,170.1 387.6,169.1 388.8,169.1 388.8,167.5 390.0,167.5 390.0,169.4 391.2,169.4 391.2,168.5 392.5,168.5 392.5,168.2 393.7,168.2 393.7,170.4 394.9,170.4 394.9,171.3 396.1,171.3 396.1,171.7 397.3,171.7 397.3,172.1 398.5,172.1 398.5,174.8 399.8,174.8 399.8,174.7 401.0,174.7 401.0,173.0 402.2,173.0 402.2,173.5 403.4,173.5 403.4,176.0 404.6,176.0 404.6,176.9 405.8,176.9 405.8,177.9 407.1,177.9 407.1,174.5 408.3,174.5 408.3,179.0 409.5,179.0 409.5,179.9 410.7,179.9 410.7,176.7 411.9,176.7 411.9,180.2 413.1,180.2 413.1,177.9 414.3,177.9 414.3,182.2 415.6,182.2 415.6,179.3 416.8,179.3 416.8,179.8 418.0,179.8 418.0,183.3 419.2,183.3 419.2,183.0 420.4,183.0 420.4,182.0 421.6,182.0 421.6,182.4 422.9,182.4 422.9,182.9 424.1,182.9 424.1,183.9 425.3,183.9 425.3,187.7 426.5,187.7 426.5,185.5 427.7,185.5 427.7,185.8 428.9,185.8 428.9,189.1 430.2,189.1 430.2,186.5 431.4,186.5 431.4,187.6 432.6,187.6 432.6,190.5 433.8,190.5 433.8,189.0 435.0,189.0 435.0,188.7 436.2,188.7 436.2,189.9 437.4,189.9 437.4,191.0 438.7,191.0 438.7,194.0 439.9,194.0 439.9,193.0 441.1,193.0 441.1,191.9 442.3,191.9 442.3,195.5 443.5,195.5 443.5,193.3 444.7,193.3 444.7,195.9 446.0,195.9 446.0,194.2 447.2,194.2 447.2,197.6 448.4,197.6 448.4,196.3 449.6,196.3 449.6,195.2 450.8,195.2 450.8,196.6 452.0,196.6 452.0,197.3 453.3,197.3 453.3,199.2 454.5,199.2 454.5,198.0 455.7,198.0 455.7,198.2 456.9,198.2 456.9,200.8 458.1,200.8 458.1,201.6 459.3,201.6 459.3,203.4 460.5,203.4 460.5,200.2 461.8,200.2 461.8,202.5 463.0,202.5 463.0,202.0 464.2,202.0 464.2,204.2 465.4,204.2 465.4,203.9 466.6,203.9 466.6,207.0 467.8,207.0 467.8,206.4 469.1,206.4 469.1,204.6 470.3,204.6 470.3,204.5 471.5,204.5 471.5,207.7 472.7,207.7 472.7,205.3 473.9,205.3 473.9,207.6 475.1,207.6 475.1,207.3 476.4,207.3 476.4,206.7 477.6,206.7 477.6,209.8 478.8,209.8 478.8,210.2 480.0,210.2 480.0,210.8 481.2,210.8 481.2,209.4 482.4,209.4 482.4,212.1 483.6,212.1 483.6,210.4 484.9,210.4 484.9,212.7 486.1,212.7 486.1,212.1 487.3,212.1 487.3,212.3 488.5,212.3 488.5,210.6 489.7,210.6 489.7,214.8 490.9,214.8 490.9,214.1 492.2,214.1 492.2,214.5 493.4,214.5 493.4,213.6 494.6,213.6 494.6,212.5 495.8,212.5 495.8,212.7 497.0,212.7 497.0,215.0 498.2,215.0 498.2,216.3 499.5,216.3 499.5,216.3 500.7,216.3 500.7,215.2 501.9,215.2 501.9,215.8 503.1,215.8 503.1,215.8 504.3,215.8 504.3,219.1 505.5,219.1 505.5,217.5 506.7,217.5 506.7,217.4 508.0,217.4 508.0,217.4 509.2,217.4 509.2,220.5 510.4,220.5 510.4,221.4 511.6,221.4 511.6,220.7 512.8,220.7 512.8,219.4 514.0,219.4 514.0,222.9 515.3,222.9 515.3,223.0 516.5,223.0 516.5,221.7 517.7,221.7 517.7,223.0 518.9,223.0 518.9,222.8 520.1,222.8 520.1,225.7 521.3,225.7 521.3,225.5 522.6,225.5 522.6,229.4 523.8,229.4 523.8,226.7 525.0,226.7 525.0,231.1 526.2,231.1 526.2,234.1 525.0,234.1 525.0,235.0 523.8,235.0 523.8,237.8 522.6,237.8 522.6,240.4 521.3,240.4 521.3,240.0 520.1,240.0 520.1,240.6 518.9,240.6 518.9,240.7 517.7,240.7 517.7,240.7 516.5,240.7 516.5,244.3 515.3,244.3 515.3,244.3 514.0,244.3 514.0,243.2 512.8,243.2 512.8,242.9 511.6,242.9 511.6,243.6 510.4,243.6 510.4,246.2 509.2,246.2 509.2,244.6 508.0,244.6 508.0,245.9 506.7,245.9 506.7,246.8 505.5,246.8 505.5,245.9 504.3,245.9 504.3,243.8 503.1,243.8 503.1,246.0 501.9,246.0 501.9,243.2 500.7,243.2 500.7,247.0 499.5,247.0 499.5,245.2 498.2,245.2 498.2,244.1 497.0,244.1 497.0,245.6 495.8,245.6 495.8,246.3 494.6,246.3 494.6,246.6 493.4,246.6 493.4,245.5 492.2,245.5 492.2,244.7 490.9,244.7 490.9,246.8 489.7,246.8 489.7,245.8 488.5,245.8 488.5,245.6 487.3,245.6 487.3,244.5 486.1,244.5 486.1,245.1 484.9,245.1 484.9,245.9 483.6,245.9 483.6,246.1 482.4,246.1 482.4,245.2 481.2,245.2 481.2,246.0 480.0,246.0 480.0,245.0 478.8,245.0 478.8,245.6 477.6,245.6 477.6,244.0 476.4,244.0 476.4,245.8 475.1,245.8 475.1,244.5 473.9,244.5 473.9,243.9 472.7,243.9 472.7,245.2 471.5,245.2 471.5,244.8 470.3,244.8 470.3,241.0 469.1,241.0 469.1,243.1 467.8,243.1 467.8,243.2 466.6,243.2 466.6,244.0 465.4,244.0 465.4,240.6 464.2,240.6 464.2,241.4 463.0,241.4 463.0,239.9 461.8,239.9 461.8,240.6 460.5,240.6 460.5,240.2 459.3,240.2 459.3,240.3 458.1,240.3 458.1,242.5 456.9,242.5 456.9,239.7 455.7,239.7 455.7,241.5 454.5,241.5 454.5,239.6 453.3,239.6 453.3,241.6 452.0,241.6 452.0,240.9 450.8,240.9 450.8,241.7 449.6,241.7 449.6,237.8 448.4,237.8 448.4,239.6 447.2,239.6 447.2,240.7 446.0,240.7 446.0,240.4 444.7,240.4 444.7,236.9 443.5,236.9 443.5,239.2 442.3,239.2 442.3,236.1 441.1,236.1 441.1,238.8 439.9,238.8 439.9,236.9 438.7,236.9 438.7,236.4 437.4,236.4 437.4,236.7 436.2,236.7 436.2,236.3 435.0,236.3 435.0,233.9 433.8,233.9 433.8,234.7 432.6,234.7 432.6,234.0 431.4,234.0 431.4,236.7 430.2,236.7 430.2,234.9 428.9,234.9 428.9,233.4 427.7,233.4 427.7,235.1 426.5,235.1 426.5,234.4 425.3,234.4 425.3,231.7 424.1,231.7 424.1,232.0 422.9,232.0 422.9,232.5 421.6,232.5 421.6,232.5 420.4,232.5 420.4,230.9 419.2,230.9 419.2,229.4 418.0,229.4 418.0,228.5 416.8,228.5 416.8,228.8 415.6,228.8 415.6,230.4 414.3,230.4 414.3,228.1 413.1,228.1 413.1,227.2 411.9,227.2 411.9,228.2 410.7,228.2 410.7,226.6 409.5,226.6 409.5,226.4 408.3,226.4 408.3,224.7 407.1,224.7 407.1,226.8 405.8,226.8 405.8,224.3 404.6,224.3 404.6,223.9 403.4,223.9 403.4,222.2 402.2,222.2 402.2,222.4 401.0,222.4 401.0,224.0 399.8,224.0 399.8,224.8 398.5,224.8 398.5,221.4 397.3,221.4 397.3,222.6 396.1,222.6 396.1,222.1 394.9,222.1 394.9,222.6 393.7,222.6 393.7,220.8 392.5,220.8 392.5,219.9 391.2,219.9 391.2,219.1 390.0,219.1 390.0,219.0 388.8,219.0 388.8,221.5 387.6,221.5 387.6,223.0 386.4,223.0 386.4,219.2 385.2,219.2 385.2,222.4 384.0,222.4 384.0,220.4 382.7,220.4 382.7,222.4 381.5,222.4 381.5,221.3 380.3,221.3 380.3,218.2 379.1,218.2 379.1,210.9 377.9,210.9 377.9,204.4 376.7,204.4"/>
<path fill="#aac6e1" d="M482.2 203.6h1.7v1.7h-1.7zM444.1 183.9h1.7v1.7h-1.7zM411.4 170.0h1.7v1.7h-1.7zM470.3 203.7h1.7v1.7h-1.7zM519.6 240.0h1.7v1.7h-1.7zM402.6 167.3h1.7v1.7h-1.7zM483.0 209.2h1.7v1.7h-1.7zM453.9 193.0h1.7v1.7h-1.7zM434.9 236.5h1.7v1.7h-1.7zM515.8 242.0h1.7v1.7h-1.7zM395.3 161.3h1.7v1.7h-1.7zM461.2 245.3h1.7v1.7h-1.7zM495.4 248.3h1.7v1.7h-1.7zM406.6 226.3h1.7v1.7h-1.7zM498.6 214.1h1.7v1.7h-1.7zM523.0 238.1h1.7v1.7h-1.7zM456.4 242.9h1.7v1.7h-1.7zM504.2 206.9h1.7v1.7h-1.7zM458.4 241.4h1.7v1.7h-1.7zM497.2 214.3h1.7v1.7h-1.7zM401.8 155.5h1.7v1.7h-1.7zM484.4 245.6h1.7v1.7h-1.7zM479.3 250.1h1.7v1.7h-1.7zM388.7 167.4h1.7v1.7h-1.7zM419.4 232.9h1.7v1.7h-1.7zM502.4 211.4h1.7v1.7h-1.7zM433.0 236.5h1.7v1.7h-1.7zM503.5 245.6h1.7v1.7h-1.7zM454.5 196.5h1.7v1.7h-1.7zM466.6 197.2h1.7v1.7h-1.7zM453.2 195.7h1.7v1.7h-1.7zM479.5 202.6h1.7v1.7h-1.7zM437.9 238.2h1.7v1.7h-1.7zM446.8 193.0h1.7v1.7h-1.7zM498.2 246.8h1.7v1.7h-1.7zM404.5 174.0h1.7v1.7h-1.7zM395.2 223.0h1.7v1.7h-1.7zM409.9 227.3h1.7v1.7h-1.7zM424.1 182.5h1.7v1.7h-1.7zM394.2 168.3h1.7v1.7h-1.7zM405.5 169.8h1.7v1.7h-1.7zM455.2 196.8h1.7v1.7h-1.7zM470.6 196.3h1.7v1.7h-1.7zM504.4 214.9h1.7v1.7h-1.7zM497.4 245.5h1.7v1.7h-1.7zM514.3 217.1h1.7v1.7h-1.7zM509.0 218.0h1.7v1.7h-1.7zM390.4 224.6h1.7v1.7h-1.7zM439.1 238.5h1.7v1.7h-1.7zM478.6 204.8h1.7v1.7h-1.7zM478.2 244.8h1.7v1.7h-1.7zM451.7 239.9h1.7v1.7h-1.7zM451.3 240.0h1.7v1.7h-1.7zM391.7 167.0h1.7v1.7h-1.7zM453.1 195.8h1.7v1.7h-1.7zM501.9 245.9h1.7v1.7h-1.7zM514.9 210.1h1.7v1.7h-1.7zM490.6 207.6h1.7v1.7h-1.7zM453.1 197.3h1.7v1.7h-1.7zM502.5 215.6h1.7v1.7h-1.7zM486.8 210.0h1.7v1.7h-1.7zM378.1 218.0h1.7v1.7h-1.7zM496.1 247.0h1.7v1.7h-1.7zM436.5 183.9h1.7v1.7h-1.7zM523.3 236.3h1.7v1.7h-1.7zM487.5 250.4h1.7v1.7h-1.7zM498.1 206.5h1.7v1.7h-1.7zM491.0 247.9h1.7v1.7h-1.7zM436.7 238.2h1.7v1.7h-1.7zM446.2 192.5h1.7v1.7h-1.7zM471.7 204.8h1.7v1.7h-1.7zM426.5 171.2h1.7v1.7h-1.7zM455.8 190.7h1.7v1.7h-1.7zM490.1 244.6h1.7v1.7h-1.7zM379.2 162.9h1.7v1.7h-1.7zM383.4 161.2h1.7v1.7h-1.7zM390.6 162.4h1.7v1.7h-1.7zM521.0 222.1h1.7v1.7h-1.7zM471.6 245.9h1.7v1.7h-1.7zM489.8 208.9h1.7v1.7h-1.7zM399.8 169.2h1.7v1.7h-1.7zM384.6 223.2h1.7v1.7h-1.7zM438.9 186.9h1.7v1.7h-1.7zM474.1 204.2h1.7v1.7h-1.7zM483.4 203.8h1.7v1.7h-1.7zM489.1 211.4h1.7v1.7h-1.7zM488.1 195.9h1.7v1.7h-1.7zM440.3 191.2h1.7v1.7h-1.7zM412.4 169.7h1.7v1.7h-1.7zM522.7 238.1h1.7v1.7h-1.7zM466.4 199.5h1.7v1.7h-1.7zM383.6 149.6h1.7v1.7h-1.7zM476.0 207.1h1.7v1.7h-1.7zM492.6 206.3h1.7v1.7h-1.7zM518.8 239.8h1.7v1.7h-1.7zM509.8 244.6h1.7v1.7h-1.7zM469.6 204.5h1.7v1.7h-1.7zM464.6 194.3h1.7v1.7h-1.7zM404.3 161.2h1.7v1.7h-1.7zM381.7 163.1h1.7v1.7h-1.7zM439.6 182.9h1.7v1.7h-1.7zM477.3 204.3h1.7v1.7h-1.7zM431.8 187.0h1.7v1.7h-1.7zM501.7 201.4h1.7v1.7h-1.7zM469.4 243.1h1.7v1.7h-1.7zM414.5 231.9h1.7v1.7h-1.7zM431.2 182.7h1.7v1.7h-1.7zM487.8 244.7h1.7v1.7h-1.7zM440.0 183.1h1.7v1.7h-1.7zM460.5 194.4h1.7v1.7h-1.7zM420.7 232.8h1.7v1.7h-1.7zM475.2 205.7h1.7v1.7h-1.7zM484.6 244.6h1.7v1.7h-1.7zM429.5 235.5h1.7v1.7h-1.7zM430.8 185.9h1.7v1.7h-1.7zM516.9 244.3h1.7v1.7h-1.7zM441.5 238.0h1.7v1.7h-1.7zM435.8 237.9h1.7v1.7h-1.7zM510.1 216.0h1.7v1.7h-1.7zM435.2 170.9h1.7v1.7h-1.7zM495.4 200.1h1.7v1.7h-1.7zM508.0 207.4h1.7v1.7h-1.7zM457.5 191.5h1.7v1.7h-1.7zM385.4 165.1h1.7v1.7h-1.7zM388.4 147.5h1.7v1.7h-1.7zM397.4 227.7h1.7v1.7h-1.7zM473.2 205.1h1.7v1.7h-1.7zM490.6 204.0h1.7v1.7h-1.7zM521.1 219.7h1.7v1.7h-1.7zM482.1 244.1h1.7v1.7h-1.7zM437.4 238.8h1.7v1.7h-1.7zM496.8 249.1h1.7v1.7h-1.7zM509.2 245.6h1.7v1.7h-1.7zM482.4 246.5h1.7v1.7h-1.7zM439.1 185.6h1.7v1.7h-1.7zM432.2 180.5h1.7v1.7h-1.7zM439.6 189.8h1.7v1.7h-1.7zM393.0 169.3h1.7v1.7h-1.7zM402.7 166.1h1.7v1.7h-1.7zM381.3 152.8h1.7v1.7h-1.7zM411.1 229.1h1.7v1.7h-1.7zM403.6 151.2h1.7v1.7h-1.7zM422.6 180.9h1.7v1.7h-1.7zM509.0 246.4h1.7v1.7h-1.7zM427.1 179.3h1.7v1.7h-1.7zM383.3 221.3h1.7v1.7h-1.7zM496.1 208.1h1.7v1.7h-1.7zM524.4 227.8h1.7v1.7h-1.7zM377.4 154.5h1.7v1.7h-1.7zM466.8 196.2h1.7v1.7h-1.7zM414.7 233.0h1.7v1.7h-1.7zM524.8 228.5h1.7v1.7h-1.7zM398.4 227.3h1.7v1.7h-1.7zM502.8 244.6h1.7v1.7h-1.7zM388.2 167.4h1.7v1.7h-1.7zM446.1 239.6h1.7v1.7h-1.7zM463.8 243.1h1.7v1.7h-1.7zM438.4 240.9h1.7v1.7h-1.7zM389.5 221.2h1.7v1.7h-1.7zM454.7 191.5h1.7v1.7h-1.7zM422.5 179.2h1.7v1.7h-1.7zM483.1 207.9h1.7v1.7h-1.7zM391.7 153.7h1.7v1.7h-1.7zM473.9 203.8h1.7v1.7h-1.7zM482.4 193.0h1.7v1.7h-1.7zM495.8 211.7h1.7v1.7h-1.7zM419.4 177.2h1.7v1.7h-1.7zM434.7 188.4h1.7v1.7h-1.7zM405.8 228.2h1.7v1.7h-1.7zM460.3 246.6h1.7v1.7h-1.7zM425.6 234.0h1.7v1.7h-1.7zM390.0 166.7h1.7v1.7h-1.7zM402.8 162.0h1.7v1.7h-1.7zM399.4 165.5h1.7v1.7h-1.7zM386.7 223.2h1.7v1.7h-1.7zM472.9 244.3h1.7v1.7h-1.7zM499.0 205.7h1.7v1.7h-1.7zM480.8 246.2h1.7v1.7h-1.7zM494.3 212.7h1.7v1.7h-1.7zM427.2 171.0h1.7v1.7h-1.7zM452.2 241.4h1.7v1.7h-1.7zM399.6 226.0h1.7v1.7h-1.7zM511.3 206.5h1.7v1.7h-1.7zM523.9 223.7h1.7v1.7h-1.7zM501.2 210.4h1.7v1.7h-1.7zM412.5 175.9h1.7v1.7h-1.7zM425.2 234.6h1.7v1.7h-1.7zM394.4 223.3h1.7v1.7h-1.7zM396.2 224.9h1.7v1.7h-1.7zM459.9 199.2h1.7v1.7h-1.7zM524.7 236.0h1.7v1.7h-1.7zM499.6 213.6h1.7v1.7h-1.7zM412.0 176.6h1.7v1.7h-1.7zM387.3 139.8h1.7v1.7h-1.7zM516.8 219.6h1.7v1.7h-1.7zM433.1 180.4h1.7v1.7h-1.7zM378.3 159.3h1.7v1.7h-1.7zM461.3 201.2h1.7v1.7h-1.7zM415.4 158.9h1.7v1.7h-1.7zM397.5 225.3h1.7v1.7h-1.7zM465.9 196.8h1.7v1.7h-1.7zM489.6 246.5h1.7v1.7h-1.7zM448.7 241.9h1.7v1.7h-1.7zM437.2 180.6h1.7v1.7h-1.7zM511.7 214.6h1.7v1.7h-1.7zM423.9 183.4h1.7v1.7h-1.7zM510.9 246.6h1.7v1.7h-1.7zM421.5 173.4h1.7v1.7h-1.7zM442.9 191.8h1.7v1.7h-1.7zM454.8 197.7h1.7v1.7h-1.7zM435.2 177.7h1.7v1.7h-1.7zM475.7 245.6h1.7v1.7h-1.7zM439.0 237.4h1.7v1.7h-1.7zM460.9 245.4h1.7v1.7h-1.7zM390.6 222.6h1.7v1.7h-1.7zM518.5 219.1h1.7v1.7h-1.7zM420.7 170.9h1.7v1.7h-1.7zM435.4 185.0h1.7v1.7h-1.7zM382.7 161.3h1.7v1.7h-1.7zM516.0 242.6h1.7v1.7h-1.7zM446.7 191.3h1.7v1.7h-1.7zM405.1 230.6h1.7v1.7h-1.7zM429.0 181.1h1.7v1.7h-1.7zM406.1 149.9h1.7v1.7h-1.7zM383.3 165.1h1.7v1.7h-1.7zM506.3 246.8h1.7v1.7h-1.7zM396.0 224.2h1.7v1.7h-1.7zM387.7 165.2h1.7v1.7h-1.7zM482.4 208.1h1.7v1.7h-1.7zM494.4 210.2h1.7v1.7h-1.7zM508.5 217.8h1.7v1.7h-1.7zM475.9 203.4h1.7v1.7h-1.7zM389.3 223.4h1.7v1.7h-1.7zM455.5 196.5h1.7v1.7h-1.7zM418.5 180.9h1.7v1.7h-1.7zM489.2 209.8h1.7v1.7h-1.7zM458.1 190.4h1.7v1.7h-1.7zM488.5 202.7h1.7v1.7h-1.7zM450.8 188.9h1.7v1.7h-1.7zM474.6 244.4h1.7v1.7h-1.7zM453.4 193.0h1.7v1.7h-1.7zM518.6 217.3h1.7v1.7h-1.7zM400.6 172.4h1.7v1.7h-1.7zM493.9 247.4h1.7v1.7h-1.7zM411.2 176.7h1.7v1.7h-1.7zM381.1 156.6h1.7v1.7h-1.7zM461.7 241.9h1.7v1.7h-1.7zM378.5 159.6h1.7v1.7h-1.7zM442.1 192.4h1.7v1.7h-1.7zM461.2 199.6h1.7v1.7h-1.7zM411.5 177.6h1.7v1.7h-1.7zM469.0 204.0h1.7v1.7h-1.7zM464.2 201.6h1.7v1.7h-1.7zM399.8 224.3h1.7v1.7h-1.7zM500.5 247.1h1.7v1.7h-1.7zM430.5 185.4h1.7v1.7h-1.7zM382.1 148.4h1.7v1.7h-1.7zM487.6 196.9h1.7v1.7h-1.7zM509.4 215.5h1.7v1.7h-1.7zM387.3 164.4h1.7v1.7h-1.7zM490.4 244.8h1.7v1.7h-1.7zM458.6 196.1h1.7v1.7h-1.7zM515.7 214.4h1.7v1.7h-1.7zM381.8 150.2h1.7v1.7h-1.7zM384.6 162.5h1.7v1.7h-1.7zM508.8 209.2h1.7v1.7h-1.7zM502.3 215.3h1.7v1.7h-1.7zM403.4 162.7h1.7v1.7h-1.7zM408.0 174.1h1.7v1.7h-1.7zM477.7 246.1h1.7v1.7h-1.7zM406.5 167.4h1.7v1.7h-1.7zM417.0 168.3h1.7v1.7h-1.7zM434.8 236.0h1.7v1.7h-1.7zM430.0 182.8h1.7v1.7h-1.7zM429.8 235.1h1.7v1.7h-1.7zM378.9 149.9h1.7v1.7h-1.7zM388.3 222.4h1.7v1.7h-1.7zM453.7 189.1h1.7v1.7h-1.7zM411.6 164.5h1.7v1.7h-1.7zM439.4 169.9h1.7v1.7h-1.7zM414.9 230.1h1.7v1.7h-1.7zM406.5 172.8h1.7v1.7h-1.7zM436.6 187.7h1.7v1.7h-1.7zM427.6 178.5h1.7v1.7h-1.7zM470.4 200.9h1.7v1.7h-1.7zM476.4 250.0h1.7v1.7h-1.7zM408.3 229.5h1.7v1.7h-1.7zM506.1 206.5h1.7v1.7h-1.7zM389.3 166.7h1.7v1.7h-1.7zM425.1 183.7h1.7v1.7h-1.7zM399.6 168.9h1.7v1.7h-1.7zM411.8 177.8h1.7v1.7h-1.7zM439.2 183.5h1.7v1.7h-1.7zM480.9 205.3h1.7v1.7h-1.7zM430.5 186.0h1.7v1.7h-1.7zM463.7 201.9h1.7v1.7h-1.7zM413.8 172.1h1.7v1.7h-1.7zM415.1 163.0h1.7v1.7h-1.7zM468.1 244.5h1.7v1.7h-1.7zM517.2 243.5h1.7v1.7h-1.7zM470.0 201.3h1.7v1.7h-1.7zM500.3 246.0h1.7v1.7h-1.7zM433.1 236.5h1.7v1.7h-1.7zM451.9 196.8h1.7v1.7h-1.7zM522.4 225.7h1.7v1.7h-1.7zM411.0 173.9h1.7v1.7h-1.7zM434.9 181.0h1.7v1.7h-1.7zM469.5 205.2h1.7v1.7h-1.7zM521.2 220.0h1.7v1.7h-1.7zM483.3 248.6h1.7v1.7h-1.7zM478.8 244.3h1.7v1.7h-1.7zM469.1 202.7h1.7v1.7h-1.7zM431.3 188.0h1.7v1.7h-1.7zM413.2 161.1h1.7v1.7h-1.7zM394.7 167.9h1.7v1.7h-1.7zM392.7 168.4h1.7v1.7h-1.7zM447.9 183.2h1.7v1.7h-1.7zM452.0 243.7h1.7v1.7h-1.7zM434.7 235.5h1.7v1.7h-1.7zM424.9 175.3h1.7v1.7h-1.7zM502.3 247.1h1.7v1.7h-1.7zM481.9 207.3h1.7v1.7h-1.7zM496.1 208.7h1.7v1.7h-1.7zM403.5 167.9h1.7v1.7h-1.7zM517.0 243.6h1.7v1.7h-1.7zM438.7 184.6h1.7v1.7h-1.7zM515.9 245.3h1.7v1.7h-1.7zM393.6 167.0h1.7v1.7h-1.7zM485.5 246.1h1.7v1.7h-1.7zM379.8 159.8h1.7v1.7h-1.7zM431.8 184.7h1.7v1.7h-1.7zM434.6 178.6h1.7v1.7h-1.7zM523.0 225.4h1.7v1.7h-1.7zM397.9 145.1h1.7v1.7h-1.7zM413.5 160.2h1.7v1.7h-1.7zM397.4 167.9h1.7v1.7h-1.7zM410.0 168.9h1.7v1.7h-1.7zM509.8 212.4h1.7v1.7h-1.7zM448.4 240.6h1.7v1.7h-1.7zM448.5 184.3h1.7v1.7h-1.7zM435.2 181.5h1.7v1.7h-1.7zM417.4 231.4h1.7v1.7h-1.7zM505.6 249.3h1.7v1.7h-1.7zM484.6 204.0h1.7v1.7h-1.7zM393.6 163.5h1.7v1.7h-1.7zM453.0 190.2h1.7v1.7h-1.7zM519.8 215.7h1.7v1.7h-1.7zM486.2 209.3h1.7v1.7h-1.7zM500.0 245.8h1.7v1.7h-1.7zM518.4 223.1h1.7v1.7h-1.7zM413.4 232.1h1.7v1.7h-1.7zM409.9 176.3h1.7v1.7h-1.7zM474.4 245.5h1.7v1.7h-1.7zM428.9 180.4h1.7v1.7h-1.7zM424.1 179.4h1.7v1.7h-1.7zM487.3 204.2h1.7v1.7h-1.7zM402.4 170.3h1.7v1.7h-1.7zM377.2 157.5h1.7v1.7h-1.7zM424.1 180.6h1.7v1.7h-1.7zM424.0 232.8h1.7v1.7h-1.7zM392.1 226.4h1.7v1.7h-1.7zM408.8 170.2h1.7v1.7h-1.7zM402.5 167.3h1.7v1.7h-1.7zM403.3 160.9h1.7v1.7h-1.7zM398.0 165.6h1.7v1.7h-1.7zM468.3 244.9h1.7v1.7h-1.7zM504.3 201.9h1.7v1.7h-1.7zM479.3 208.4h1.7v1.7h-1.7zM438.7 190.5h1.7v1.7h-1.7zM453.1 190.0h1.7v1.7h-1.7zM442.9 176.4h1.7v1.7h-1.7zM524.8 238.2h1.7v1.7h-1.7zM422.8 234.6h1.7v1.7h-1.7zM506.0 216.8h1.7v1.7h-1.7zM449.5 191.7h1.7v1.7h-1.7zM500.3 247.8h1.7v1.7h-1.7zM452.6 244.7h1.7v1.7h-1.7zM482.6 205.7h1.7v1.7h-1.7zM444.0 191.2h1.7v1.7h-1.7zM472.4 204.0h1.7v1.7h-1.7zM493.9 212.8h1.7v1.7h-1.7zM491.5 203.7h1.7v1.7h-1.7zM495.4 205.2h1.7v1.7h-1.7zM505.6 245.5h1.7v1.7h-1.7zM393.4 160.8h1.7v1.7h-1.7zM511.1 213.4h1.7v1.7h-1.7zM406.8 154.7h1.7v1.7h-1.7zM440.5 185.4h1.7v1.7h-1.7zM423.1 182.6h1.7v1.7h-1.7zM402.9 165.9h1.7v1.7h-1.7zM445.8 184.0h1.7v1.7h-1.7zM429.5 177.6h1.7v1.7h-1.7zM479.6 245.1h1.7v1.7h-1.7zM437.1 186.7h1.7v1.7h-1.7zM439.5 239.2h1.7v1.7h-1.7zM451.8 241.3h1.7v1.7h-1.7zM427.8 233.9h1.7v1.7h-1.7zM418.6 234.0h1.7v1.7h-1.7zM418.8 231.9h1.7v1.7h-1.7zM515.9 216.9h1.7v1.7h-1.7zM466.0 198.2h1.7v1.7h-1.7zM442.0 238.5h1.7v1.7h-1.7zM419.8 231.9h1.7v1.7h-1.7zM437.6 187.0h1.7v1.7h-1.7zM413.6 173.1h1.7v1.7h-1.7zM464.5 187.9h1.7v1.7h-1.7zM389.1 161.4h1.7v1.7h-1.7zM427.4 236.4h1.7v1.7h-1.7zM518.3 219.5h1.7v1.7h-1.7zM445.6 189.6h1.7v1.7h-1.7zM466.7 250.3h1.7v1.7h-1.7zM435.1 236.8h1.7v1.7h-1.7zM473.3 243.9h1.7v1.7h-1.7zM445.2 194.4h1.7v1.7h-1.7zM408.5 227.0h1.7v1.7h-1.7zM397.3 165.9h1.7v1.7h-1.7zM388.3 163.0h1.7v1.7h-1.7zM413.8 231.8h1.7v1.7h-1.7zM485.5 246.5h1.7v1.7h-1.7zM378.2 218.9h1.7v1.7h-1.7zM517.6 243.2h1.7v1.7h-1.7zM456.2 185.5h1.7v1.7h-1.7zM421.1 174.0h1.7v1.7h-1.7zM452.7 192.4h1.7v1.7h-1.7zM412.8 174.9h1.7v1.7h-1.7zM459.6 199.7h1.7v1.7h-1.7zM391.5 224.2h1.7v1.7h-1.7zM454.6 185.5h1.7v1.7h-1.7zM505.4 244.9h1.7v1.7h-1.7zM398.9 222.7h1.7v1.7h-1.7zM486.0 246.2h1.7v1.7h-1.7zM380.1 157.5h1.7v1.7h-1.7zM520.8 224.6h1.7v1.7h-1.7zM387.6 141.3h1.7v1.7h-1.7zM425.1 177.9h1.7v1.7h-1.7zM461.0 191.3h1.7v1.7h-1.7zM435.0 189.5h1.7v1.7h-1.7zM440.2 187.5h1.7v1.7h-1.7zM440.4 174.0h1.7v1.7h-1.7zM458.0 196.8h1.7v1.7h-1.7zM390.7 166.1h1.7v1.7h-1.7zM488.3 202.2h1.7v1.7h-1.7zM520.8 215.0h1.7v1.7h-1.7zM465.6 195.3h1.7v1.7h-1.7zM467.2 201.8h1.7v1.7h-1.7zM488.9 204.4h1.7v1.7h-1.7zM416.3 234.5h1.7v1.7h-1.7zM436.2 184.9h1.7v1.7h-1.7zM388.6 221.5h1.7v1.7h-1.7zM423.4 234.2h1.7v1.7h-1.7zM494.1 201.3h1.7v1.7h-1.7zM458.7 242.3h1.7v1.7h-1.7zM471.7 198.6h1.7v1.7h-1.7zM376.6 210.0h1.7v1.7h-1.7zM438.6 167.9h1.7v1.7h-1.7zM441.9 238.0h1.7v1.7h-1.7zM432.5 185.8h1.7v1.7h-1.7zM486.1 196.1h1.7v1.7h-1.7zM475.8 205.6h1.7v1.7h-1.7zM519.0 222.2h1.7v1.7h-1.7zM407.5 150.8h1.7v1.7h-1.7zM446.7 192.5h1.7v1.7h-1.7zM432.5 182.2h1.7v1.7h-1.7zM434.0 236.7h1.7v1.7h-1.7zM391.6 222.0h1.7v1.7h-1.7zM406.1 161.0h1.7v1.7h-1.7zM464.6 197.3h1.7v1.7h-1.7zM429.6 182.2h1.7v1.7h-1.7zM523.0 226.3h1.7v1.7h-1.7zM485.4 207.2h1.7v1.7h-1.7zM385.4 223.5h1.7v1.7h-1.7zM440.7 185.7h1.7v1.7h-1.7zM522.2 239.8h1.7v1.7h-1.7zM410.5 228.1h1.7v1.7h-1.7zM391.2 168.0h1.7v1.7h-1.7zM461.1 200.5h1.7v1.7h-1.7zM398.6 222.8h1.7v1.7h-1.7zM390.5 225.1h1.7v1.7h-1.7zM408.6 153.6h1.7v1.7h-1.7zM463.2 242.3h1.7v1.7h-1.7zM514.5 246.1h1.7v1.7h-1.7zM483.6 200.9h1.7v1.7h-1.7zM484.9 210.4h1.7v1.7h-1.7zM413.9 178.2h1.7v1.7h-1.7zM395.5 170.1h1.7v1.7h-1.7zM452.2 241.9h1.7v1.7h-1.7zM399.8 225.0h1.7v1.7h-1.7zM457.4 243.4h1.7v1.7h-1.7zM456.0 190.3h1.7v1.7h-1.7zM384.0 222.7h1.7v1.7h-1.7zM430.2 234.6h1.7v1.7h-1.7zM431.4 237.5h1.7v1.7h-1.7zM517.4 218.3h1.7v1.7h-1.7zM518.4 221.4h1.7v1.7h-1.7zM474.4 205.2h1.7v1.7h-1.7zM393.8 221.5h1.7v1.7h-1.7zM422.2 235.4h1.7v1.7h-1.7zM386.0 163.8h1.7v1.7h-1.7zM523.3 238.9h1.7v1.7h-1.7zM454.0 190.1h1.7v1.7h-1.7zM403.5 152.3h1.7v1.7h-1.7zM438.4 174.0h1.7v1.7h-1.7zM459.5 242.2h1.7v1.7h-1.7zM420.9 181.7h1.7v1.7h-1.7zM516.7 246.8h1.7v1.7h-1.7zM504.7 246.4h1.7v1.7h-1.7zM378.8 155.2h1.7v1.7h-1.7zM467.8 244.4h1.7v1.7h-1.7zM388.8 142.8h1.7v1.7h-1.7zM519.5 209.7h1.7v1.7h-1.7zM479.1 201.3h1.7v1.7h-1.7zM375.9 157.8h1.7v1.7h-1.7zM522.2 238.9h1.7v1.7h-1.7zM427.8 183.4h1.7v1.7h-1.7zM415.2 174.7h1.7v1.7h-1.7zM444.1 193.1h1.7v1.7h-1.7zM402.2 173.5h1.7v1.7h-1.7zM425.8 178.4h1.7v1.7h-1.7zM414.9 167.9h1.7v1.7h-1.7zM421.1 170.6h1.7v1.7h-1.7zM477.0 244.4h1.7v1.7h-1.7zM490.4 211.7h1.7v1.7h-1.7zM438.0 238.1h1.7v1.7h-1.7zM512.5 244.2h1.7v1.7h-1.7zM433.9 186.7h1.7v1.7h-1.7zM494.4 205.1h1.7v1.7h-1.7zM464.8 246.6h1.7v1.7h-1.7zM377.9 160.6h1.7v1.7h-1.7zM385.6 221.5h1.7v1.7h-1.7zM507.6 245.5h1.7v1.7h-1.7zM515.6 219.1h1.7v1.7h-1.7zM517.7 210.0h1.7v1.7h-1.7zM508.3 246.6h1.7v1.7h-1.7zM431.7 186.2h1.7v1.7h-1.7zM516.7 214.1h1.7v1.7h-1.7zM403.2 169.0h1.7v1.7h-1.7zM456.9 199.3h1.7v1.7h-1.7zM388.0 154.2h1.7v1.7h-1.7zM490.0 246.1h1.7v1.7h-1.7zM425.4 185.1h1.7v1.7h-1.7zM494.8 248.1h1.7v1.7h-1.7zM502.8 200.1h1.7v1.7h-1.7zM522.6 220.9h1.7v1.7h-1.7zM401.8 226.1h1.7v1.7h-1.7zM407.6 174.2h1.7v1.7h-1.7zM473.8 202.5h1.7v1.7h-1.7zM421.5 182.7h1.7v1.7h-1.7zM446.8 186.8h1.7v1.7h-1.7zM429.3 236.4h1.7v1.7h-1.7zM456.9 196.8h1.7v1.7h-1.7zM512.9 211.5h1.7v1.7h-1.7zM400.2 168.2h1.7v1.7h-1.7zM419.1 181.3h1.7v1.7h-1.7zM399.5 224.6h1.7v1.7h-1.7zM418.4 179.6h1.7v1.7h-1.7zM450.4 241.7h1.7v1.7h-1.7zM453.0 190.9h1.7v1.7h-1.7zM462.0 202.1h1.7v1.7h-1.7zM389.3 159.7h1.7v1.7h-1.7zM417.8 157.5h1.7v1.7h-1.7zM412.5 228.1h1.7v1.7h-1.7zM511.5 219.0h1.7v1.7h-1.7zM440.9 191.2h1.7v1.7h-1.7zM449.2 196.1h1.7v1.7h-1.7zM502.3 215.8h1.7v1.7h-1.7zM409.6 227.2h1.7v1.7h-1.7zM496.8 245.9h1.7v1.7h-1.7zM495.9 245.2h1.7v1.7h-1.7zM497.7 245.3h1.7v1.7h-1.7zM422.6 181.7h1.7v1.7h-1.7zM514.0 219.8h1.7v1.7h-1.7zM495.0 244.3h1.7v1.7h-1.7zM512.7 242.3h1.7v1.7h-1.7zM476.6 207.7h1.7v1.7h-1.7zM523.2 236.0h1.7v1.7h-1.7zM480.6 244.2h1.7v1.7h-1.7zM523.7 236.9h1.7v1.7h-1.7zM386.4 221.5h1.7v1.7h-1.7zM491.6 245.4h1.7v1.7h-1.7zM517.5 241.6h1.7v1.7h-1.7zM450.6 197.2h1.7v1.7h-1.7zM401.6 223.2h1.7v1.7h-1.7zM411.6 227.7h1.7v1.7h-1.7zM454.1 196.7h1.7v1.7h-1.7zM418.1 180.6h1.7v1.7h-1.7zM517.3 220.9h1.7v1.7h-1.7zM515.1 242.0h1.7v1.7h-1.7zM469.5 245.2h1.7v1.7h-1.7zM492.4 212.8h1.7v1.7h-1.7zM450.0 195.3h1.7v1.7h-1.7zM505.5 214.9h1.7v1.7h-1.7zM414.7 179.8h1.7v1.7h-1.7zM463.8 203.1h1.7v1.7h-1.7zM385.4 166.8h1.7v1.7h-1.7zM455.8 240.8h1.7v1.7h-1.7zM438.0 190.3h1.7v1.7h-1.7zM447.9 239.6h1.7v1.7h-1.7zM479.3 244.2h1.7v1.7h-1.7zM460.0 243.2h1.7v1.7h-1.7zM414.9 179.1h1.7v1.7h-1.7zM525.5 229.2h1.7v1.7h-1.7zM386.1 165.2h1.7v1.7h-1.7zM459.4 200.9h1.7v1.7h-1.7zM425.0 234.4h1.7v1.7h-1.7zM473.7 243.9h1.7v1.7h-1.7zM393.5 169.9h1.7v1.7h-1.7zM519.2 239.5h1.7v1.7h-1.7zM417.6 230.0h1.7v1.7h-1.7zM442.5 191.9h1.7v1.7h-1.7zM488.0 210.9h1.7v1.7h-1.7zM474.0 242.9h1.7v1.7h-1.7zM483.0 209.9h1.7v1.7h-1.7zM385.8 166.9h1.7v1.7h-1.7zM435.6 190.4h1.7v1.7h-1.7zM393.4 221.2h1.7v1.7h-1.7zM464.8 202.5h1.7v1.7h-1.7zM523.5 227.9h1.7v1.7h-1.7zM506.0 216.5h1.7v1.7h-1.7zM438.5 190.9h1.7v1.7h-1.7zM495.0 244.8h1.7v1.7h-1.7zM444.1 192.8h1.7v1.7h-1.7zM424.5 232.6h1.7v1.7h-1.7zM438.6 191.6h1.7v1.7h-1.7zM447.9 240.0h1.7v1.7h-1.7zM445.1 191.5h1.7v1.7h-1.7zM494.1 211.2h1.7v1.7h-1.7zM477.2 243.6h1.7v1.7h-1.7zM518.4 241.7h1.7v1.7h-1.7zM476.8 207.6h1.7v1.7h-1.7zM491.9 212.1h1.7v1.7h-1.7zM522.9 227.7h1.7v1.7h-1.7zM439.4 236.5h1.7v1.7h-1.7zM416.2 229.6h1.7v1.7h-1.7zM524.9 228.1h1.7v1.7h-1.7zM513.0 218.3h1.7v1.7h-1.7zM501.8 214.8h1.7v1.7h-1.7zM465.2 241.6h1.7v1.7h-1.7zM463.5 200.8h1.7v1.7h-1.7zM482.2 205.6h1.7v1.7h-1.7zM397.9 222.9h1.7v1.7h-1.7zM425.8 233.5h1.7v1.7h-1.7zM461.7 202.1h1.7v1.7h-1.7zM451.1 195.3h1.7v1.7h-1.7zM476.0 205.7h1.7v1.7h-1.7zM497.1 213.4h1.7v1.7h-1.7zM445.9 193.6h1.7v1.7h-1.7zM524.6 227.9h1.7v1.7h-1.7zM490.2 212.1h1.7v1.7h-1.7zM422.2 232.3h1.7v1.7h-1.7zM434.0 187.1h1.7v1.7h-1.7zM430.8 186.8h1.7v1.7h-1.7zM475.1 207.4h1.7v1.7h-1.7zM423.8 232.8h1.7v1.7h-1.7zM404.1 174.4h1.7v1.7h-1.7zM390.4 220.0h1.7v1.7h-1.7zM450.2 240.1h1.7v1.7h-1.7zM381.9 220.7h1.7v1.7h-1.7zM481.9 244.3h1.7v1.7h-1.7zM427.7 233.4h1.7v1.7h-1.7zM424.2 183.3h1.7v1.7h-1.7zM498.1 211.5h1.7v1.7h-1.7zM410.8 175.4h1.7v1.7h-1.7zM469.5 204.5h1.7v1.7h-1.7zM442.9 193.5h1.7v1.7h-1.7zM500.3 244.5h1.7v1.7h-1.7zM430.3 234.7h1.7v1.7h-1.7zM409.7 227.2h1.7v1.7h-1.7zM431.7 187.9h1.7v1.7h-1.7zM484.2 210.4h1.7v1.7h-1.7zM502.3 215.8h1.7v1.7h-1.7zM464.1 202.2h1.7v1.7h-1.7zM523.6 235.7h1.7v1.7h-1.7zM505.5 217.1h1.7v1.7h-1.7zM481.0 209.3h1.7v1.7h-1.7zM418.1 230.4h1.7v1.7h-1.7zM447.0 194.4h1.7v1.7h-1.7zM460.9 201.3h1.7v1.7h-1.7zM421.0 182.5h1.7v1.7h-1.7zM380.1 163.2h1.7v1.7h-1.7zM394.4 221.2h1.7v1.7h-1.7zM447.2 194.6h1.7v1.7h-1.7zM489.4 246.7h1.7v1.7h-1.7zM475.4 244.1h1.7v1.7h-1.7zM435.5 190.4h1.7v1.7h-1.7zM447.1 193.1h1.7v1.7h-1.7zM510.0 218.8h1.7v1.7h-1.7zM381.0 162.1h1.7v1.7h-1.7zM469.6 205.4h1.7v1.7h-1.7zM406.0 225.9h1.7v1.7h-1.7zM480.2 245.1h1.7v1.7h-1.7zM445.1 191.8h1.7v1.7h-1.7zM524.6 235.5h1.7v1.7h-1.7zM501.5 216.0h1.7v1.7h-1.7zM458.2 196.8h1.7v1.7h-1.7zM423.6 235.8h1.7v1.7h-1.7zM388.9 220.4h1.7v1.7h-1.7zM379.7 162.2h1.7v1.7h-1.7zM394.1 169.2h1.7v1.7h-1.7zM516.9 222.4h1.7v1.7h-1.7zM464.0 201.5h1.7v1.7h-1.7zM446.5 238.6h1.7v1.7h-1.7zM443.9 193.3h1.7v1.7h-1.7zM427.6 186.5h1.7v1.7h-1.7zM410.3 227.0h1.7v1.7h-1.7zM409.5 177.5h1.7v1.7h-1.7zM519.6 223.4h1.7v1.7h-1.7zM392.7 220.2h1.7v1.7h-1.7zM485.0 246.4h1.7v1.7h-1.7zM386.2 167.4h1.7v1.7h-1.7zM407.6 175.9h1.7v1.7h-1.7zM401.9 172.7h1.7v1.7h-1.7zM416.1 229.7h1.7v1.7h-1.7zM405.0 226.7h1.7v1.7h-1.7zM384.2 164.5h1.7v1.7h-1.7zM434.4 235.1h1.7v1.7h-1.7zM405.2 173.0h1.7v1.7h-1.7zM521.2 225.6h1.7v1.7h-1.7zM477.6 205.1h1.7v1.7h-1.7zM405.3 174.8h1.7v1.7h-1.7zM481.5 246.0h1.7v1.7h-1.7zM476.9 244.5h1.7v1.7h-1.7zM450.8 195.8h1.7v1.7h-1.7zM450.6 196.9h1.7v1.7h-1.7zM381.8 220.2h1.7v1.7h-1.7zM432.7 187.9h1.7v1.7h-1.7zM513.2 219.3h1.7v1.7h-1.7zM451.8 197.7h1.7v1.7h-1.7zM413.1 177.5h1.7v1.7h-1.7zM485.1 210.6h1.7v1.7h-1.7zM405.8 175.5h1.7v1.7h-1.7zM502.8 244.2h1.7v1.7h-1.7zM484.7 208.2h1.7v1.7h-1.7zM500.0 215.4h1.7v1.7h-1.7zM381.9 220.5h1.7v1.7h-1.7zM434.2 187.0h1.7v1.7h-1.7zM466.8 242.4h1.7v1.7h-1.7zM383.2 166.0h1.7v1.7h-1.7zM394.3 169.7h1.7v1.7h-1.7zM472.6 205.9h1.7v1.7h-1.7zM433.3 187.8h1.7v1.7h-1.7zM461.9 201.2h1.7v1.7h-1.7zM383.6 221.1h1.7v1.7h-1.7zM406.4 172.9h1.7v1.7h-1.7zM464.8 203.7h1.7v1.7h-1.7zM458.0 241.2h1.7v1.7h-1.7zM482.6 209.0h1.7v1.7h-1.7zM482.4 244.7h1.7v1.7h-1.7zM421.1 231.3h1.7v1.7h-1.7zM493.9 244.9h1.7v1.7h-1.7zM436.0 235.8h1.7v1.7h-1.7zM491.1 210.3h1.7v1.7h-1.7zM506.0 217.2h1.7v1.7h-1.7zM467.4 243.2h1.7v1.7h-1.7zM509.6 244.1h1.7v1.7h-1.7zM502.1 244.9h1.7v1.7h-1.7zM437.5 191.1h1.7v1.7h-1.7zM397.2 223.3h1.7v1.7h-1.7zM419.1 181.6h1.7v1.7h-1.7zM467.6 202.3h1.7v1.7h-1.7zM523.9 227.8h1.7v1.7h-1.7zM431.9 235.3h1.7v1.7h-1.7zM407.1 173.7h1.7v1.7h-1.7zM428.0 186.8h1.7v1.7h-1.7zM426.3 186.0h1.7v1.7h-1.7zM524.6 236.5h1.7v1.7h-1.7zM412.2 178.0h1.7v1.7h-1.7zM484.8 245.2h1.7v1.7h-1.7zM424.8 184.6h1.7v1.7h-1.7zM424.0 233.9h1.7v1.7h-1.7zM400.2 223.0h1.7v1.7h-1.7zM521.0 225.3h1.7v1.7h-1.7zM382.9 165.4h1.7v1.7h-1.7zM404.9 226.1h1.7v1.7h-1.7zM521.1 225.2h1.7v1.7h-1.7zM392.3 167.0h1.7v1.7h-1.7zM479.0 208.2h1.7v1.7h-1.7zM504.6 215.4h1.7v1.7h-1.7zM381.5 163.6h1.7v1.7h-1.7zM382.1 163.7h1.7v1.7h-1.7zM396.7 222.0h1.7v1.7h-1.7zM499.8 213.9h1.7v1.7h-1.7zM485.7 245.4h1.7v1.7h-1.7zM459.8 200.1h1.7v1.7h-1.7zM522.2 225.4h1.7v1.7h-1.7zM492.5 244.4h1.7v1.7h-1.7zM448.3 196.3h1.7v1.7h-1.7zM466.8 204.3h1.7v1.7h-1.7zM397.2 221.6h1.7v1.7h-1.7zM478.8 243.5h1.7v1.7h-1.7zM445.2 193.7h1.7v1.7h-1.7zM496.8 213.1h1.7v1.7h-1.7zM436.7 190.1h1.7v1.7h-1.7zM430.7 235.3h1.7v1.7h-1.7zM389.5 220.3h1.7v1.7h-1.7zM400.0 171.3h1.7v1.7h-1.7zM490.9 211.7h1.7v1.7h-1.7zM421.4 182.8h1.7v1.7h-1.7zM379.4 220.8h1.7v1.7h-1.7zM449.3 194.6h1.7v1.7h-1.7zM488.7 209.6h1.7v1.7h-1.7zM477.7 206.5h1.7v1.7h-1.7zM385.2 220.7h1.7v1.7h-1.7zM427.4 186.4h1.7v1.7h-1.7zM383.2 220.7h1.7v1.7h-1.7zM447.4 238.6h1.7v1.7h-1.7zM384.4 221.0h1.7v1.7h-1.7zM447.4 195.0h1.7v1.7h-1.7zM473.0 206.5h1.7v1.7h-1.7zM514.6 242.2h1.7v1.7h-1.7zM485.0 244.7h1.7v1.7h-1.7zM495.5 213.3h1.7v1.7h-1.7zM458.7 240.4h1.7v1.7h-1.7zM505.9 216.2h1.7v1.7h-1.7zM402.7 223.7h1.7v1.7h-1.7zM490.2 210.4h1.7v1.7h-1.7zM485.5 209.9h1.7v1.7h-1.7zM395.2 169.7h1.7v1.7h-1.7zM451.2 241.4h1.7v1.7h-1.7zM431.7 186.8h1.7v1.7h-1.7zM467.4 201.4h1.7v1.7h-1.7zM481.8 207.8h1.7v1.7h-1.7zM467.9 243.3h1.7v1.7h-1.7zM521.4 225.5h1.7v1.7h-1.7zM438.5 190.6h1.7v1.7h-1.7zM473.6 205.4h1.7v1.7h-1.7zM496.2 246.2h1.7v1.7h-1.7zM502.7 215.8h1.7v1.7h-1.7zM424.4 184.2h1.7v1.7h-1.7zM496.0 244.6h1.7v1.7h-1.7zM395.0 169.6h1.7v1.7h-1.7zM472.3 243.3h1.7v1.7h-1.7zM490.2 211.9h1.7v1.7h-1.7zM507.8 217.3h1.7v1.7h-1.7zM420.8 183.1h1.7v1.7h-1.7zM418.9 232.1h1.7v1.7h-1.7zM496.6 214.1h1.7v1.7h-1.7zM406.1 173.5h1.7v1.7h-1.7zM467.1 203.7h1.7v1.7h-1.7zM444.9 194.5h1.7v1.7h-1.7zM440.1 192.2h1.7v1.7h-1.7zM521.8 224.1h1.7v1.7h-1.7zM462.8 201.5h1.7v1.7h-1.7zM497.4 214.1h1.7v1.7h-1.7zM391.4 169.2h1.7v1.7h-1.7zM400.9 225.3h1.7v1.7h-1.7zM519.4 240.1h1.7v1.7h-1.7zM473.4 206.7h1.7v1.7h-1.7zM401.1 171.4h1.7v1.7h-1.7zM439.0 191.5h1.7v1.7h-1.7zM462.1 242.9h1.7v1.7h-1.7zM500.0 215.3h1.7v1.7h-1.7zM401.5 223.3h1.7v1.7h-1.7zM423.6 182.7h1.7v1.7h-1.7zM419.1 230.7h1.7v1.7h-1.7zM426.9 232.9h1.7v1.7h-1.7zM458.9 201.1h1.7v1.7h-1.7zM508.7 218.5h1.7v1.7h-1.7zM465.3 243.7h1.7v1.7h-1.7zM438.9 191.5h1.7v1.7h-1.7zM415.8 230.7h1.7v1.7h-1.7zM393.5 169.7h1.7v1.7h-1.7zM463.9 201.7h1.7v1.7h-1.7zM524.0 235.7h1.7v1.7h-1.7zM500.1 244.7h1.7v1.7h-1.7zM404.1 225.2h1.7v1.7h-1.7zM408.6 173.9h1.7v1.7h-1.7zM402.1 171.3h1.7v1.7h-1.7zM447.9 194.2h1.7v1.7h-1.7zM429.9 186.4h1.7v1.7h-1.7zM492.7 211.3h1.7v1.7h-1.7zM445.4 193.8h1.7v1.7h-1.7zM479.2 244.3h1.7v1.7h-1.7zM426.1 185.6h1.7v1.7h-1.7zM435.0 189.8h1.7v1.7h-1.7zM382.5 162.5h1.7v1.7h-1.7zM501.8 214.6h1.7v1.7h-1.7zM424.6 184.9h1.7v1.7h-1.7zM465.2 242.1h1.7v1.7h-1.7zM434.3 189.6h1.7v1.7h-1.7zM491.1 212.6h1.7v1.7h-1.7zM485.0 244.7h1.7v1.7h-1.7zM424.4 232.5h1.7v1.7h-1.7zM486.9 210.1h1.7v1.7h-1.7zM447.6 238.8h1.7v1.7h-1.7zM416.5 231.1h1.7v1.7h-1.7zM519.8 239.4h1.7v1.7h-1.7zM403.1 224.2h1.7v1.7h-1.7zM395.7 168.6h1.7v1.7h-1.7zM443.2 237.7h1.7v1.7h-1.7zM510.7 243.4h1.7v1.7h-1.7zM453.3 198.3h1.7v1.7h-1.7zM439.8 237.5h1.7v1.7h-1.7zM465.9 242.4h1.7v1.7h-1.7zM486.1 210.7h1.7v1.7h-1.7zM411.4 177.1h1.7v1.7h-1.7zM458.7 200.6h1.7v1.7h-1.7zM461.4 200.1h1.7v1.7h-1.7zM427.5 186.4h1.7v1.7h-1.7zM433.7 188.4h1.7v1.7h-1.7zM421.9 183.4h1.7v1.7h-1.7zM382.1 162.3h1.7v1.7h-1.7zM431.1 188.0h1.7v1.7h-1.7zM455.6 197.5h1.7v1.7h-1.7zM460.2 200.2h1.7v1.7h-1.7zM428.6 235.8h1.7v1.7h-1.7zM501.5 244.2h1.7v1.7h-1.7zM485.3 245.5h1.7v1.7h-1.7zM463.5 202.8h1.7v1.7h-1.7zM499.1 246.3h1.7v1.7h-1.7zM469.0 204.9h1.7v1.7h-1.7zM512.3 219.0h1.7v1.7h-1.7zM518.2 223.3h1.7v1.7h-1.7zM461.1 202.2h1.7v1.7h-1.7zM486.7 209.6h1.7v1.7h-1.7zM508.6 218.3h1.7v1.7h-1.7zM507.9 245.7h1.7v1.7h-1.7zM418.5 181.5h1.7v1.7h-1.7zM386.7 222.1h1.7v1.7h-1.7zM455.9 198.4h1.7v1.7h-1.7zM393.2 220.4h1.7v1.7h-1.7zM516.2 221.1h1.7v1.7h-1.7zM477.3 208.0h1.7v1.7h-1.7zM427.1 184.8h1.7v1.7h-1.7zM466.0 241.8h1.7v1.7h-1.7zM515.7 241.4h1.7v1.7h-1.7zM413.9 178.9h1.7v1.7h-1.7zM473.0 244.9h1.7v1.7h-1.7zM424.0 181.0h1.7v1.7h-1.7zM391.2 169.0h1.7v1.7h-1.7zM383.9 163.7h1.7v1.7h-1.7zM413.6 229.2h1.7v1.7h-1.7zM392.9 220.7h1.7v1.7h-1.7zM521.7 239.2h1.7v1.7h-1.7zM491.4 212.4h1.7v1.7h-1.7zM417.9 181.1h1.7v1.7h-1.7zM472.4 205.6h1.7v1.7h-1.7zM521.6 226.0h1.7v1.7h-1.7zM518.5 242.9h1.7v1.7h-1.7zM502.3 244.9h1.7v1.7h-1.7zM388.7 221.5h1.7v1.7h-1.7zM501.5 244.6h1.7v1.7h-1.7zM486.0 211.0h1.7v1.7h-1.7zM510.1 244.7h1.7v1.7h-1.7zM476.3 243.5h1.7v1.7h-1.7zM432.2 237.0h1.7v1.7h-1.7zM484.9 245.1h1.7v1.7h-1.7zM446.2 193.1h1.7v1.7h-1.7zM458.9 200.5h1.7v1.7h-1.7zM378.3 162.9h1.7v1.7h-1.7zM410.5 177.0h1.7v1.7h-1.7zM480.7 243.5h1.7v1.7h-1.7zM506.3 244.4h1.7v1.7h-1.7zM486.1 244.8h1.7v1.7h-1.7zM388.3 220.9h1.7v1.7h-1.7zM385.7 221.7h1.7v1.7h-1.7zM467.5 242.8h1.7v1.7h-1.7zM519.9 239.9h1.7v1.7h-1.7zM379.9 220.3h1.7v1.7h-1.7zM472.3 243.4h1.7v1.7h-1.7zM378.4 218.6h1.7v1.7h-1.7zM470.3 244.3h1.7v1.7h-1.7zM492.1 245.6h1.7v1.7h-1.7zM446.2 238.3h1.7v1.7h-1.7zM426.0 185.7h1.7v1.7h-1.7zM524.7 229.1h1.7v1.7h-1.7zM392.1 167.4h1.7v1.7h-1.7zM436.2 189.4h1.7v1.7h-1.7zM496.6 213.6h1.7v1.7h-1.7zM522.5 226.4h1.7v1.7h-1.7zM379.8 163.8h1.7v1.7h-1.7zM510.4 217.7h1.7v1.7h-1.7zM417.1 181.3h1.7v1.7h-1.7zM387.4 167.4h1.7v1.7h-1.7zM491.8 246.6h1.7v1.7h-1.7zM465.9 241.6h1.7v1.7h-1.7zM397.0 221.9h1.7v1.7h-1.7zM502.2 244.3h1.7v1.7h-1.7zM461.7 241.6h1.7v1.7h-1.7zM467.3 203.3h1.7v1.7h-1.7zM417.5 230.1h1.7v1.7h-1.7zM533.3 232.3h1.7v1.7h-1.7zM533.5 236.6h1.7v1.7h-1.7zM530.4 213.5h1.7v1.7h-1.7zM532.0 207.0h1.7v1.7h-1.7zM536.4 232.0h1.7v1.7h-1.7zM523.5 219.6h1.7v1.7h-1.7zM519.9 239.4h1.7v1.7h-1.7zM534.4 211.7h1.7v1.7h-1.7zM514.9 222.7h1.7v1.7h-1.7zM535.1 224.3h1.7v1.7h-1.7zM520.1 237.7h1.7v1.7h-1.7zM530.9 225.1h1.7v1.7h-1.7zM514.2 228.8h1.7v1.7h-1.7zM522.9 235.3h1.7v1.7h-1.7zM527.3 236.9h1.7v1.7h-1.7zM521.4 232.9h1.7v1.7h-1.7zM530.6 228.1h1.7v1.7h-1.7zM533.3 231.6h1.7v1.7h-1.7zM515.4 236.0h1.7v1.7h-1.7zM522.0 214.6h1.7v1.7h-1.7zM519.2 225.3h1.7v1.7h-1.7zM531.1 217.4h1.7v1.7h-1.7zM512.4 219.9h1.7v1.7h-1.7zM532.3 239.8h1.7v1.7h-1.7zM517.1 238.5h1.7v1.7h-1.7zM535.7 225.2h1.7v1.7h-1.7zM512.7 243.1h1.7v1.7h-1.7zM525.6 227.2h1.7v1.7h-1.7zM532.2 236.5h1.7v1.7h-1.7zM532.5 229.2h1.7v1.7h-1.7zM535.5 231.6h1.7v1.7h-1.7zM533.9 225.6h1.7v1.7h-1.7zM525.7 195.7h1.7v1.7h-1.7zM520.3 240.8h1.7v1.7h-1.7zM517.7 241.3h1.7v1.7h-1.7zM526.7 223.2h1.7v1.7h-1.7zM522.8 237.9h1.7v1.7h-1.7zM517.4 234.6h1.7v1.7h-1.7zM517.7 232.3h1.7v1.7h-1.7zM528.9 201.5h1.7v1.7h-1.7zM527.8 246.5h1.7v1.7h-1.7zM520.7 238.5h1.7v1.7h-1.7zM523.4 220.5h1.7v1.7h-1.7zM507.1 226.7h1.7v1.7h-1.7zM525.6 215.9h1.7v1.7h-1.7zM530.2 197.6h1.7v1.7h-1.7zM531.8 226.2h1.7v1.7h-1.7zM523.9 233.2h1.7v1.7h-1.7zM525.3 236.3h1.7v1.7h-1.7zM522.8 235.4h1.7v1.7h-1.7zM528.3 208.2h1.7v1.7h-1.7zM521.8 245.7h1.7v1.7h-1.7zM510.9 244.5h1.7v1.7h-1.7zM536.5 220.0h1.7v1.7h-1.7zM532.0 214.0h1.7v1.7h-1.7zM525.7 215.4h1.7v1.7h-1.7zM516.3 223.1h1.7v1.7h-1.7zM524.9 239.9h1.7v1.7h-1.7zM520.7 244.9h1.7v1.7h-1.7zM532.1 208.2h1.7v1.7h-1.7zM525.2 243.3h1.7v1.7h-1.7zM527.7 229.2h1.7v1.7h-1.7zM529.5 243.4h1.7v1.7h-1.7zM517.1 219.7h1.7v1.7h-1.7zM522.9 222.7h1.7v1.7h-1.7zM536.0 212.6h1.7v1.7h-1.7zM525.8 237.0h1.7v1.7h-1.7zM525.3 217.5h1.7v1.7h-1.7zM529.6 230.9h1.7v1.7h-1.7zM534.5 236.2h1.7v1.7h-1.7zM531.2 225.0h1.7v1.7h-1.7zM525.5 231.5h1.7v1.7h-1.7zM521.2 242.7h1.7v1.7h-1.7zM530.1 220.2h1.7v1.7h-1.7zM527.4 227.6h1.7v1.7h-1.7zM519.0 228.9h1.7v1.7h-1.7zM522.7 211.9h1.7v1.7h-1.7zM526.6 217.0h1.7v1.7h-1.7zM522.3 261.5h1.7v1.7h-1.7zM533.3 213.6h1.7v1.7h-1.7zM528.4 228.0h1.7v1.7h-1.7zM519.6 229.7h1.7v1.7h-1.7zM521.3 201.6h1.7v1.7h-1.7zM526.0 208.8h1.7v1.7h-1.7zM517.4 219.8h1.7v1.7h-1.7zM538.7 235.6h1.7v1.7h-1.7zM520.3 235.4h1.7v1.7h-1.7zM525.9 250.2h1.7v1.7h-1.7zM532.6 225.2h1.7v1.7h-1.7zM531.2 233.6h1.7v1.7h-1.7zM529.6 215.2h1.7v1.7h-1.7zM525.3 242.3h1.7v1.7h-1.7zM530.6 232.4h1.7v1.7h-1.7zM531.1 229.2h1.7v1.7h-1.7zM527.1 219.6h1.7v1.7h-1.7zM529.2 214.5h1.7v1.7h-1.7zM526.7 241.8h1.7v1.7h-1.7zM528.0 228.2h1.7v1.7h-1.7zM519.9 236.2h1.7v1.7h-1.7zM526.8 220.8h1.7v1.7h-1.7zM526.9 209.8h1.7v1.7h-1.7zM518.6 208.7h1.7v1.7h-1.7zM529.9 236.1h1.7v1.7h-1.7zM537.6 222.6h1.7v1.7h-1.7zM530.0 206.5h1.7v1.7h-1.7zM537.5 217.0h1.7v1.7h-1.7zM518.3 221.4h1.7v1.7h-1.7zM532.1 224.4h1.7v1.7h-1.7zM537.4 214.0h1.7v1.7h-1.7zM516.2 213.1h1.7v1.7h-1.7zM535.9 220.1h1.7v1.7h-1.7zM522.8 243.1h1.7v1.7h-1.7zM528.3 241.8h1.7v1.7h-1.7zM519.5 242.8h1.7v1.7h-1.7zM523.9 231.6h1.7v1.7h-1.7zM525.9 243.2h1.7v1.7h-1.7zM533.6 226.4h1.7v1.7h-1.7zM512.3 231.5h1.7v1.7h-1.7zM529.2 235.2h1.7v1.7h-1.7zM529.0 215.2h1.7v1.7h-1.7zM525.7 231.7h1.7v1.7h-1.7zM516.8 216.5h1.7v1.7h-1.7zM512.7 219.9h1.7v1.7h-1.7zM536.2 238.8h1.7v1.7h-1.7zM527.7 229.7h1.7v1.7h-1.7zM522.4 220.6h1.7v1.7h-1.7zM526.6 232.9h1.7v1.7h-1.7zM521.6 230.3h1.7v1.7h-1.7zM525.2 230.1h1.7v1.7h-1.7zM522.2 206.4h1.7v1.7h-1.7zM535.7 229.7h1.7v1.7h-1.7zM534.8 227.5h1.7v1.7h-1.7zM533.1 231.1h1.7v1.7h-1.7zM531.1 221.6h1.7v1.7h-1.7zM519.9 235.8h1.7v1.7h-1.7zM522.2 220.9h1.7v1.7h-1.7zM522.9 238.2h1.7v1.7h-1.7zM531.1 237.9h1.7v1.7h-1.7zM519.9 230.6h1.7v1.7h-1.7zM525.2 221.7h1.7v1.7h-1.7zM524.6 231.0h1.7v1.7h-1.7zM531.3 227.2h1.7v1.7h-1.7zM524.9 220.2h1.7v1.7h-1.7zM526.4 226.8h1.7v1.7h-1.7zM507.6 224.8h1.7v1.7h-1.7zM525.5 220.1h1.7v1.7h-1.7zM522.0 228.2h1.7v1.7h-1.7zM517.3 255.6h1.7v1.7h-1.7zM515.5 237.9h1.7v1.7h-1.7zM537.8 224.2h1.7v1.7h-1.7zM512.9 225.4h1.7v1.7h-1.7zM533.3 233.0h1.7v1.7h-1.7zM520.9 230.3h1.7v1.7h-1.7zM531.5 228.3h1.7v1.7h-1.7zM527.2 213.6h1.7v1.7h-1.7zM522.3 215.9h1.7v1.7h-1.7zM532.1 251.5h1.7v1.7h-1.7zM522.4 231.7h1.7v1.7h-1.7zM520.9 230.0h1.7v1.7h-1.7zM520.5 224.8h1.7v1.7h-1.7zM525.1 241.5h1.7v1.7h-1.7zM530.0 240.7h1.7v1.7h-1.7zM522.7 239.0h1.7v1.7h-1.7zM524.4 243.7h1.7v1.7h-1.7zM532.7 235.5h1.7v1.7h-1.7zM523.2 226.1h1.7v1.7h-1.7zM523.0 233.5h1.7v1.7h-1.7zM523.9 249.0h1.7v1.7h-1.7zM535.6 244.9h1.7v1.7h-1.7zM523.6 238.4h1.7v1.7h-1.7zM531.5 227.9h1.7v1.7h-1.7zM532.5 237.5h1.7v1.7h-1.7zM524.8 231.7h1.7v1.7h-1.7zM527.3 223.6h1.7v1.7h-1.7zM538.1 227.3h1.7v1.7h-1.7zM530.3 234.0h1.7v1.7h-1.7zM535.5 219.3h1.7v1.7h-1.7zM526.9 235.9h1.7v1.7h-1.7zM526.8 210.1h1.7v1.7h-1.7zM532.8 232.2h1.7v1.7h-1.7zM523.5 237.2h1.7v1.7h-1.7zM529.3 219.4h1.7v1.7h-1.7zM525.9 234.4h1.7v1.7h-1.7zM519.0 217.6h1.7v1.7h-1.7zM522.1 255.2h1.7v1.7h-1.7zM525.3 229.2h1.7v1.7h-1.7zM515.7 222.8h1.7v1.7h-1.7zM518.5 229.0h1.7v1.7h-1.7zM528.7 226.9h1.7v1.7h-1.7zM514.2 218.0h1.7v1.7h-1.7zM540.1 237.1h1.7v1.7h-1.7zM525.8 228.7h1.7v1.7h-1.7zM531.1 219.3h1.7v1.7h-1.7zM528.4 233.2h1.7v1.7h-1.7zM523.2 236.9h1.7v1.7h-1.7zM526.0 201.4h1.7v1.7h-1.7zM532.5 233.6h1.7v1.7h-1.7zM507.1 230.6h1.7v1.7h-1.7zM527.9 216.6h1.7v1.7h-1.7zM528.2 229.2h1.7v1.7h-1.7zM536.4 224.2h1.7v1.7h-1.7zM524.8 233.1h1.7v1.7h-1.7zM528.0 242.7h1.7v1.7h-1.7zM532.6 240.0h1.7v1.7h-1.7zM512.4 223.8h1.7v1.7h-1.7zM527.3 231.8h1.7v1.7h-1.7zM533.6 230.3h1.7v1.7h-1.7zM509.4 245.3h1.7v1.7h-1.7zM408.4 175.2h1.7v1.7h-1.7zM408.1 177.7h1.7v1.7h-1.7zM407.7 176.4h1.7v1.7h-1.7zM408.4 176.4h1.7v1.7h-1.7zM408.2 176.9h1.7v1.7h-1.7zM384.9 166.5h1.7v1.7h-1.7zM403.8 169.2h1.7v1.7h-1.7zM380.8 160.4h1.7v1.7h-1.7zM382.3 160.6h1.7v1.7h-1.7zM379.3 156.2h1.7v1.7h-1.7zM403.5 170.8h1.7v1.7h-1.7zM387.1 160.6h1.7v1.7h-1.7zM412.3 175.6h1.7v1.7h-1.7zM406.5 175.3h1.7v1.7h-1.7zM378.1 155.8h1.7v1.7h-1.7zM384.8 163.0h1.7v1.7h-1.7zM379.2 153.0h1.7v1.7h-1.7zM384.3 167.5h1.7v1.7h-1.7zM388.7 161.0h1.7v1.7h-1.7zM380.8 157.6h1.7v1.7h-1.7zM415.0 170.7h1.7v1.7h-1.7zM400.9 167.5h1.7v1.7h-1.7zM404.4 172.1h1.7v1.7h-1.7zM411.8 179.9h1.7v1.7h-1.7zM417.8 177.0h1.7v1.7h-1.7zM396.7 166.0h1.7v1.7h-1.7zM410.1 176.9h1.7v1.7h-1.7zM401.8 171.5h1.7v1.7h-1.7zM414.5 180.1h1.7v1.7h-1.7zM413.7 180.5h1.7v1.7h-1.7zM402.4 174.6h1.7v1.7h-1.7zM403.1 169.4h1.7v1.7h-1.7zM407.4 176.4h1.7v1.7h-1.7zM408.9 175.0h1.7v1.7h-1.7zM395.7 165.9h1.7v1.7h-1.7zM386.6 168.5h1.7v1.7h-1.7zM407.9 173.3h1.7v1.7h-1.7zM400.4 174.0h1.7v1.7h-1.7zM410.0 177.8h1.7v1.7h-1.7zM408.6 173.9h1.7v1.7h-1.7zM380.3 157.8h1.7v1.7h-1.7zM389.2 165.9h1.7v1.7h-1.7zM411.5 179.1h1.7v1.7h-1.7zM386.1 163.3h1.7v1.7h-1.7zM379.8 164.9h1.7v1.7h-1.7zM378.9 159.2h1.7v1.7h-1.7zM400.0 170.1h1.7v1.7h-1.7zM380.6 160.0h1.7v1.7h-1.7zM390.2 168.1h1.7v1.7h-1.7zM386.9 166.0h1.7v1.7h-1.7zM392.8 166.4h1.7v1.7h-1.7zM401.7 173.4h1.7v1.7h-1.7zM402.6 172.0h1.7v1.7h-1.7zM388.3 169.8h1.7v1.7h-1.7zM402.1 171.9h1.7v1.7h-1.7zM407.9 176.4h1.7v1.7h-1.7zM415.1 175.7h1.7v1.7h-1.7zM418.2 182.2h1.7v1.7h-1.7zM388.6 165.2h1.7v1.7h-1.7zM403.4 173.8h1.7v1.7h-1.7zM381.6 164.2h1.7v1.7h-1.7zM404.4 167.5h1.7v1.7h-1.7zM410.8 172.0h1.7v1.7h-1.7zM399.5 171.9h1.7v1.7h-1.7zM379.9 161.6h1.7v1.7h-1.7zM382.3 164.0h1.7v1.7h-1.7zM378.0 161.1h1.7v1.7h-1.7zM417.9 176.7h1.7v1.7h-1.7zM396.3 166.7h1.7v1.7h-1.7zM417.4 177.8h1.7v1.7h-1.7zM404.3 173.6h1.7v1.7h-1.7zM378.7 160.6h1.7v1.7h-1.7zM405.5 174.8h1.7v1.7h-1.7zM380.9 164.2h1.7v1.7h-1.7zM410.1 178.4h1.7v1.7h-1.7zM416.4 176.9h1.7v1.7h-1.7zM381.5 163.3h1.7v1.7h-1.7zM409.6 169.9h1.7v1.7h-1.7zM403.7 175.8h1.7v1.7h-1.7zM400.9 173.6h1.7v1.7h-1.7zM381.1 163.7h1.7v1.7h-1.7zM395.4 169.5h1.7v1.7h-1.7zM379.7 152.6h1.7v1.7h-1.7zM408.9 177.0h1.7v1.7h-1.7zM415.6 180.5h1.7v1.7h-1.7zM386.7 163.5h1.7v1.7h-1.7zM394.1 168.1h1.7v1.7h-1.7zM392.1 166.0h1.7v1.7h-1.7zM393.0 165.2h1.7v1.7h-1.7zM402.4 174.8h1.7v1.7h-1.7zM395.1 170.6h1.7v1.7h-1.7zM392.2 164.5h1.7v1.7h-1.7zM385.8 165.9h1.7v1.7h-1.7zM396.5 166.8h1.7v1.7h-1.7zM380.6 165.4h1.7v1.7h-1.7zM383.4 161.2h1.7v1.7h-1.7zM386.4 168.9h1.7v1.7h-1.7zM401.6 172.2h1.7v1.7h-1.7zM379.9 157.8h1.7v1.7h-1.7zM412.2 177.4h1.7v1.7h-1.7zM389.6 169.3h1.7v1.7h-1.7zM403.5 166.4h1.7v1.7h-1.7zM386.8 162.7h1.7v1.7h-1.7zM394.6 167.0h1.7v1.7h-1.7zM417.2 180.4h1.7v1.7h-1.7zM385.4 165.9h1.7v1.7h-1.7zM404.0 170.4h1.7v1.7h-1.7zM383.6 166.5h1.7v1.7h-1.7zM387.5 162.5h1.7v1.7h-1.7zM378.8 161.2h1.7v1.7h-1.7zM410.8 169.7h1.7v1.7h-1.7zM412.8 179.7h1.7v1.7h-1.7zM402.3 171.2h1.7v1.7h-1.7zM403.0 171.2h1.7v1.7h-1.7zM387.3 164.7h1.7v1.7h-1.7zM387.5 168.0h1.7v1.7h-1.7zM401.6 174.4h1.7v1.7h-1.7zM381.2 156.8h1.7v1.7h-1.7zM383.7 158.6h1.7v1.7h-1.7zM417.3 182.7h1.7v1.7h-1.7zM393.4 171.4h1.7v1.7h-1.7zM392.5 170.7h1.7v1.7h-1.7zM387.7 167.8h1.7v1.7h-1.7zM378.4 158.8h1.7v1.7h-1.7zM387.2 167.6h1.7v1.7h-1.7zM415.6 177.5h1.7v1.7h-1.7zM410.6 175.6h1.7v1.7h-1.7zM392.2 171.1h1.7v1.7h-1.7zM392.2 162.0h1.7v1.7h-1.7zM408.1 176.5h1.7v1.7h-1.7zM394.9 169.8h1.7v1.7h-1.7zM382.4 166.3h1.7v1.7h-1.7zM398.1 169.8h1.7v1.7h-1.7zM410.9 170.3h1.7v1.7h-1.7zM407.5 171.4h1.7v1.7h-1.7zM406.1 177.0h1.7v1.7h-1.7zM415.4 174.0h1.7v1.7h-1.7zM402.1 172.0h1.7v1.7h-1.7zM399.6 168.8h1.7v1.7h-1.7zM416.3 181.5h1.7v1.7h-1.7zM398.3 170.6h1.7v1.7h-1.7zM390.5 169.0h1.7v1.7h-1.7zM377.8 156.8h1.7v1.7h-1.7zM386.3 165.3h1.7v1.7h-1.7zM405.6 173.6h1.7v1.7h-1.7zM397.0 167.1h1.7v1.7h-1.7zM417.7 178.0h1.7v1.7h-1.7zM381.5 161.1h1.7v1.7h-1.7zM402.8 171.0h1.7v1.7h-1.7zM398.4 157.9h1.7v1.7h-1.7zM413.5 180.5h1.7v1.7h-1.7zM395.5 169.6h1.7v1.7h-1.7zM410.7 172.5h1.7v1.7h-1.7zM418.7 180.4h1.7v1.7h-1.7zM387.2 167.9h1.7v1.7h-1.7zM411.3 176.7h1.7v1.7h-1.7zM397.6 171.8h1.7v1.7h-1.7zM414.2 180.3h1.7v1.7h-1.7zM414.4 174.6h1.7v1.7h-1.7zM415.6 170.6h1.7v1.7h-1.7zM389.7 162.9h1.7v1.7h-1.7zM402.9 175.8h1.7v1.7h-1.7zM390.3 166.1h1.7v1.7h-1.7zM414.9 178.1h1.7v1.7h-1.7zM381.6 152.5h1.7v1.7h-1.7zM403.4 175.2h1.7v1.7h-1.7zM407.5 164.8h1.7v1.7h-1.7zM389.2 167.5h1.7v1.7h-1.7zM388.3 167.9h1.7v1.7h-1.7zM401.1 173.8h1.7v1.7h-1.7zM525.6 199.4h1.6V205.1h-1.6zM392.1 142.3h1.7v1.7h-1.7zM411.1 134.7h1.7v1.7h-1.7zM401.6 153.7h1.7v1.7h-1.7zM390.2 149.9h1.7v1.7h-1.7zM435.8 184.1h1.7v1.7h-1.7zM487.1 193.6h1.7v1.7h-1.7zM521.3 208.8h1.7v1.7h-1.7zM489.8 250.6h1.7v1.7h-1.7zM517.5 250.6h1.7v1.7h-1.7zM513.7 248.0h1.7v1.7h-1.7zM490.9 246.8h1.7v1.7h-1.7zM536.5 216.4h1.7v1.7h-1.7zM468.1 191.7h1.7v1.7h-1.7zM454.8 184.1h1.7v1.7h-1.7zM426.3 172.7h1.7v1.7h-1.7zM420.6 170.8h1.7v1.7h-1.7zM441.5 180.3h1.7v1.7h-1.7z"/>
<polygon fill="#0283b8" points="376.9,132.1 377.9,132.1 377.9,132.5 378.9,132.5 378.9,149.8 379.8,149.8 379.8,164.9 380.8,164.9 380.8,168.2 381.8,168.2 381.8,168.7 382.8,168.7 382.8,170.6 383.8,170.6 383.8,171.6 384.8,171.6 384.8,172.1 385.8,172.1 385.8,172.2 386.8,172.2 386.8,171.6 387.8,171.6 387.8,173.3 388.7,173.3 388.7,172.6 389.7,172.6 389.7,173.7 390.7,173.7 390.7,174.3 391.7,174.3 391.7,173.6 392.7,173.6 392.7,175.2 393.7,175.2 393.7,174.5 394.7,174.5 394.7,175.5 395.7,175.5 395.7,176.0 396.6,176.0 396.6,175.8 397.6,175.8 397.6,178.3 398.6,178.3 398.6,178.7 399.6,178.7 399.6,178.5 400.6,178.5 400.6,179.4 401.6,179.4 401.6,179.4 402.6,179.4 402.6,180.6 403.6,180.6 403.6,179.9 404.5,179.9 404.5,180.7 405.5,180.7 405.5,181.9 406.5,181.9 406.5,181.1 407.5,181.1 407.5,182.2 408.5,182.2 408.5,191.3 409.5,191.3 409.5,185.1 410.5,185.1 410.5,188.9 411.5,188.9 411.5,190.0 412.4,190.0 412.4,190.3 413.4,190.3 413.4,196.1 414.4,196.1 414.4,216.4 413.4,216.4 413.4,220.5 412.4,220.5 412.4,220.1 411.5,220.1 411.5,216.2 410.5,216.2 410.5,217.2 409.5,217.2 409.5,213.6 408.5,213.6 408.5,220.8 407.5,220.8 407.5,222.6 406.5,222.6 406.5,220.8 405.5,220.8 405.5,220.3 404.5,220.3 404.5,219.6 403.6,219.6 403.6,219.6 402.6,219.6 402.6,221.7 401.6,221.7 401.6,220.5 400.6,220.5 400.6,219.6 399.6,219.6 399.6,218.6 398.6,218.6 398.6,219.9 397.6,219.9 397.6,219.7 396.6,219.7 396.6,218.0 395.7,218.0 395.7,218.6 394.7,218.6 394.7,217.3 393.7,217.3 393.7,219.2 392.7,219.2 392.7,217.8 391.7,217.8 391.7,219.4 390.7,219.4 390.7,220.1 389.7,220.1 389.7,218.5 388.7,218.5 388.7,221.0 387.8,221.0 387.8,218.6 386.8,218.6 386.8,221.4 385.8,221.4 385.8,219.9 384.8,219.9 384.8,221.4 383.8,221.4 383.8,219.4 382.8,219.4 382.8,221.1 381.8,221.1 381.8,221.6 380.8,221.6 380.8,217.8 379.8,217.8 379.8,218.6 378.9,218.6 378.9,213.9 377.9,213.9 377.9,206.5 376.9,206.5"/>
<path fill="#0283b8" d="M377.6 158.9h1.4v1.4h-1.4zM376.6 147.2h1.4v1.4h-1.4zM376.7 145.1h1.4v1.4h-1.4zM377.8 155.9h1.4v1.4h-1.4zM377.2 139.7h1.4v1.4h-1.4zM376.7 141.0h1.4v1.4h-1.4zM377.5 150.8h1.4v1.4h-1.4zM376.7 132.5h1.4v1.4h-1.4zM377.3 137.3h1.4v1.4h-1.4zM376.8 159.6h1.4v1.4h-1.4zM375.6 135.6h1.4v1.4h-1.4zM376.5 137.5h1.4v1.4h-1.4zM378.0 159.6h1.4v1.4h-1.4zM377.4 159.6h1.4v1.4h-1.4zM376.6 132.0h1.4v1.4h-1.4zM376.8 142.6h1.4v1.4h-1.4zM377.0 143.1h1.4v1.4h-1.4zM377.0 135.5h1.4v1.4h-1.4zM376.6 142.0h1.4v1.4h-1.4zM376.9 137.1h1.4v1.4h-1.4zM376.8 146.1h1.4v1.4h-1.4zM376.9 138.6h1.4v1.4h-1.4zM379.2 155.5h1.4v1.4h-1.4zM376.2 156.3h1.4v1.4h-1.4zM378.8 164.1h1.4v1.4h-1.4zM377.2 152.8h1.4v1.4h-1.4zM377.3 149.7h1.4v1.4h-1.4zM378.5 147.7h1.4v1.4h-1.4zM375.7 159.0h1.4v1.4h-1.4zM377.7 139.4h1.4v1.4h-1.4zM376.6 132.4h1.4v1.4h-1.4zM377.8 138.2h1.4v1.4h-1.4zM377.0 156.4h1.4v1.4h-1.4zM378.6 153.7h1.4v1.4h-1.4zM377.1 141.3h1.4v1.4h-1.4zM376.6 157.5h1.4v1.4h-1.4zM376.9 149.1h1.4v1.4h-1.4zM377.7 162.5h1.4v1.4h-1.4zM376.8 160.2h1.4v1.4h-1.4zM376.5 137.1h1.4v1.4h-1.4zM378.8 159.4h1.5v1.5h-1.5zM392.3 168.4h1.5v1.5h-1.5zM408.1 183.4h1.5v1.5h-1.5zM395.3 174.1h1.5v1.5h-1.5zM406.4 181.4h1.5v1.5h-1.5zM388.2 170.8h1.5v1.5h-1.5zM399.0 176.2h1.5v1.5h-1.5zM381.9 166.8h1.5v1.5h-1.5zM405.3 179.1h1.5v1.5h-1.5zM392.5 172.7h1.5v1.5h-1.5zM405.5 181.2h1.5v1.5h-1.5zM380.1 164.9h1.5v1.5h-1.5zM383.6 169.0h1.5v1.5h-1.5zM408.0 182.5h1.5v1.5h-1.5zM410.6 184.8h1.5v1.5h-1.5zM413.5 186.7h1.5v1.5h-1.5zM404.4 177.2h1.5v1.5h-1.5zM398.6 175.8h1.5v1.5h-1.5zM408.0 182.1h1.5v1.5h-1.5zM406.8 181.5h1.5v1.5h-1.5zM398.7 177.1h1.5v1.5h-1.5zM403.9 179.8h1.5v1.5h-1.5zM411.0 185.5h1.5v1.5h-1.5zM406.7 181.8h1.5v1.5h-1.5zM393.7 173.0h1.5v1.5h-1.5zM407.9 180.3h1.5v1.5h-1.5zM403.9 177.9h1.5v1.5h-1.5zM394.6 172.4h1.5v1.5h-1.5zM410.6 184.7h1.5v1.5h-1.5zM384.4 169.5h1.5v1.5h-1.5zM396.0 175.1h1.5v1.5h-1.5zM405.7 176.4h1.5v1.5h-1.5zM409.4 184.3h1.5v1.5h-1.5zM414.1 189.7h1.5v1.5h-1.5zM380.5 164.1h1.5v1.5h-1.5zM392.5 173.4h1.5v1.5h-1.5zM411.3 186.1h1.5v1.5h-1.5zM391.2 173.9h1.5v1.5h-1.5zM397.4 175.8h1.5v1.5h-1.5zM389.8 170.3h1.5v1.5h-1.5zM393.4 173.9h1.5v1.5h-1.5zM383.0 166.6h1.5v1.5h-1.5zM400.3 177.1h1.5v1.5h-1.5zM395.9 173.7h1.5v1.5h-1.5zM411.5 186.4h1.5v1.5h-1.5zM379.2 164.3h1.5v1.5h-1.5zM389.0 169.1h1.5v1.5h-1.5zM389.7 171.6h1.5v1.5h-1.5zM405.9 180.8h1.5v1.5h-1.5zM380.7 164.5h1.5v1.5h-1.5zM390.1 172.3h1.5v1.5h-1.5zM404.8 178.7h1.5v1.5h-1.5zM380.9 165.6h1.5v1.5h-1.5zM389.1 170.2h1.5v1.5h-1.5zM394.7 174.3h1.5v1.5h-1.5zM378.5 152.3h1.5v1.5h-1.5zM387.4 171.3h1.5v1.5h-1.5zM385.0 170.2h1.5v1.5h-1.5zM380.9 167.0h1.5v1.5h-1.5zM379.9 163.9h1.5v1.5h-1.5zM406.4 178.7h1.5v1.5h-1.5zM399.5 174.6h1.5v1.5h-1.5zM387.2 169.2h1.5v1.5h-1.5zM391.5 168.7h1.5v1.5h-1.5zM401.4 177.7h1.5v1.5h-1.5zM401.0 177.9h1.5v1.5h-1.5zM389.6 172.5h1.5v1.5h-1.5zM385.8 169.5h1.5v1.5h-1.5zM401.0 176.0h1.5v1.5h-1.5zM411.7 185.2h1.5v1.5h-1.5zM381.1 220.3h1.5v1.5h-1.5zM390.2 220.0h1.5v1.5h-1.5zM404.5 221.6h1.5v1.5h-1.5zM383.9 221.7h1.5v1.5h-1.5zM387.6 221.5h1.5v1.5h-1.5zM402.2 222.3h1.5v1.5h-1.5zM378.8 219.4h1.5v1.5h-1.5zM389.8 220.1h1.5v1.5h-1.5zM387.1 219.0h1.5v1.5h-1.5zM411.2 223.9h1.5v1.5h-1.5zM394.0 219.7h1.5v1.5h-1.5zM398.6 220.3h1.5v1.5h-1.5zM387.5 219.7h1.5v1.5h-1.5zM385.4 219.5h1.5v1.5h-1.5zM381.7 220.9h1.5v1.5h-1.5zM394.8 221.6h1.5v1.5h-1.5zM400.2 219.7h1.5v1.5h-1.5zM402.6 220.7h1.5v1.5h-1.5zM378.4 219.5h1.5v1.5h-1.5zM395.2 219.3h1.5v1.5h-1.5zM381.8 220.3h1.5v1.5h-1.5zM389.4 219.7h1.5v1.5h-1.5zM380.4 220.0h1.5v1.5h-1.5zM381.9 225.3h1.5v1.5h-1.5zM408.4 222.7h1.5v1.5h-1.5zM390.7 161.4h1.6V173.6h-1.6zM404.7 166.0h1.6V179.3h-1.6zM415.8 188.8h1.6V219.9h-1.6zM418.0 185.0h1.6V217.3h-1.6zM420.7 192.6h1.6V219.2h-1.6zM423.0 173.6h1.6V204.0h-1.6zM426.4 198.3h1.6V209.7h-1.6zM431.3 212.3h1.6V229.8h-1.6zM434.7 213.5h1.6V231.3h-1.6zM428.7 171.7h1.6V177.4h-1.6zM415.0 173.6h1.6V185.0h-1.6zM470.1 226.0h1.6V230.6h-1.6zM471.6 227.5h1.6V231.3h-1.6zM494.8 223.7h1.6V227.5h-1.6zM511.9 230.6h1.6V235.1h-1.6zM442.3 227.5h1.6V229.8h-1.6zM380.8 219.2h1.6V224.9h-1.6zM539.8 219.6h1.6V226.4h-1.6z"/>
<circle cx="471.9" cy="227.4" r="1.5" fill="#0a0a0a"/>
<rect x="358.6" y="132.0" width="183.5" height="137.8" fill="none" stroke="#8a8a8a" stroke-width="0.7"/>
<text x="356.0" y="133.5" font-family="DejaVu Sans, Liberation Sans, sans-serif" font-size="4.3" text-anchor="end" fill="#555">10</text>
<text x="356.0" y="156.5" font-family="DejaVu Sans, Liberation Sans, sans-serif" font-size="4.3" text-anchor="end" fill="#555">5</text>
<text x="356.0" y="179.5" font-family="DejaVu Sans, Liberation Sans, sans-serif" font-size="4.3" text-anchor="end" fill="#555">0</text>
<text x="356.0" y="202.5" font-family="DejaVu Sans, Liberation Sans, sans-serif" font-size="4.3" text-anchor="end" fill="#555">−5</text>
<text x="356.0" y="225.5" font-family="DejaVu Sans, Liberation Sans, sans-serif" font-size="4.3" text-anchor="end" fill="#555">−10</text>
<text x="356.0" y="248.5" font-family="DejaVu Sans, Liberation Sans, sans-serif" font-size="4.3" text-anchor="end" fill="#555">−15</text>
<text x="356.0" y="271.5" font-family="DejaVu Sans, Liberation Sans, sans-serif" font-size="4.3" text-anchor="end" fill="#555">−20</text>
<text x="376.5" y="275.6" font-family="DejaVu Sans, Liberation Sans, sans-serif" font-size="4.3" text-anchor="middle" fill="#555">0</text>
<text x="409.6" y="275.6" font-family="DejaVu Sans, Liberation Sans, sans-serif" font-size="4.3" text-anchor="middle" fill="#555">200</text>
<text x="442.8" y="275.6" font-family="DejaVu Sans, Liberation Sans, sans-serif" font-size="4.3" text-anchor="middle" fill="#555">400</text>
<text x="475.9" y="275.6" font-family="DejaVu Sans, Liberation Sans, sans-serif" font-size="4.3" text-anchor="middle" fill="#555">600</text>
<text x="509.1" y="275.6" font-family="DejaVu Sans, Liberation Sans, sans-serif" font-size="4.3" text-anchor="middle" fill="#555">800</text>
<text x="542.2" y="275.6" font-family="DejaVu Sans, Liberation Sans, sans-serif" font-size="4.3" text-anchor="middle" fill="#555">1000</text>
<path d="M357.0 132.0H358.6M357.0 155.0H358.6M357.0 178.0H358.6M357.0 201.0H358.6M357.0 224.0H358.6M357.0 247.0H358.6M357.0 270.0H358.6M376.5 269.8V271.4M409.6 269.8V271.4M442.8 269.8V271.4M475.9 269.8V271.4M509.1 269.8V271.4M542.2 269.8V271.4" stroke="#777" stroke-width="0.45" fill="none"/>
<text x="450.2" y="280.3" font-family="DejaVu Sans, Liberation Sans, sans-serif" font-size="4.5" text-anchor="middle" fill="#555">Number of residues</text>
<text transform="translate(343 201) rotate(-90)" font-family="DejaVu Sans, Liberation Sans, sans-serif" font-size="4.3" text-anchor="middle" fill="#555">Z-score</text>
<rect x="510.7" y="134.4" width="11.8" height="3.4" fill="#aac6e1"/>
<rect x="510.7" y="140.2" width="11.8" height="3.4" fill="#0283b8"/>
<text x="525.2" y="137.7" font-family="DejaVu Sans, Liberation Sans, sans-serif" font-size="4.6" fill="#222">X-ray</text>
<text x="525.2" y="143.6" font-family="DejaVu Sans, Liberation Sans, sans-serif" font-size="4.6" fill="#222">NMR</text>
</g>
<g id="panelE">
<rect x="58.8" y="289.7" width="484.2" height="79.9" fill="#fff" stroke="#444" stroke-width="0.6"/>
<path d="M58.8 318.3H543.0M58.8 335.4H543.0" stroke="#555" stroke-width="0.55" fill="none"/>
<path d="M59.06 369.60V362.24h1.62V369.60M60.67 369.60V367.15h1.62V369.60M62.29 369.60V365.51h1.62V369.60M63.91 369.60V363.87h1.62V369.60M65.53 369.60V363.05h1.62V369.60M67.15 369.60V365.51h1.62V369.60M68.76 369.60V364.36h1.62V369.60M70.38 369.60V361.42h1.62V369.60M72.00 369.60V357.82h1.62V369.60M73.62 369.60V352.42h1.62V369.60M75.24 369.60V354.87h1.62V369.60M76.85 369.60V356.51h1.62V369.60M78.47 369.60V358.14h1.62V369.60M80.09 369.60V356.51h1.62V369.60M81.71 369.60V345.05h1.62V369.60M83.33 369.60V355.69h1.62V369.60M84.94 369.60V354.87h1.62V369.60M86.56 369.60V361.42h1.62V369.60M88.18 369.60V365.51h1.62V369.60M89.80 369.60V364.36h1.62V369.60M91.42 369.60V355.69h1.62V369.60M93.03 369.60V341.78h1.62V369.60M94.65 369.60V349.96h1.62V369.60M96.27 369.60V351.60h1.62V369.60M97.89 369.60V356.51h1.62V369.60M99.51 369.60V348.32h1.62V369.60M101.12 369.60V347.01h1.62V369.60M102.74 369.60V359.78h1.62V369.60M104.36 369.60V359.45h1.62V369.60M105.98 369.60V358.96h1.62V369.60M107.60 369.60V364.69h1.62V369.60M109.21 369.60V365.51h1.62V369.60M110.83 369.60V362.73h1.62V369.60M112.45 369.60V366.33h1.62V369.60M114.07 369.60V367.15h1.62V369.60M115.69 369.60V358.63h1.62V369.60M117.30 369.60V364.69h1.62V369.60M118.92 369.60V359.78h1.62V369.60M120.54 369.60V358.14h1.62V369.60M122.16 369.60V354.54h1.62V369.60M123.78 369.60V351.27h1.62V369.60M125.39 369.60V354.05h1.62V369.60M127.01 369.60V357.33h1.62V369.60M128.63 369.60V358.14h1.62V369.60M130.25 369.60V359.78h1.62V369.60M131.87 369.60V352.42h1.62V369.60M133.48 369.60V348.32h1.62V369.60M135.10 369.60V336.05h1.62V369.60M136.72 369.60V339.32h1.62V369.60M138.34 369.60V343.41h1.62V369.60M139.96 369.60V341.78h1.62V369.60M141.57 369.60V350.78h1.62V369.60M143.19 369.60V357.33h1.62V369.60M144.81 369.60V358.14h1.62V369.60M146.43 369.60V359.78h1.62V369.60M148.05 369.60V359.78h1.62V369.60M149.66 369.60V356.51h1.62V369.60M151.28 369.60V363.05h1.62V369.60M152.90 369.60V360.60h1.62V369.60M154.52 369.60V361.42h1.62V369.60M156.14 369.60V365.51h1.62V369.60M157.75 369.60V365.51h1.62V369.60M159.37 369.60V365.02h1.62V369.60M160.99 369.60V364.69h1.62V369.60M162.61 369.60V355.69h1.62V369.60M164.23 369.60V363.87h1.62V369.60M165.84 369.60V360.60h1.62V369.60M167.46 369.60V361.42h1.62V369.60M169.08 369.60V356.51h1.62V369.60M170.70 369.60V351.60h1.62V369.60M172.31 369.60V346.69h1.62V369.60M173.93 369.60V356.51h1.62V369.60M175.55 369.60V349.14h1.62V369.60M177.17 369.60V350.78h1.62V369.60M178.79 369.60V354.05h1.62V369.60M180.41 369.60V343.41h1.62V369.60M182.02 369.60V353.23h1.62V369.60M183.64 369.60V349.96h1.62V369.60M185.26 369.60V347.51h1.62V369.60M186.88 369.60V339.32h1.62V369.60M188.50 369.60V336.54h1.62V369.60M190.11 369.60V340.96h1.62V369.60M191.73 369.60V340.14h1.62V369.60M193.35 369.60V351.60h1.62V369.60M194.97 369.60V352.42h1.62V369.60M196.59 369.60V344.23h1.62V369.60M198.20 369.60V359.78h1.62V369.60M199.82 369.60V364.69h1.62V369.60M201.44 369.60V363.87h1.62V369.60M206.29 369.60V363.05h1.62V369.60M207.91 369.60V361.42h1.62V369.60M209.53 369.60V358.96h1.62V369.60M211.15 369.60V345.87h1.62V369.60M217.62 369.60V345.05h1.62V369.60M219.24 369.60V349.14h1.62V369.60M220.86 369.60V354.05h1.62V369.60M222.47 369.60V351.60h1.62V369.60M224.09 369.60V347.51h1.62V369.60M225.71 369.60V347.51h1.62V369.60M227.33 369.60V358.96h1.62V369.60M228.95 369.60V360.60h1.62V369.60M230.56 369.60V359.78h1.62V369.60M232.18 369.60V360.60h1.62V369.60M233.80 369.60V358.96h1.62V369.60M235.42 369.60V355.69h1.62V369.60M237.04 369.60V355.20h1.62V369.60M238.65 369.60V355.20h1.62V369.60M240.27 369.60V356.18h1.62V369.60M241.89 369.60V365.51h1.62V369.60M243.51 369.60V364.69h1.62V369.60M245.12 369.60V363.38h1.62V369.60M246.74 369.60V363.05h1.62V369.60M248.36 369.60V352.42h1.62V369.60M249.98 369.60V355.20h1.62V369.60M251.60 369.60V353.23h1.62V369.60M253.22 369.60V353.56h1.62V369.60M254.83 369.60V360.60h1.62V369.60M256.45 369.60V355.69h1.62V369.60M258.07 369.60V356.83h1.62V369.60M259.69 369.60V358.14h1.62V369.60M261.30 369.60V364.69h1.62V369.60M262.92 369.60V364.36h1.62V369.60M264.54 369.60V360.60h1.62V369.60M266.16 369.60V350.29h1.62V369.60M267.78 369.60V350.78h1.62V369.60M269.39 369.60V346.69h1.62V369.60M271.01 369.60V343.41h1.62V369.60M274.25 369.60V339.32h1.62V369.60M275.87 369.60V343.41h1.62V369.60M277.48 369.60V351.60h1.62V369.60M279.10 369.60V359.78h1.62V369.60M280.72 369.60V362.24h1.62V369.60M282.34 369.60V365.51h1.62V369.60M283.96 369.60V364.69h1.62V369.60M285.57 369.60V361.42h1.62V369.60M287.19 369.60V347.51h1.62V369.60M288.81 369.60V351.60h1.62V369.60M290.43 369.60V348.65h1.62V369.60M292.05 369.60V349.14h1.62V369.60M293.66 369.60V344.23h1.62V369.60M295.28 369.60V350.78h1.62V369.60M296.90 369.60V345.05h1.62V369.60M298.52 369.60V345.87h1.62V369.60M300.14 369.60V345.05h1.62V369.60M304.99 369.60V338.50h1.62V369.60M308.23 369.60V341.78h1.62V369.60M309.84 369.60V345.05h1.62V369.60M311.46 369.60V345.05h1.62V369.60M313.08 369.60V354.87h1.62V369.60M314.70 369.60V348.32h1.62V369.60M316.32 369.60V361.42h1.62V369.60M317.93 369.60V364.69h1.62V369.60M319.55 369.60V367.15h1.62V369.60M321.17 369.60V366.33h1.62V369.60M322.79 369.60V358.14h1.62V369.60M324.41 369.60V350.78h1.62V369.60M326.02 369.60V348.65h1.62V369.60M327.64 369.60V349.63h1.62V369.60M329.26 369.60V351.60h1.62V369.60M330.88 369.60V356.51h1.62V369.60M332.50 369.60V359.78h1.62V369.60M334.11 369.60V363.87h1.62V369.60M335.73 369.60V364.36h1.62V369.60M337.35 369.60V358.14h1.62V369.60M338.97 369.60V351.60h1.62V369.60M340.59 369.60V345.87h1.62V369.60M342.20 369.60V345.05h1.62V369.60M353.53 369.60V352.42h1.62V369.60M355.15 369.60V354.87h1.62V369.60M356.77 369.60V361.42h1.62V369.60M358.38 369.60V362.24h1.62V369.60M360.00 369.60V365.51h1.62V369.60M361.62 369.60V363.87h1.62V369.60M363.24 369.60V363.38h1.62V369.60M364.86 369.60V359.78h1.62V369.60M366.47 369.60V360.60h1.62V369.60M368.09 369.60V351.92h1.62V369.60M369.71 369.60V356.18h1.62V369.60M371.33 369.60V359.78h1.62V369.60M372.95 369.60V360.60h1.62V369.60M374.56 369.60V362.24h1.62V369.60M376.18 369.60V359.78h1.62V369.60M377.80 369.60V363.87h1.62V369.60M379.42 369.60V365.51h1.62V369.60M381.04 369.60V363.87h1.62V369.60M382.65 369.60V359.45h1.62V369.60M384.27 369.60V360.60h1.62V369.60M385.89 369.60V361.42h1.62V369.60M387.51 369.60V363.05h1.62V369.60M389.13 369.60V355.20h1.62V369.60M390.74 369.60V358.14h1.62V369.60M392.36 369.60V340.47h1.62V369.60M393.98 369.60V354.54h1.62V369.60M395.60 369.60V347.51h1.62V369.60M397.22 369.60V345.87h1.62V369.60M398.83 369.60V337.69h1.62V369.60M400.45 369.60V352.42h1.62V369.60M402.07 369.60V348.65h1.62V369.60M403.69 369.60V337.69h1.62V369.60M405.31 369.60V340.14h1.62V369.60M408.54 369.60V341.45h1.62V369.60M410.16 369.60V340.47h1.62V369.60M411.78 369.60V339.32h1.62V369.60M413.40 369.60V338.50h1.62V369.60M415.01 369.60V341.78h1.62V369.60M418.25 369.60V338.50h1.62V369.60M419.87 369.60V340.96h1.62V369.60M421.49 369.60V342.60h1.62V369.60M423.10 369.60V338.50h1.62V369.60M424.72 369.60V343.41h1.62V369.60M426.34 369.60V344.72h1.62V369.60M427.96 369.60V345.87h1.62V369.60M429.58 369.60V350.78h1.62V369.60M431.19 369.60V355.20h1.62V369.60M432.81 369.60V355.69h1.62V369.60M434.43 369.60V352.42h1.62V369.60M436.05 369.60V355.20h1.62V369.60M437.67 369.60V359.45h1.62V369.60M439.28 369.60V363.05h1.62V369.60M440.90 369.60V361.42h1.62V369.60M442.52 369.60V358.96h1.62V369.60M444.14 369.60V352.42h1.62V369.60M445.76 369.60V348.65h1.62V369.60M447.37 369.60V345.87h1.62V369.60M448.99 369.60V347.51h1.62V369.60M450.61 369.60V351.60h1.62V369.60M452.23 369.60V355.20h1.62V369.60M453.85 369.60V354.54h1.62V369.60M455.46 369.60V349.96h1.62V369.60M457.08 369.60V343.41h1.62V369.60M458.70 369.60V343.90h1.62V369.60M460.32 369.60V353.23h1.62V369.60M461.94 369.60V358.96h1.62V369.60M463.55 369.60V364.36h1.62V369.60M465.17 369.60V365.51h1.62V369.60M466.79 369.60V362.24h1.62V369.60M468.41 369.60V362.24h1.62V369.60M470.03 369.60V364.69h1.62V369.60M471.64 369.60V365.51h1.62V369.60M473.26 369.60V366.33h1.62V369.60M474.88 369.60V364.36h1.62V369.60M476.50 369.60V364.69h1.62V369.60M478.12 369.60V360.60h1.62V369.60M479.73 369.60V353.23h1.62V369.60M481.35 369.60V345.05h1.62V369.60M482.97 369.60V336.54h1.62V369.60M484.59 369.60V346.36h1.62V369.60M486.21 369.60V345.87h1.62V369.60M487.82 369.60V354.05h1.62V369.60M489.44 369.60V362.24h1.62V369.60M491.06 369.60V357.33h1.62V369.60M492.68 369.60V358.96h1.62V369.60M494.30 369.60V360.11h1.62V369.60M495.91 369.60V357.33h1.62V369.60M497.53 369.60V351.60h1.62V369.60M499.15 369.60V346.69h1.62V369.60M500.77 369.60V343.74h1.62V369.60M502.39 369.60V336.87h1.62V369.60M505.62 369.60V348.65h1.62V369.60M507.24 369.60V354.05h1.62V369.60M508.86 369.60V357.33h1.62V369.60M510.48 369.60V358.47h1.62V369.60M512.10 369.60V355.69h1.62V369.60M513.71 369.60V354.05h1.62V369.60M515.33 369.60V351.27h1.62V369.60M518.57 369.60V345.87h1.62V369.60M528.28 369.60V351.60h1.62V369.60M529.89 369.60V348.65h1.62V369.60M531.51 369.60V346.69h1.62V369.60M533.13 369.60V347.51h1.62V369.60M534.75 369.60V354.05h1.62V369.60M536.37 369.60V354.87h1.62V369.60M537.98 369.60V359.45h1.62V369.60M539.60 369.60V360.11h1.62V369.60M541.22 369.60V361.09h1.62V369.60" fill="#d6d6d6" stroke="#4c4c4c" stroke-width="0.4"/>
<path d="M212.77 369.60V334.41h1.62V369.60M214.38 369.60V325.41h1.62V369.60M216.00 369.60V327.87h1.62V369.60M272.63 369.60V331.14h1.62V369.60M301.75 369.60V334.41h1.62V369.60M303.37 369.60V327.37h1.62V369.60M306.61 369.60V334.41h1.62V369.60M343.82 369.60V324.59h1.62V369.60M345.44 369.60V323.45h1.62V369.60M350.29 369.60V335.23h1.62V369.60M351.91 369.60V336.05h1.62V369.60M406.92 369.60V334.90h1.62V369.60M416.63 369.60V332.78h1.62V369.60M504.00 369.60V325.08h1.62V369.60M516.95 369.60V334.90h1.62V369.60M520.19 369.60V326.72h1.62V369.60" fill="#c4bb0a" stroke="#817b06" stroke-width="0.4"/>
<path d="M347.06 369.60V313.63h1.62V369.60M348.68 369.60V318.05h1.62V369.60" fill="#d01818" stroke="#801010" stroke-width="0.5"/>
<path d="M58.8 369.6H543.0" stroke="#444" stroke-width="0.6"/>
<text transform="translate(62.6 375.6) scale(1.25 1)" font-family="Liberation Sans, Arial, sans-serif" font-size="6.3" text-anchor="middle" fill="#2b3640">20</text>
<text transform="translate(95.0 375.6) scale(1.25 1)" font-family="Liberation Sans, Arial, sans-serif" font-size="6.3" text-anchor="middle" fill="#2b3640">40</text>
<text transform="translate(127.3 375.6) scale(1.25 1)" font-family="Liberation Sans, Arial, sans-serif" font-size="6.3" text-anchor="middle" fill="#2b3640">60</text>
<text transform="translate(159.7 375.6) scale(1.25 1)" font-family="Liberation Sans, Arial, sans-serif" font-size="6.3" text-anchor="middle" fill="#2b3640">80</text>
<text transform="translate(192.0 375.6) scale(1.25 1)" font-family="Liberation Sans, Arial, sans-serif" font-size="6.3" text-anchor="middle" fill="#2b3640">100</text>
<text transform="translate(224.4 375.6) scale(1.25 1)" font-family="Liberation Sans, Arial, sans-serif" font-size="6.3" text-anchor="middle" fill="#2b3640">120</text>
<text transform="translate(256.8 375.6) scale(1.25 1)" font-family="Liberation Sans, Arial, sans-serif" font-size="6.3" text-anchor="middle" fill="#2b3640">140</text>
<text transform="translate(289.1 375.6) scale(1.25 1)" font-family="Liberation Sans, Arial, sans-serif" font-size="6.3" text-anchor="middle" fill="#2b3640">160</text>
<text transform="translate(321.5 375.6) scale(1.25 1)" font-family="Liberation Sans, Arial, sans-serif" font-size="6.3" text-anchor="middle" fill="#2b3640">180</text>
<text transform="translate(353.8 375.6) scale(1.25 1)" font-family="Liberation Sans, Arial, sans-serif" font-size="6.3" text-anchor="middle" fill="#2b3640">200</text>
<text transform="translate(386.2 375.6) scale(1.25 1)" font-family="Liberation Sans, Arial, sans-serif" font-size="6.3" text-anchor="middle" fill="#2b3640">220</text>
<text transform="translate(418.6 375.6) scale(1.25 1)" font-family="Liberation Sans, Arial, sans-serif" font-size="6.3" text-anchor="middle" fill="#2b3640">240</text>
<text transform="translate(450.9 375.6) scale(1.25 1)" font-family="Liberation Sans, Arial, sans-serif" font-size="6.3" text-anchor="middle" fill="#2b3640">260</text>
<text transform="translate(483.3 375.6) scale(1.25 1)" font-family="Liberation Sans, Arial, sans-serif" font-size="6.3" text-anchor="middle" fill="#2b3640">280</text>
<text transform="translate(515.6 375.6) scale(1.25 1)" font-family="Liberation Sans, Arial, sans-serif" font-size="6.3" text-anchor="middle" fill="#2b3640">300</text>
<path d="M62.6 369.6v1.3M78.8 369.6v1.3M95.0 369.6v1.3M111.1 369.6v1.3M127.3 369.6v1.3M143.5 369.6v1.3M159.7 369.6v1.3M175.9 369.6v1.3M192.0 369.6v1.3M208.2 369.6v1.3M224.4 369.6v1.3M240.6 369.6v1.3M256.8 369.6v1.3M272.9 369.6v1.3M289.1 369.6v1.3M305.3 369.6v1.3M321.5 369.6v1.3M337.7 369.6v1.3M353.8 369.6v1.3M370.0 369.6v1.3M386.2 369.6v1.3M402.4 369.6v1.3M418.6 369.6v1.3M434.7 369.6v1.3M450.9 369.6v1.3M467.1 369.6v1.3M483.3 369.6v1.3M499.5 369.6v1.3M515.6 369.6v1.3M531.8 369.6v1.3M57.4 318.3H58.8M57.4 335.4H58.8" stroke="#444" stroke-width="0.5" fill="none"/>
<text transform="translate(56.3 320.5) scale(1.24 1)" font-family="Liberation Sans, Arial, sans-serif" font-size="6.1" text-anchor="end" fill="#2b3640">99%</text>
<text transform="translate(56.3 337.6) scale(1.24 1)" font-family="Liberation Sans, Arial, sans-serif" font-size="6.1" text-anchor="end" fill="#2b3640">95%</text>
<text transform="translate(37.5 324.3) rotate(-90)" font-family="Liberation Sans, Arial, sans-serif" font-size="9.4" text-anchor="middle" fill="#2b3640" textLength="35.8" lengthAdjust="spacingAndGlyphs">Error value*</text>
</g>
<g id="labels"><text x="8.9" y="10.9" font-family="Liberation Serif, serif" font-weight="bold" font-size="10.9" fill="#111">A</text><text x="6.3" y="145.2" font-family="Liberation Serif, serif" font-weight="bold" font-size="10.9" fill="#111">B</text><text x="318.0" y="13.1" font-family="Liberation Serif, serif" font-weight="bold" font-size="10.9" fill="#111">C</text><text x="318.0" y="145.2" font-family="Liberation Serif, serif" font-weight="bold" font-size="10.9" fill="#111">D</text><text x="3.8" y="296.0" font-family="Liberation Serif, serif" font-weight="bold" font-size="10.9" fill="#111">E</text></g>
</svg>
</body></html>
